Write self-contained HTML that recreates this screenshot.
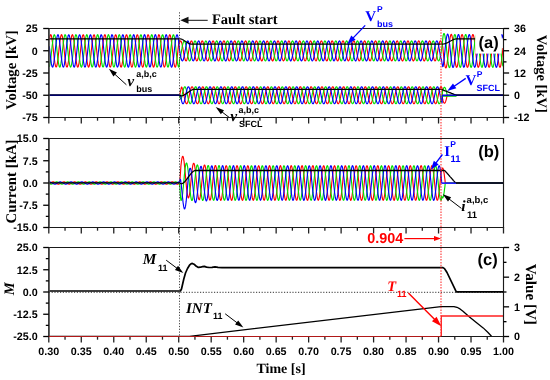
<!DOCTYPE html>
<html><head><meta charset="utf-8"><title>SFCL fault waveforms</title>
<style>html,body{margin:0;padding:0;background:#fff;}svg{display:block;}</style></head>
<body><svg width="550" height="380" viewBox="0 0 550 380" text-rendering="geometricPrecision">
<rect width="550" height="380" fill="#fff"/>
<g id="plot"><polyline points="49.3,39.8 49.7,37.6 50.0,36.0 50.4,35.0 50.7,34.7 51.1,35.0 51.4,36.0 51.8,37.6 52.1,39.8 52.5,42.4 52.8,45.3 53.2,48.5 53.5,51.8 53.9,55.0 54.2,58.1 54.6,60.9 54.9,63.3 55.3,65.1 55.6,66.4 56.0,67.0 56.3,67.0 56.7,66.3 57.0,65.0 57.4,63.1 57.7,60.7 58.1,57.9 58.4,54.8 58.8,51.5 59.1,48.3 59.5,45.1 59.8,42.2 60.2,39.6 60.5,37.5 60.9,35.9 61.2,35.0 61.6,34.7 61.9,35.1 62.3,36.1 62.6,37.8 63.0,39.9 63.3,42.6 63.7,45.6 64.0,48.7 64.4,52.0 64.7,55.3 65.1,58.3 65.4,61.1 65.8,63.4 66.1,65.2 66.5,66.5 66.8,67.0 67.2,67.0 67.5,66.2 67.9,64.9 68.2,62.9 68.6,60.5 68.9,57.7 69.3,54.5 69.6,51.3 70.0,48.0 70.3,44.9 70.7,41.9 71.0,39.4 71.4,37.3 71.7,35.8 72.1,34.9 72.4,34.7 72.8,35.1 73.1,36.2 73.5,37.9 73.8,40.1 74.2,42.8 74.5,45.8 74.9,49.0 75.2,52.3 75.6,55.5 75.9,58.5 76.3,61.3 76.6,63.6 77.0,65.3 77.3,66.5 77.7,67.1 78.0,66.9 78.4,66.2 78.7,64.7 79.1,62.8 79.4,60.3 79.8,57.4 80.1,54.3 80.5,51.0 80.8,47.8 81.2,44.6 81.5,41.7 81.9,39.2 82.2,37.2 82.6,35.7 82.9,34.9 83.3,34.7 83.6,35.2 84.0,36.3 84.3,38.1 84.7,40.3 85.0,43.0 85.4,46.0 85.7,49.2 86.1,52.5 86.4,55.7 86.8,58.8 87.1,61.5 87.5,63.7 87.8,65.5 88.2,66.6 88.5,67.1 88.9,66.9 89.2,66.1 89.6,64.6 89.9,62.6 90.3,60.1 90.6,57.2 91.0,54.1 91.3,50.8 91.7,47.5 92.0,44.4 92.4,41.5 92.7,39.1 93.1,37.1 93.4,35.7 93.8,34.9 94.1,34.7 94.5,35.3 94.8,36.4 95.2,38.2 95.5,40.5 95.9,43.2 96.2,46.3 96.6,49.5 96.9,52.8 97.3,56.0 97.6,59.0 98.0,61.6 98.3,63.9 98.7,65.6 99.0,66.7 99.4,67.1 99.7,66.9 100.1,66.0 100.4,64.5 100.8,62.4 101.1,59.9 101.5,57.0 101.8,53.8 102.2,50.5 102.5,47.3 102.9,44.2 103.2,41.3 103.6,38.9 103.9,36.9 104.3,35.6 104.6,34.8 105.0,34.7 105.3,35.3 105.7,36.5 106.0,38.4 106.4,40.7 106.7,43.4 107.1,46.5 107.4,49.7 107.8,53.0 108.1,56.2 108.5,59.2 108.8,61.8 109.2,64.0 109.5,65.7 109.9,66.7 110.2,67.1 110.6,66.8 110.9,65.9 111.3,64.3 111.6,62.2 112.0,59.7 112.3,56.8 112.7,53.6 113.0,50.3 113.4,47.0 113.7,44.0 114.1,41.1 114.4,38.7 114.8,36.8 115.1,35.5 115.5,34.8 115.8,34.8 116.2,35.4 116.5,36.7 116.9,38.5 117.2,40.9 117.6,43.7 117.9,46.7 118.3,50.0 118.6,53.3 119.0,56.4 119.3,59.4 119.7,62.0 120.0,64.2 120.4,65.8 120.7,66.8 121.1,67.1 121.4,66.8 121.8,65.8 122.1,64.2 122.5,62.1 122.8,59.5 123.2,56.5 123.5,53.3 123.9,50.1 124.2,46.8 124.6,43.7 124.9,40.9 125.3,38.6 125.6,36.7 126.0,35.4 126.3,34.8 126.7,34.8 127.0,35.5 127.4,36.8 127.7,38.7 128.1,41.1 128.4,43.9 128.8,47.0 129.1,50.2 129.5,53.5 129.8,56.7 130.2,59.6 130.5,62.2 130.9,64.3 131.2,65.9 131.6,66.8 131.9,67.1 132.3,66.7 132.6,65.7 133.0,64.1 133.3,61.9 133.7,59.3 134.0,56.3 134.4,53.1 134.7,49.8 135.1,46.6 135.4,43.5 135.8,40.8 136.1,38.4 136.5,36.6 136.8,35.4 137.2,34.8 137.5,34.8 137.9,35.5 138.2,36.9 138.6,38.8 138.9,41.3 139.3,44.1 139.6,47.2 140.0,50.5 140.3,53.7 140.7,56.9 141.0,59.8 141.4,62.4 141.7,64.4 142.1,66.0 142.4,66.9 142.8,67.1 143.1,66.7 143.5,65.6 143.8,63.9 144.2,61.7 144.5,59.0 144.9,56.1 145.2,52.9 145.6,49.6 145.9,46.3 146.3,43.3 146.6,40.6 147.0,38.3 147.3,36.5 147.7,35.3 148.0,34.7 148.4,34.9 148.7,35.6 149.1,37.0 149.4,39.0 149.8,41.5 150.1,44.3 150.5,47.4 150.8,50.7 151.2,54.0 151.5,57.1 151.9,60.0 152.2,62.5 152.6,64.6 152.9,66.0 153.3,66.9 153.6,67.1 154.0,66.6 154.3,65.5 154.7,63.8 155.0,61.5 155.4,58.8 155.7,55.8 156.1,52.6 156.4,49.3 156.8,46.1 157.1,43.1 157.5,40.4 157.8,38.1 158.2,36.4 158.5,35.2 158.9,34.7 159.2,34.9 159.6,35.7 159.9,37.2 160.3,39.2 160.6,41.7 161.0,44.6 161.3,47.7 161.7,51.0 162.0,54.2 162.4,57.4 162.7,60.2 163.1,62.7 163.4,64.7 163.8,66.1 164.1,66.9 164.5,67.1 164.8,66.5 165.2,65.4 165.5,63.6 165.9,61.3 166.2,58.6 166.6,55.6 166.9,52.4 167.3,49.1 167.6,45.9 168.0,42.9 168.3,40.2 168.7,38.0 169.0,36.3 169.4,35.2 169.7,34.7 170.1,34.9 170.4,35.8 170.8,37.3 171.1,39.3 171.5,41.9 171.8,44.8 172.2,47.9 172.5,51.2 172.9,54.5 173.2,57.6 173.6,60.4 173.9,62.9 174.3,64.8 174.6,66.2 175.0,67.0 175.3,67.1 175.7,66.5 176.0,65.3 176.4,63.5 176.7,61.1 177.1,58.4 177.4,55.4 177.8,52.1 178.1,48.8 178.5,45.6 178.8,42.6 179.2,40.0 179.5,42.8 179.9,41.8 180.2,41.1 180.6,40.9 180.9,41.1 181.3,41.6 181.6,42.6 182.0,43.9 182.3,45.5 182.7,47.3 183.0,49.2 183.4,51.2 183.7,53.3 184.1,55.2 184.4,56.9 184.8,58.4 185.1,59.6 185.5,60.4 185.8,60.8 186.2,60.9 186.5,60.5 186.9,59.7 187.2,58.6 187.6,57.1 187.9,55.4 188.3,53.5 188.6,51.5 189.0,49.5 189.3,47.5 189.7,45.7 190.0,44.1 190.4,42.7 190.7,41.7 191.1,41.1 191.4,40.9 191.8,41.1 192.1,41.7 192.5,42.7 192.8,44.0 193.2,45.6 193.5,47.4 193.9,49.4 194.2,51.4 194.6,53.4 194.9,55.3 195.3,57.0 195.6,58.5 196.0,59.6 196.3,60.4 196.7,60.9 197.0,60.8 197.4,60.4 197.7,59.6 198.1,58.5 198.4,57.0 198.8,55.3 199.1,53.4 199.5,51.3 199.8,49.3 200.2,47.4 200.5,45.5 200.9,44.0 201.2,42.6 201.6,41.7 201.9,41.1 202.3,40.9 202.6,41.1 203.0,41.8 203.3,42.8 203.7,44.1 204.0,45.7 204.4,47.5 204.7,49.5 205.1,51.5 205.4,53.5 205.8,55.4 206.1,57.1 206.5,58.6 206.8,59.7 207.2,60.5 207.5,60.9 207.9,60.8 208.2,60.4 208.6,59.6 208.9,58.4 209.3,56.9 209.6,55.1 210.0,53.2 210.3,51.2 210.7,49.2 211.0,47.2 211.4,45.4 211.7,43.8 212.1,42.6 212.4,41.6 212.8,41.1 213.1,40.9 213.5,41.2 213.8,41.8 214.2,42.8 214.5,44.2 214.9,45.8 215.2,47.7 215.6,49.7 215.9,51.7 216.3,53.7 216.6,55.6 217.0,57.3 217.3,58.7 217.7,59.8 218.0,60.5 218.4,60.9 218.7,60.8 219.1,60.3 219.4,59.5 219.8,58.3 220.1,56.7 220.5,55.0 220.8,53.1 221.2,51.0 221.5,49.0 221.9,47.1 222.2,45.3 222.6,43.7 222.9,42.5 223.3,41.6 223.6,41.0 224.0,40.9 224.3,41.2 224.7,41.9 225.0,42.9 225.4,44.3 225.7,46.0 226.1,47.8 226.4,49.8 226.8,51.8 227.1,53.8 227.5,55.7 227.8,57.4 228.2,58.8 228.5,59.9 228.9,60.6 229.2,60.9 229.6,60.8 229.9,60.3 230.3,59.4 230.6,58.2 231.0,56.6 231.3,54.8 231.7,52.9 232.0,50.9 232.4,48.9 232.7,46.9 233.1,45.2 233.4,43.6 233.8,42.4 234.1,41.5 234.5,41.0 234.8,40.9 235.2,41.2 235.5,41.9 235.9,43.0 236.2,44.4 236.6,46.1 236.9,48.0 237.3,50.0 237.6,52.0 238.0,54.0 238.3,55.8 238.7,57.5 239.0,58.9 239.4,59.9 239.7,60.6 240.1,60.9 240.4,60.8 240.8,60.2 241.1,59.3 241.5,58.0 241.8,56.5 242.2,54.7 242.5,52.8 242.9,50.7 243.2,48.7 243.6,46.8 243.9,45.0 244.3,43.5 244.6,42.3 245.0,41.5 245.3,41.0 245.7,40.9 246.0,41.3 246.4,42.0 246.7,43.1 247.1,44.6 247.4,46.2 247.8,48.1 248.1,50.1 248.5,52.1 248.8,54.1 249.2,56.0 249.5,57.6 249.9,59.0 250.2,60.0 250.6,60.6 250.9,60.9 251.3,60.7 251.6,60.2 252.0,59.2 252.3,57.9 252.7,56.4 253.0,54.6 253.4,52.6 253.7,50.6 254.1,48.6 254.4,46.7 254.8,44.9 255.1,43.4 255.5,42.2 255.8,41.4 256.2,41.0 256.5,40.9 256.9,41.3 257.2,42.1 257.6,43.2 257.9,44.7 258.3,46.4 258.6,48.3 259.0,50.3 259.3,52.3 259.7,54.3 260.0,56.1 260.4,57.7 260.7,59.1 261.1,60.1 261.4,60.7 261.8,60.9 262.1,60.7 262.5,60.1 262.8,59.1 263.2,57.8 263.5,56.2 263.9,54.4 264.2,52.5 264.6,50.4 264.9,48.4 265.3,46.5 265.6,44.8 266.0,43.3 266.3,42.2 266.7,41.4 267.0,41.0 267.4,41.0 267.7,41.4 268.1,42.2 268.4,43.3 268.8,44.8 269.1,46.5 269.5,48.4 269.8,50.4 270.2,52.5 270.5,54.4 270.9,56.2 271.2,57.8 271.6,59.1 271.9,60.1 272.3,60.7 272.6,60.9 273.0,60.7 273.3,60.1 273.7,59.1 274.0,57.7 274.4,56.1 274.7,54.3 275.1,52.3 275.4,50.3 275.8,48.3 276.1,46.4 276.5,44.7 276.9,43.2 277.2,42.1 277.6,41.3 277.9,40.9 278.3,41.0 278.6,41.4 279.0,42.2 279.3,43.4 279.7,44.9 280.0,46.7 280.4,48.6 280.7,50.6 281.1,52.6 281.4,54.6 281.8,56.4 282.1,57.9 282.5,59.2 282.8,60.2 283.2,60.7 283.5,60.9 283.9,60.6 284.2,60.0 284.6,59.0 284.9,57.6 285.3,56.0 285.6,54.1 286.0,52.2 286.3,50.1 286.7,48.1 287.0,46.3 287.4,44.6 287.7,43.1 288.1,42.0 288.4,41.3 288.8,40.9 289.1,41.0 289.5,41.5 289.8,42.3 290.2,43.5 290.5,45.0 290.9,46.8 291.2,48.7 291.6,50.7 291.9,52.8 292.3,54.7 292.6,56.5 293.0,58.0 293.3,59.3 293.7,60.2 294.0,60.8 294.4,60.9 294.7,60.6 295.1,59.9 295.4,58.9 295.8,57.5 296.1,55.8 296.5,54.0 296.8,52.0 297.2,50.0 297.5,48.0 297.9,46.1 298.2,44.4 298.6,43.0 298.9,42.0 299.3,41.2 299.6,40.9 300.0,41.0 300.3,41.5 300.7,42.4 301.0,43.6 301.4,45.2 301.7,46.9 302.1,48.9 302.4,50.9 302.8,52.9 303.1,54.8 303.5,56.6 303.8,58.1 304.2,59.4 304.5,60.3 304.9,60.8 305.2,60.9 305.6,60.6 305.9,59.9 306.3,58.8 306.6,57.4 307.0,55.7 307.3,53.8 307.7,51.9 308.0,49.8 308.4,47.8 308.7,46.0 309.1,44.3 309.4,42.9 309.8,41.9 310.1,41.2 310.5,40.9 310.8,41.0 311.2,41.6 311.5,42.5 311.9,43.7 312.2,45.3 312.6,47.1 312.9,49.0 313.3,51.0 313.6,53.0 314.0,55.0 314.3,56.7 314.7,58.3 315.0,59.5 315.4,60.3 315.7,60.8 316.1,60.9 316.4,60.5 316.8,59.8 317.1,58.7 317.5,57.3 317.8,55.6 318.2,53.7 318.5,51.7 318.9,49.7 319.2,47.7 319.6,45.9 319.9,44.2 320.3,42.9 320.6,41.8 321.0,41.2 321.3,40.9 321.7,41.1 322.0,41.6 322.4,42.6 322.7,43.8 323.1,45.4 323.4,47.2 323.8,49.2 324.1,51.2 324.5,53.2 324.8,55.1 325.2,56.9 325.5,58.4 325.9,59.5 326.2,60.4 326.6,60.8 326.9,60.9 327.3,60.5 327.6,59.7 328.0,58.6 328.3,57.1 328.7,55.4 329.0,53.6 329.4,51.6 329.7,49.5 330.1,47.6 330.4,45.7 330.8,44.1 331.1,42.8 331.5,41.8 331.8,41.1 332.2,40.9 332.5,41.1 332.9,41.7 333.2,42.6 333.6,43.9 333.9,45.5 334.3,47.4 334.6,49.3 335.0,51.3 335.3,53.3 335.7,55.3 336.0,57.0 336.4,58.5 336.7,59.6 337.1,60.4 337.4,60.8 337.8,60.9 338.1,60.4 338.5,59.7 338.8,58.5 339.2,57.0 339.5,55.3 339.9,53.4 340.2,51.4 340.6,49.4 340.9,47.4 341.3,45.6 341.6,44.0 342.0,42.7 342.3,41.7 342.7,41.1 343.0,40.9 343.4,41.1 343.7,41.7 344.1,42.7 344.4,44.1 344.8,45.7 345.1,47.5 345.5,49.5 345.8,51.5 346.2,53.5 346.5,55.4 346.9,57.1 347.2,58.6 347.6,59.7 347.9,60.5 348.3,60.9 348.6,60.8 349.0,60.4 349.3,59.6 349.7,58.4 350.0,56.9 350.4,55.2 350.7,53.3 351.1,51.2 351.4,49.2 351.8,47.3 352.1,45.5 352.5,43.9 352.8,42.6 353.2,41.6 353.5,41.1 353.9,40.9 354.2,41.1 354.6,41.8 354.9,42.8 355.3,44.2 355.6,45.8 356.0,47.6 356.3,49.6 356.7,51.6 357.0,53.6 357.4,55.5 357.7,57.2 358.1,58.7 358.4,59.8 358.8,60.5 359.1,60.9 359.5,60.8 359.8,60.4 360.2,59.5 360.5,58.3 360.9,56.8 361.2,55.0 361.6,53.1 361.9,51.1 362.3,49.1 362.6,47.1 363.0,45.3 363.3,43.8 363.7,42.5 364.0,41.6 364.4,41.0 364.7,40.9 365.1,41.2 365.4,41.9 365.8,42.9 366.1,44.3 366.5,45.9 366.8,47.8 367.2,49.8 367.5,51.8 367.9,53.8 368.2,55.7 368.6,57.3 368.9,58.7 369.3,59.8 369.6,60.6 370.0,60.9 370.3,60.8 370.7,60.3 371.0,59.4 371.4,58.2 371.7,56.7 372.1,54.9 372.4,53.0 372.8,50.9 373.1,48.9 373.5,47.0 373.8,45.2 374.2,43.7 374.5,42.4 374.9,41.5 375.2,41.0 375.6,40.9 375.9,41.2 376.3,41.9 376.6,43.0 377.0,44.4 377.3,46.1 377.7,47.9 378.0,49.9 378.4,51.9 378.7,53.9 379.1,55.8 379.4,57.4 379.8,58.8 380.1,59.9 380.5,60.6 380.8,60.9 381.2,60.8 381.5,60.3 381.9,59.3 382.2,58.1 382.6,56.5 382.9,54.8 383.3,52.8 383.6,50.8 384.0,48.8 384.3,46.8 384.7,45.1 385.0,43.6 385.4,42.3 385.7,41.5 386.1,41.0 386.4,40.9 386.8,41.3 387.1,42.0 387.5,43.1 387.8,44.5 388.2,46.2 388.5,48.1 388.9,50.1 389.2,52.1 389.6,54.1 389.9,55.9 390.3,57.6 390.6,58.9 391.0,60.0 391.3,60.6 391.7,60.9 392.0,60.7 392.4,60.2 392.7,59.3 393.1,58.0 393.4,56.4 393.8,54.6 394.1,52.7 394.5,50.6 394.8,48.6 395.2,46.7 395.5,45.0 395.9,43.5 396.2,42.3 396.6,41.4 396.9,41.0 397.3,40.9 397.6,41.3 398.0,42.1 398.3,43.2 398.7,44.6 399.0,46.3 399.4,48.2 399.7,50.2 400.1,52.2 400.4,54.2 400.8,56.1 401.1,57.7 401.5,59.0 401.8,60.0 402.2,60.7 402.5,60.9 402.9,60.7 403.2,60.1 403.6,59.2 403.9,57.9 404.3,56.3 404.6,54.5 405.0,52.5 405.3,50.5 405.7,48.5 406.0,46.6 406.4,44.8 406.7,43.4 407.1,42.2 407.4,41.4 407.8,41.0 408.1,40.9 408.5,41.3 408.8,42.1 409.2,43.3 409.5,44.7 409.9,46.5 410.2,48.4 410.6,50.4 410.9,52.4 411.3,54.4 411.6,56.2 412.0,57.8 412.3,59.1 412.7,60.1 413.0,60.7 413.4,60.9 413.7,60.7 414.1,60.1 414.4,59.1 414.8,57.8 415.1,56.2 415.5,54.3 415.8,52.4 416.2,50.3 416.5,48.3 416.9,46.4 417.2,44.7 417.6,43.3 417.9,42.1 418.3,41.3 418.6,40.9 419.0,41.0 419.3,41.4 419.7,42.2 420.0,43.4 420.4,44.9 420.7,46.6 421.1,48.5 421.4,50.5 421.8,52.5 422.1,54.5 422.5,56.3 422.8,57.9 423.2,59.2 423.5,60.2 423.9,60.7 424.2,60.9 424.6,60.7 424.9,60.0 425.3,59.0 425.6,57.7 426.0,56.0 426.3,54.2 426.7,52.2 427.0,50.2 427.4,48.2 427.7,46.3 428.1,44.6 428.4,43.2 428.8,42.0 429.1,41.3 429.5,40.9 429.8,41.0 430.2,41.4 430.5,42.3 430.9,43.5 431.2,45.0 431.6,46.7 431.9,48.7 432.3,50.7 432.6,52.7 433.0,54.6 433.3,56.4 433.7,58.0 434.0,59.3 434.4,60.2 434.7,60.8 435.1,60.9 435.4,60.6 435.8,60.0 436.1,58.9 436.5,57.5 436.8,55.9 437.2,54.0 437.5,52.1 437.9,50.0 438.2,48.0 438.6,46.2 438.9,44.5 439.3,43.1 439.6,42.0 440.0,41.2 440.3,40.9 440.7,41.0 441.0,41.5 441.4,42.4 441.7,43.0 442.1,43.5 442.4,45.0 442.8,47.4 443.1,50.8 443.5,54.3 443.8,57.7 444.2,60.8 444.5,63.4 444.9,65.5 445.2,67.0 445.6,67.8 445.9,67.9 446.3,67.4 446.6,66.1 447.0,64.3 447.3,61.9 447.7,59.1 448.0,55.9 448.4,52.6 448.7,49.2 449.1,45.9 449.4,42.8 449.8,40.0 450.1,37.7 450.5,36.0 450.8,34.8 451.2,34.3 451.5,34.5 451.9,35.4 452.2,36.9 452.6,39.0 452.9,41.6 453.3,44.5 453.6,47.7 454.0,51.0 454.3,54.4 454.7,57.5 455.0,60.4 455.4,62.9 455.7,65.0 456.1,66.4 456.4,67.2 456.8,67.3 457.1,66.8 457.5,65.6 457.8,63.8 458.2,61.4 458.5,58.7 458.9,55.6 459.2,52.3 459.6,49.0 459.9,45.7 460.3,42.7 460.6,40.0 461.0,37.7 461.3,36.0 461.7,34.9 462.0,34.5 462.4,34.7 462.7,35.6 463.1,37.2 463.4,39.2 463.8,41.8 464.1,44.8 464.5,48.0 464.8,51.3 465.2,54.6 465.5,57.7 465.9,60.6 466.2,63.1 466.6,65.0 466.9,66.4 467.3,67.2 467.6,67.3 468.0,66.7 468.3,65.4 468.7,63.6 469.0,61.2 469.4,58.4 469.7,55.3 470.1,52.1 470.4,48.7 470.8,45.5 471.1,42.5 471.5,39.8 471.8,37.6 472.2,35.9 472.5,34.9 472.9,34.5 473.2,34.8 473.6,35.7 473.9,37.3 474.3,39.4 474.6,42.0 475.0,45.0 475.3,48.2 475.7,51.5 476.0,54.8 476.4,58.0 476.7,60.8 477.1,63.2 477.4,65.2 477.8,66.5 478.1,67.2 478.5,67.2 478.8,66.6 479.2,65.3 479.5,63.4 479.9,61.0 480.2,58.2 480.6,55.1 480.9,51.8 481.3,48.5 481.6,45.3 482.0,42.3 482.3,39.6 482.7,37.5 483.0,35.8 483.4,34.8 483.7,34.5 484.1,34.8 484.4,35.8 484.8,37.4 485.1,39.6 485.5,42.2 485.8,45.2 486.2,48.5 486.5,51.8 486.9,55.1 487.2,58.2 487.6,61.0 487.9,63.4 488.3,65.3 488.6,66.6 489.0,67.2 489.3,67.2 489.7,66.5 490.0,65.2 490.4,63.3 490.7,60.8 491.1,58.0 491.4,54.9 491.8,51.6 492.1,48.2 492.5,45.0 492.8,42.1 493.2,39.5 493.5,37.3 493.9,35.7 494.2,34.8 494.6,34.5 494.9,34.9 495.3,35.9 495.6,37.6 496.0,39.8 496.3,42.5 496.7,45.5 497.0,48.7 497.4,52.0 497.7,55.3 498.1,58.4 498.4,61.2 498.8,63.6 499.1,65.4 499.5,66.6 499.8,67.2 500.2,67.2 500.5,66.4 500.9,65.1 501.2,63.1 501.6,60.6 501.9,57.8 502.3,54.6 502.6,51.3 503.0,48.0" fill="none" stroke="#ff0000" stroke-width="1.15" stroke-linejoin="round" />
<polyline points="49.3,66.7 49.7,65.6 50.0,63.9 50.4,61.7 50.7,59.0 51.1,56.0 51.4,52.8 51.8,49.5 52.1,46.3 52.5,43.2 52.8,40.5 53.2,38.2 53.5,36.4 53.9,35.3 54.2,34.7 54.6,34.9 54.9,35.6 55.3,37.1 55.6,39.0 56.0,41.5 56.3,44.4 56.7,47.5 57.0,50.8 57.4,54.0 57.7,57.2 58.1,60.1 58.4,62.6 58.8,64.6 59.1,66.1 59.5,66.9 59.8,67.1 60.2,66.6 60.5,65.5 60.9,63.7 61.2,61.5 61.6,58.8 61.9,55.8 62.3,52.5 62.6,49.3 63.0,46.0 63.3,43.0 63.7,40.3 64.0,38.1 64.4,36.3 64.7,35.2 65.1,34.7 65.4,34.9 65.8,35.7 66.1,37.2 66.5,39.2 66.8,41.7 67.2,44.6 67.5,47.7 67.9,51.0 68.2,54.3 68.6,57.4 68.9,60.3 69.3,62.7 69.6,64.7 70.0,66.1 70.3,66.9 70.7,67.1 71.0,66.5 71.4,65.4 71.7,63.6 72.1,61.3 72.4,58.6 72.8,55.5 73.1,52.3 73.5,49.0 73.8,45.8 74.2,42.8 74.5,40.1 74.9,37.9 75.2,36.2 75.6,35.1 75.9,34.7 76.3,34.9 76.6,35.8 77.0,37.3 77.3,39.4 77.7,41.9 78.0,44.8 78.4,48.0 78.7,51.3 79.1,54.5 79.4,57.6 79.8,60.5 80.1,62.9 80.5,64.9 80.8,66.2 81.2,67.0 81.5,67.1 81.9,66.5 82.2,65.2 82.6,63.4 82.9,61.1 83.3,58.3 83.6,55.3 84.0,52.1 84.3,48.8 84.7,45.6 85.0,42.6 85.4,40.0 85.7,37.8 86.1,36.1 86.4,35.1 86.8,34.7 87.1,35.0 87.5,35.9 87.8,37.5 88.2,39.6 88.5,42.1 88.9,45.1 89.2,48.2 89.6,51.5 89.9,54.8 90.3,57.9 90.6,60.7 91.0,63.1 91.3,65.0 91.7,66.3 92.0,67.0 92.4,67.0 92.7,66.4 93.1,65.1 93.4,63.3 93.8,60.9 94.1,58.1 94.5,55.1 94.8,51.8 95.2,48.5 95.5,45.3 95.9,42.4 96.2,39.8 96.6,37.6 96.9,36.0 97.3,35.0 97.6,34.7 98.0,35.0 98.3,36.0 98.7,37.6 99.0,39.7 99.4,42.3 99.7,45.3 100.1,48.5 100.4,51.8 100.8,55.0 101.1,58.1 101.5,60.9 101.8,63.2 102.2,65.1 102.5,66.4 102.9,67.0 103.2,67.0 103.6,66.3 103.9,65.0 104.3,63.1 104.6,60.7 105.0,57.9 105.3,54.8 105.7,51.6 106.0,48.3 106.4,45.1 106.7,42.2 107.1,39.6 107.4,37.5 107.8,35.9 108.1,35.0 108.5,34.7 108.8,35.1 109.2,36.1 109.5,37.7 109.9,39.9 110.2,42.6 110.6,45.5 110.9,48.7 111.3,52.0 111.6,55.2 112.0,58.3 112.3,61.1 112.7,63.4 113.0,65.2 113.4,66.5 113.7,67.0 114.1,67.0 114.4,66.2 114.8,64.9 115.1,62.9 115.5,60.5 115.8,57.7 116.2,54.6 116.5,51.3 116.9,48.0 117.2,44.9 117.6,42.0 117.9,39.4 118.3,37.4 118.6,35.8 119.0,34.9 119.3,34.7 119.7,35.1 120.0,36.2 120.4,37.9 120.7,40.1 121.1,42.8 121.4,45.8 121.8,49.0 122.1,52.2 122.5,55.5 122.8,58.5 123.2,61.2 123.5,63.6 123.9,65.3 124.2,66.5 124.6,67.1 124.9,66.9 125.3,66.2 125.6,64.8 126.0,62.8 126.3,60.3 126.7,57.5 127.0,54.3 127.4,51.1 127.7,47.8 128.1,44.7 128.4,41.8 128.8,39.3 129.1,37.2 129.5,35.8 129.8,34.9 130.2,34.7 130.5,35.2 130.9,36.3 131.2,38.0 131.6,40.3 131.9,43.0 132.3,46.0 132.6,49.2 133.0,52.5 133.3,55.7 133.7,58.7 134.0,61.4 134.4,63.7 134.7,65.4 135.1,66.6 135.4,67.1 135.8,66.9 136.1,66.1 136.5,64.6 136.8,62.6 137.2,60.1 137.5,57.2 137.9,54.1 138.2,50.8 138.6,47.6 138.9,44.4 139.3,41.6 139.6,39.1 140.0,37.1 140.3,35.7 140.7,34.9 141.0,34.7 141.4,35.3 141.7,36.4 142.1,38.2 142.4,40.5 142.8,43.2 143.1,46.2 143.5,49.5 143.8,52.7 144.2,55.9 144.5,59.0 144.9,61.6 145.2,63.9 145.6,65.5 145.9,66.6 146.3,67.1 146.6,66.9 147.0,66.0 147.3,64.5 147.7,62.4 148.0,59.9 148.4,57.0 148.7,53.9 149.1,50.6 149.4,47.3 149.8,44.2 150.1,41.4 150.5,38.9 150.8,37.0 151.2,35.6 151.5,34.8 151.9,34.7 152.2,35.3 152.6,36.5 152.9,38.3 153.3,40.7 153.6,43.4 154.0,46.5 154.3,49.7 154.7,53.0 155.0,56.2 155.4,59.2 155.7,61.8 156.1,64.0 156.4,65.7 156.8,66.7 157.1,67.1 157.5,66.8 157.8,65.9 158.2,64.4 158.5,62.3 158.9,59.7 159.2,56.8 159.6,53.6 159.9,50.3 160.3,47.1 160.6,44.0 161.0,41.2 161.3,38.8 161.7,36.8 162.0,35.5 162.4,34.8 162.7,34.8 163.1,35.4 163.4,36.7 163.8,38.5 164.1,40.9 164.5,43.6 164.8,46.7 165.2,49.9 165.5,53.2 165.9,56.4 166.2,59.4 166.6,62.0 166.9,64.1 167.3,65.8 167.6,66.8 168.0,67.1 168.3,66.8 168.7,65.8 169.0,64.2 169.4,62.1 169.7,59.5 170.1,56.5 170.4,53.4 170.8,50.1 171.1,46.8 171.5,43.8 171.8,41.0 172.2,38.6 172.5,36.7 172.9,35.4 173.2,34.8 173.6,34.8 173.9,35.5 174.3,36.8 174.6,38.7 175.0,41.1 175.3,43.9 175.7,46.9 176.0,50.2 176.4,53.5 176.7,56.6 177.1,59.6 177.4,62.2 177.8,64.3 178.1,65.8 178.5,66.8 178.8,67.1 179.2,66.7 179.5,60.0 179.9,59.0 180.2,57.7 180.6,56.1 180.9,54.2 181.3,52.3 181.6,50.2 182.0,48.2 182.3,46.4 182.7,44.7 183.0,43.2 183.4,42.1 183.7,41.3 184.1,40.9 184.4,41.0 184.8,41.4 185.1,42.3 185.5,43.4 185.8,44.9 186.2,46.7 186.5,48.6 186.9,50.6 187.2,52.6 187.6,54.6 187.9,56.4 188.3,58.0 188.6,59.2 189.0,60.2 189.3,60.7 189.7,60.9 190.0,60.6 190.4,60.0 190.7,58.9 191.1,57.6 191.4,55.9 191.8,54.1 192.1,52.1 192.5,50.1 192.8,48.1 193.2,46.2 193.5,44.5 193.9,43.1 194.2,42.0 194.6,41.3 194.9,40.9 195.3,41.0 195.6,41.5 196.0,42.3 196.3,43.5 196.7,45.1 197.0,46.8 197.4,48.8 197.7,50.8 198.1,52.8 198.4,54.7 198.8,56.5 199.1,58.1 199.5,59.3 199.8,60.2 200.2,60.8 200.5,60.9 200.9,60.6 201.2,59.9 201.6,58.9 201.9,57.5 202.3,55.8 202.6,54.0 203.0,52.0 203.3,49.9 203.7,48.0 204.0,46.1 204.4,44.4 204.7,43.0 205.1,41.9 205.4,41.2 205.8,40.9 206.1,41.0 206.5,41.5 206.8,42.4 207.2,43.7 207.5,45.2 207.9,47.0 208.2,48.9 208.6,50.9 208.9,52.9 209.3,54.9 209.6,56.6 210.0,58.2 210.3,59.4 210.7,60.3 211.0,60.8 211.4,60.9 211.7,60.6 212.1,59.8 212.4,58.8 212.8,57.4 213.1,55.7 213.5,53.8 213.8,51.8 214.2,49.8 214.5,47.8 214.9,46.0 215.2,44.3 215.6,42.9 215.9,41.9 216.3,41.2 216.6,40.9 217.0,41.0 217.3,41.6 217.7,42.5 218.0,43.8 218.4,45.3 218.7,47.1 219.1,49.0 219.4,51.1 219.8,53.1 220.1,55.0 220.5,56.8 220.8,58.3 221.2,59.5 221.5,60.3 221.9,60.8 222.2,60.9 222.6,60.5 222.9,59.8 223.3,58.7 223.6,57.2 224.0,55.5 224.3,53.7 224.7,51.7 225.0,49.6 225.4,47.7 225.7,45.8 226.1,44.2 226.4,42.8 226.8,41.8 227.1,41.2 227.5,40.9 227.8,41.1 228.2,41.6 228.5,42.6 228.9,43.9 229.2,45.4 229.6,47.2 229.9,49.2 230.3,51.2 230.6,53.2 231.0,55.1 231.3,56.9 231.7,58.4 232.0,59.6 232.4,60.4 232.7,60.8 233.1,60.9 233.4,60.5 233.8,59.7 234.1,58.6 234.5,57.1 234.8,55.4 235.2,53.5 235.5,51.5 235.9,49.5 236.2,47.5 236.6,45.7 236.9,44.1 237.3,42.7 237.6,41.7 238.0,41.1 238.3,40.9 238.7,41.1 239.0,41.7 239.4,42.7 239.7,44.0 240.1,45.6 240.4,47.4 240.8,49.3 241.1,51.4 241.5,53.4 241.8,55.3 242.2,57.0 242.5,58.5 242.9,59.6 243.2,60.4 243.6,60.8 243.9,60.8 244.3,60.4 244.6,59.6 245.0,58.5 245.3,57.0 245.7,55.3 246.0,53.4 246.4,51.4 246.7,49.3 247.1,47.4 247.4,45.6 247.8,44.0 248.1,42.7 248.5,41.7 248.8,41.1 249.2,40.9 249.5,41.1 249.9,41.7 250.2,42.7 250.6,44.1 250.9,45.7 251.3,47.5 251.6,49.5 252.0,51.5 252.3,53.5 252.7,55.4 253.0,57.1 253.4,58.6 253.7,59.7 254.1,60.5 254.4,60.9 254.8,60.8 255.1,60.4 255.5,59.6 255.8,58.4 256.2,56.9 256.5,55.1 256.9,53.2 257.2,51.2 257.6,49.2 257.9,47.2 258.3,45.4 258.6,43.9 259.0,42.6 259.3,41.6 259.7,41.1 260.0,40.9 260.4,41.2 260.7,41.8 261.1,42.8 261.4,44.2 261.8,45.8 262.1,47.7 262.5,49.7 262.8,51.7 263.2,53.7 263.5,55.6 263.9,57.2 264.2,58.7 264.6,59.8 264.9,60.5 265.3,60.9 265.6,60.8 266.0,60.3 266.3,59.5 266.7,58.3 267.0,56.8 267.4,55.0 267.7,53.1 268.1,51.1 268.4,49.0 268.8,47.1 269.1,45.3 269.5,43.8 269.8,42.5 270.2,41.6 270.5,41.0 270.9,40.9 271.2,41.2 271.6,41.9 271.9,42.9 272.3,44.3 272.6,46.0 273.0,47.8 273.3,49.8 273.7,51.8 274.0,53.8 274.4,55.7 274.7,57.4 275.1,58.8 275.4,59.9 275.8,60.6 276.1,60.9 276.5,60.8 276.9,60.3 277.2,59.4 277.6,58.2 277.9,56.6 278.3,54.9 278.6,52.9 279.0,50.9 279.3,48.9 279.7,47.0 280.0,45.2 280.4,43.6 280.7,42.4 281.1,41.5 281.4,41.0 281.8,40.9 282.1,41.2 282.5,41.9 282.8,43.0 283.2,44.4 283.5,46.1 283.9,48.0 284.2,50.0 284.6,52.0 284.9,54.0 285.3,55.8 285.6,57.5 286.0,58.9 286.3,59.9 286.7,60.6 287.0,60.9 287.4,60.8 287.7,60.2 288.1,59.3 288.4,58.1 288.8,56.5 289.1,54.7 289.5,52.8 289.8,50.8 290.2,48.7 290.5,46.8 290.9,45.1 291.2,43.5 291.6,42.3 291.9,41.5 292.3,41.0 292.6,40.9 293.0,41.3 293.3,42.0 293.7,43.1 294.0,44.5 294.4,46.2 294.7,48.1 295.1,50.1 295.4,52.1 295.8,54.1 296.1,56.0 296.5,57.6 296.8,59.0 297.2,60.0 297.5,60.6 297.9,60.9 298.2,60.7 298.6,60.2 298.9,59.2 299.3,58.0 299.6,56.4 300.0,54.6 300.3,52.6 300.7,50.6 301.0,48.6 301.4,46.7 301.7,44.9 302.1,43.4 302.4,42.2 302.8,41.4 303.1,41.0 303.5,40.9 303.8,41.3 304.2,42.1 304.5,43.2 304.9,44.7 305.2,46.4 305.6,48.3 305.9,50.3 306.3,52.3 306.6,54.3 307.0,56.1 307.3,57.7 307.7,59.0 308.0,60.0 308.4,60.7 308.7,60.9 309.1,60.7 309.4,60.1 309.8,59.2 310.1,57.8 310.5,56.3 310.8,54.4 311.2,52.5 311.5,50.5 311.9,48.4 312.2,46.5 312.6,44.8 312.9,43.3 313.3,42.2 313.6,41.4 314.0,41.0 314.3,40.9 314.7,41.4 315.0,42.2 315.4,43.3 315.7,44.8 316.1,46.5 316.4,48.4 316.8,50.4 317.1,52.4 317.5,54.4 317.8,56.2 318.2,57.8 318.5,59.1 318.9,60.1 319.2,60.7 319.6,60.9 319.9,60.7 320.3,60.1 320.6,59.1 321.0,57.7 321.3,56.1 321.7,54.3 322.0,52.3 322.4,50.3 322.7,48.3 323.1,46.4 323.4,44.7 323.8,43.2 324.1,42.1 324.5,41.3 324.8,40.9 325.2,41.0 325.5,41.4 325.9,42.2 326.2,43.4 326.6,44.9 326.9,46.6 327.3,48.5 327.6,50.6 328.0,52.6 328.3,54.5 328.7,56.3 329.0,57.9 329.4,59.2 329.7,60.2 330.1,60.7 330.4,60.9 330.8,60.7 331.1,60.0 331.5,59.0 331.8,57.6 332.2,56.0 332.5,54.2 332.9,52.2 333.2,50.1 333.6,48.2 333.9,46.3 334.3,44.6 334.6,43.1 335.0,42.0 335.3,41.3 335.7,40.9 336.0,41.0 336.4,41.4 336.7,42.3 337.1,43.5 337.4,45.0 337.8,46.8 338.1,48.7 338.5,50.7 338.8,52.7 339.2,54.7 339.5,56.5 339.9,58.0 340.2,59.3 340.6,60.2 340.9,60.8 341.3,60.9 341.6,60.6 342.0,59.9 342.3,58.9 342.7,57.5 343.0,55.9 343.4,54.0 343.7,52.0 344.1,50.0 344.4,48.0 344.8,46.1 345.1,44.5 345.5,43.0 345.8,42.0 346.2,41.2 346.5,40.9 346.9,41.0 347.2,41.5 347.6,42.4 347.9,43.6 348.3,45.1 348.6,46.9 349.0,48.8 349.3,50.9 349.7,52.9 350.0,54.8 350.4,56.6 350.7,58.1 351.1,59.4 351.4,60.3 351.8,60.8 352.1,60.9 352.5,60.6 352.8,59.9 353.2,58.8 353.5,57.4 353.9,55.7 354.2,53.9 354.6,51.9 354.9,49.8 355.3,47.9 355.6,46.0 356.0,44.3 356.3,43.0 356.7,41.9 357.0,41.2 357.4,40.9 357.7,41.0 358.1,41.6 358.4,42.5 358.8,43.7 359.1,45.3 359.5,47.1 359.8,49.0 360.2,51.0 360.5,53.0 360.9,55.0 361.2,56.7 361.6,58.2 361.9,59.5 362.3,60.3 362.6,60.8 363.0,60.9 363.3,60.5 363.7,59.8 364.0,58.7 364.4,57.3 364.7,55.6 365.1,53.7 365.4,51.7 365.8,49.7 366.1,47.7 366.5,45.9 366.8,44.2 367.2,42.9 367.5,41.8 367.9,41.2 368.2,40.9 368.6,41.1 368.9,41.6 369.3,42.5 369.6,43.8 370.0,45.4 370.3,47.2 370.7,49.1 371.0,51.2 371.4,53.2 371.7,55.1 372.1,56.8 372.4,58.3 372.8,59.5 373.1,60.4 373.5,60.8 373.8,60.9 374.2,60.5 374.5,59.7 374.9,58.6 375.2,57.2 375.6,55.5 375.9,53.6 376.3,51.6 376.6,49.5 377.0,47.6 377.3,45.7 377.7,44.1 378.0,42.8 378.4,41.8 378.7,41.1 379.1,40.9 379.4,41.1 379.8,41.7 380.1,42.6 380.5,43.9 380.8,45.5 381.2,47.3 381.5,49.3 381.9,51.3 382.2,53.3 382.6,55.2 382.9,57.0 383.3,58.4 383.6,59.6 384.0,60.4 384.3,60.8 384.7,60.9 385.0,60.5 385.4,59.7 385.7,58.5 386.1,57.0 386.4,55.3 386.8,53.4 387.1,51.4 387.5,49.4 387.8,47.4 388.2,45.6 388.5,44.0 388.9,42.7 389.2,41.7 389.6,41.1 389.9,40.9 390.3,41.1 390.6,41.7 391.0,42.7 391.3,44.0 391.7,45.7 392.0,47.5 392.4,49.4 392.7,51.5 393.1,53.5 393.4,55.4 393.8,57.1 394.1,58.5 394.5,59.7 394.8,60.5 395.2,60.9 395.5,60.8 395.9,60.4 396.2,59.6 396.6,58.4 396.9,56.9 397.3,55.2 397.6,53.3 398.0,51.3 398.3,49.2 398.7,47.3 399.0,45.5 399.4,43.9 399.7,42.6 400.1,41.6 400.4,41.1 400.8,40.9 401.1,41.1 401.5,41.8 401.8,42.8 402.2,44.2 402.5,45.8 402.9,47.6 403.2,49.6 403.6,51.6 403.9,53.6 404.3,55.5 404.6,57.2 405.0,58.6 405.3,59.8 405.7,60.5 406.0,60.9 406.4,60.8 406.7,60.4 407.1,59.5 407.4,58.3 407.8,56.8 408.1,55.1 408.5,53.1 408.8,51.1 409.2,49.1 409.5,47.1 409.9,45.4 410.2,43.8 410.6,42.5 410.9,41.6 411.3,41.0 411.6,40.9 412.0,41.2 412.3,41.8 412.7,42.9 413.0,44.3 413.4,45.9 413.7,47.8 414.1,49.7 414.4,51.8 414.8,53.8 415.1,55.6 415.5,57.3 415.8,58.7 416.2,59.8 416.5,60.6 416.9,60.9 417.2,60.8 417.6,60.3 417.9,59.4 418.3,58.2 418.6,56.7 419.0,54.9 419.3,53.0 419.7,51.0 420.0,48.9 420.4,47.0 420.7,45.2 421.1,43.7 421.4,42.4 421.8,41.5 422.1,41.0 422.5,40.9 422.8,41.2 423.2,41.9 423.5,43.0 423.9,44.4 424.2,46.0 424.6,47.9 424.9,49.9 425.3,51.9 425.6,53.9 426.0,55.8 426.3,57.4 426.7,58.8 427.0,59.9 427.4,60.6 427.7,60.9 428.1,60.8 428.4,60.3 428.8,59.4 429.1,58.1 429.5,56.6 429.8,54.8 430.2,52.8 430.5,50.8 430.9,48.8 431.2,46.9 431.6,45.1 431.9,43.6 432.3,42.4 432.6,41.5 433.0,41.0 433.3,40.9 433.7,41.3 434.0,42.0 434.4,43.1 434.7,44.5 435.1,46.2 435.4,48.1 435.8,50.0 436.1,52.1 436.5,54.1 436.8,55.9 437.2,57.6 437.5,58.9 437.9,60.0 438.2,60.6 438.6,60.9 438.9,60.8 439.3,60.2 439.6,59.3 440.0,58.0 440.3,56.4 440.7,54.6 441.0,52.7 441.4,50.7 441.7,48.5 442.1,45.6 442.4,42.2 442.8,38.6 443.1,35.6 443.5,34.3 443.8,33.6 444.2,33.6 444.5,34.3 444.9,35.7 445.2,37.6 445.6,40.2 445.9,43.1 446.3,46.3 446.6,49.7 447.0,53.1 447.3,56.5 447.7,59.5 448.0,62.2 448.4,64.5 448.7,66.2 449.1,67.2 449.4,67.6 449.8,67.3 450.1,66.3 450.5,64.7 450.8,62.5 451.2,59.8 451.5,56.8 451.9,53.6 452.2,50.3 452.6,46.9 452.9,43.8 453.3,40.9 453.6,38.5 454.0,36.6 454.3,35.2 454.7,34.5 455.0,34.5 455.4,35.2 455.7,36.5 456.1,38.4 456.4,40.8 456.8,43.6 457.1,46.7 457.5,50.0 457.8,53.3 458.2,56.6 458.5,59.6 458.9,62.2 459.2,64.4 459.6,66.0 459.9,67.0 460.3,67.3 460.6,67.0 461.0,66.0 461.3,64.4 461.7,62.2 462.0,59.5 462.4,56.6 462.7,53.3 463.1,50.0 463.4,46.7 463.8,43.6 464.1,40.8 464.5,38.4 464.8,36.5 465.2,35.2 465.5,34.6 465.9,34.6 466.2,35.3 466.6,36.6 466.9,38.6 467.3,41.0 467.6,43.8 468.0,47.0 468.3,50.3 468.7,53.6 469.0,56.8 469.4,59.8 469.7,62.4 470.1,64.5 470.4,66.1 470.8,67.0 471.1,67.3 471.5,66.9 471.8,65.9 472.2,64.2 472.5,62.0 472.9,59.3 473.2,56.3 473.6,53.1 473.9,49.8 474.3,46.5 474.6,43.4 475.0,40.6 475.3,38.2 475.7,36.4 476.0,35.1 476.4,34.6 476.7,34.6 477.1,35.4 477.4,36.8 477.8,38.7 478.1,41.2 478.5,44.1 478.8,47.2 479.2,50.5 479.5,53.8 479.9,57.0 480.2,60.0 480.6,62.5 480.9,64.6 481.3,66.2 481.6,67.1 482.0,67.3 482.3,66.9 482.7,65.8 483.0,64.1 483.4,61.8 483.7,59.1 484.1,56.1 484.4,52.8 484.8,49.5 485.1,46.2 485.5,43.2 485.8,40.4 486.2,38.1 486.5,36.3 486.9,35.1 487.2,34.5 487.6,34.7 487.9,35.5 488.3,36.9 488.6,38.9 489.0,41.4 489.3,44.3 489.7,47.4 490.0,50.8 490.4,54.1 490.7,57.2 491.1,60.2 491.4,62.7 491.8,64.8 492.1,66.2 492.5,67.1 492.8,67.3 493.2,66.8 493.5,65.7 493.9,63.9 494.2,61.6 494.6,58.9 494.9,55.8 495.3,52.6 495.6,49.3 496.0,46.0 496.3,42.9 496.7,40.2 497.0,37.9 497.4,36.2 497.7,35.0 498.1,34.5 498.4,34.7 498.8,35.5 499.1,37.0 499.5,39.1 499.8,41.6 500.2,44.5 500.5,47.7 500.9,51.0 501.2,54.3 501.6,57.5 501.9,60.4 502.3,62.9 502.6,64.9 503.0,66.3" fill="none" stroke="#00e000" stroke-width="1.15" stroke-linejoin="round" />
<polyline points="49.3,46.3 49.7,49.5 50.0,52.8 50.4,56.0 50.7,59.0 51.1,61.7 51.4,63.9 51.8,65.6 52.1,66.7 52.5,67.1 52.8,66.9 53.2,66.0 53.5,64.5 53.9,62.4 54.2,59.9 54.6,57.0 54.9,53.8 55.3,50.5 55.6,47.3 56.0,44.1 56.3,41.3 56.7,38.9 57.0,36.9 57.4,35.6 57.7,34.8 58.1,34.7 58.4,35.3 58.8,36.6 59.1,38.4 59.5,40.7 59.8,43.5 60.2,46.5 60.5,49.8 60.9,53.0 61.2,56.2 61.6,59.2 61.9,61.8 62.3,64.0 62.6,65.7 63.0,66.7 63.3,67.1 63.7,66.8 64.0,65.9 64.4,64.3 64.7,62.2 65.1,59.7 65.4,56.7 65.8,53.6 66.1,50.3 66.5,47.0 66.8,43.9 67.2,41.1 67.5,38.7 67.9,36.8 68.2,35.5 68.6,34.8 68.9,34.8 69.3,35.4 69.6,36.7 70.0,38.5 70.3,40.9 70.7,43.7 71.0,46.8 71.4,50.0 71.7,53.3 72.1,56.5 72.4,59.4 72.8,62.0 73.1,64.2 73.5,65.8 73.8,66.8 74.2,67.1 74.5,66.8 74.9,65.8 75.2,64.2 75.6,62.0 75.9,59.4 76.3,56.5 76.6,53.3 77.0,50.0 77.3,46.8 77.7,43.7 78.0,40.9 78.4,38.6 78.7,36.7 79.1,35.4 79.4,34.8 79.8,34.8 80.1,35.5 80.5,36.8 80.8,38.7 81.2,41.1 81.5,43.9 81.9,47.0 82.2,50.3 82.6,53.5 82.9,56.7 83.3,59.6 83.6,62.2 84.0,64.3 84.3,65.9 84.7,66.8 85.0,67.1 85.4,66.7 85.7,65.7 86.1,64.0 86.4,61.9 86.8,59.2 87.1,56.3 87.5,53.1 87.8,49.8 88.2,46.5 88.5,43.5 88.9,40.7 89.2,38.4 89.6,36.6 89.9,35.3 90.3,34.8 90.6,34.8 91.0,35.6 91.3,36.9 91.7,38.9 92.0,41.3 92.4,44.1 92.7,47.2 93.1,50.5 93.4,53.8 93.8,56.9 94.1,59.8 94.5,62.4 94.8,64.5 95.2,66.0 95.5,66.9 95.9,67.1 96.2,66.7 96.6,65.6 96.9,63.9 97.3,61.7 97.6,59.0 98.0,56.0 98.3,52.8 98.7,49.5 99.0,46.3 99.4,43.3 99.7,40.5 100.1,38.2 100.4,36.5 100.8,35.3 101.1,34.7 101.5,34.9 101.8,35.6 102.2,37.0 102.5,39.0 102.9,41.5 103.2,44.4 103.6,47.5 103.9,50.7 104.3,54.0 104.6,57.2 105.0,60.0 105.3,62.6 105.7,64.6 106.0,66.1 106.4,66.9 106.7,67.1 107.1,66.6 107.4,65.5 107.8,63.8 108.1,61.5 108.5,58.8 108.8,55.8 109.2,52.6 109.5,49.3 109.9,46.1 110.2,43.1 110.6,40.4 110.9,38.1 111.3,36.4 111.6,35.2 112.0,34.7 112.3,34.9 112.7,35.7 113.0,37.2 113.4,39.2 113.7,41.7 114.1,44.6 114.4,47.7 114.8,51.0 115.1,54.3 115.5,57.4 115.8,60.2 116.2,62.7 116.5,64.7 116.9,66.1 117.2,66.9 117.6,67.1 117.9,66.5 118.3,65.4 118.6,63.6 119.0,61.3 119.3,58.6 119.7,55.6 120.0,52.3 120.4,49.0 120.7,45.8 121.1,42.8 121.4,40.2 121.8,37.9 122.1,36.2 122.5,35.2 122.8,34.7 123.2,34.9 123.5,35.8 123.9,37.3 124.2,39.4 124.6,41.9 124.9,44.8 125.3,48.0 125.6,51.2 126.0,54.5 126.3,57.6 126.7,60.4 127.0,62.9 127.4,64.8 127.7,66.2 128.1,67.0 128.4,67.1 128.8,66.5 129.1,65.3 129.5,63.4 129.8,61.1 130.2,58.4 130.5,55.3 130.9,52.1 131.2,48.8 131.6,45.6 131.9,42.6 132.3,40.0 132.6,37.8 133.0,36.1 133.3,35.1 133.7,34.7 134.0,35.0 134.4,35.9 134.7,37.4 135.1,39.5 135.4,42.1 135.8,45.0 136.1,48.2 136.5,51.5 136.8,54.7 137.2,57.8 137.5,60.6 137.9,63.1 138.2,65.0 138.6,66.3 138.9,67.0 139.3,67.0 139.6,66.4 140.0,65.1 140.3,63.3 140.7,60.9 141.0,58.2 141.4,55.1 141.7,51.8 142.1,48.6 142.4,45.4 142.8,42.4 143.1,39.8 143.5,37.6 143.8,36.0 144.2,35.0 144.5,34.7 144.9,35.0 145.2,36.0 145.6,37.6 145.9,39.7 146.3,42.3 146.6,45.3 147.0,48.4 147.3,51.7 147.7,55.0 148.0,58.1 148.4,60.8 148.7,63.2 149.1,65.1 149.4,66.4 149.8,67.0 150.1,67.0 150.5,66.3 150.8,65.0 151.2,63.1 151.5,60.7 151.9,57.9 152.2,54.8 152.6,51.6 152.9,48.3 153.3,45.1 153.6,42.2 154.0,39.6 154.3,37.5 154.7,35.9 155.0,35.0 155.4,34.7 155.7,35.1 156.1,36.1 156.4,37.7 156.8,39.9 157.1,42.5 157.5,45.5 157.8,48.7 158.2,52.0 158.5,55.2 158.9,58.3 159.2,61.0 159.6,63.4 159.9,65.2 160.3,66.4 160.6,67.0 161.0,67.0 161.3,66.3 161.7,64.9 162.0,63.0 162.4,60.5 162.7,57.7 163.1,54.6 163.4,51.3 163.8,48.1 164.1,44.9 164.5,42.0 164.8,39.4 165.2,37.4 165.5,35.9 165.9,35.0 166.2,34.7 166.6,35.1 166.9,36.2 167.3,37.9 167.6,40.1 168.0,42.7 168.3,45.7 168.7,48.9 169.0,52.2 169.4,55.5 169.7,58.5 170.1,61.2 170.4,63.5 170.8,65.3 171.1,66.5 171.5,67.1 171.8,67.0 172.2,66.2 172.5,64.8 172.9,62.8 173.2,60.3 173.6,57.5 173.9,54.4 174.3,51.1 174.6,47.8 175.0,44.7 175.3,41.8 175.7,39.3 176.0,37.2 176.4,35.8 176.7,34.9 177.1,34.7 177.4,35.2 177.8,36.3 178.1,38.0 178.5,40.3 178.8,43.0 179.2,46.0 179.5,49.8 179.9,51.9 180.2,53.9 180.6,55.7 180.9,57.4 181.3,58.8 181.6,59.9 182.0,60.6 182.3,60.9 182.7,60.8 183.0,60.3 183.4,59.4 183.7,58.1 184.1,56.6 184.4,54.8 184.8,52.9 185.1,50.9 185.5,48.9 185.8,46.9 186.2,45.2 186.5,43.6 186.9,42.4 187.2,41.5 187.6,41.0 187.9,40.9 188.3,41.2 188.6,42.0 189.0,43.0 189.3,44.5 189.7,46.1 190.0,48.0 190.4,50.0 190.7,52.0 191.1,54.0 191.4,55.9 191.8,57.5 192.1,58.9 192.5,59.9 192.8,60.6 193.2,60.9 193.5,60.8 193.9,60.2 194.2,59.3 194.6,58.0 194.9,56.5 195.3,54.7 195.6,52.7 196.0,50.7 196.3,48.7 196.7,46.8 197.0,45.0 197.4,43.5 197.7,42.3 198.1,41.5 198.4,41.0 198.8,40.9 199.1,41.3 199.5,42.0 199.8,43.1 200.2,44.6 200.5,46.3 200.9,48.1 201.2,50.1 201.6,52.2 201.9,54.1 202.3,56.0 202.6,57.6 203.0,59.0 203.3,60.0 203.7,60.6 204.0,60.9 204.4,60.7 204.7,60.2 205.1,59.2 205.4,57.9 205.8,56.3 206.1,54.5 206.5,52.6 206.8,50.6 207.2,48.6 207.5,46.6 207.9,44.9 208.2,43.4 208.6,42.2 208.9,41.4 209.3,41.0 209.6,40.9 210.0,41.3 210.3,42.1 210.7,43.2 211.0,44.7 211.4,46.4 211.7,48.3 212.1,50.3 212.4,52.3 212.8,54.3 213.1,56.1 213.5,57.7 213.8,59.1 214.2,60.1 214.5,60.7 214.9,60.9 215.2,60.7 215.6,60.1 215.9,59.1 216.3,57.8 216.6,56.2 217.0,54.4 217.3,52.4 217.7,50.4 218.0,48.4 218.4,46.5 218.7,44.8 219.1,43.3 219.4,42.2 219.8,41.4 220.1,41.0 220.5,41.0 220.8,41.4 221.2,42.2 221.5,43.3 221.9,44.8 222.2,46.5 222.6,48.4 222.9,50.4 223.3,52.5 223.6,54.4 224.0,56.2 224.3,57.8 224.7,59.2 225.0,60.1 225.4,60.7 225.7,60.9 226.1,60.7 226.4,60.0 226.8,59.0 227.1,57.7 227.5,56.1 227.8,54.3 228.2,52.3 228.5,50.3 228.9,48.3 229.2,46.4 229.6,44.7 229.9,43.2 230.3,42.1 230.6,41.3 231.0,40.9 231.3,41.0 231.7,41.4 232.0,42.2 232.4,43.4 232.7,44.9 233.1,46.7 233.4,48.6 233.8,50.6 234.1,52.6 234.5,54.6 234.8,56.4 235.2,57.9 235.5,59.2 235.9,60.2 236.2,60.7 236.6,60.9 236.9,60.6 237.3,60.0 237.6,59.0 238.0,57.6 238.3,56.0 238.7,54.1 239.0,52.1 239.4,50.1 239.7,48.1 240.1,46.2 240.4,44.5 240.8,43.1 241.1,42.0 241.5,41.3 241.8,40.9 242.2,41.0 242.5,41.5 242.9,42.3 243.2,43.5 243.6,45.1 243.9,46.8 244.3,48.7 244.6,50.7 245.0,52.8 245.3,54.7 245.7,56.5 246.0,58.1 246.4,59.3 246.7,60.2 247.1,60.8 247.4,60.9 247.8,60.6 248.1,59.9 248.5,58.9 248.8,57.5 249.2,55.8 249.5,54.0 249.9,52.0 250.2,50.0 250.6,48.0 250.9,46.1 251.3,44.4 251.6,43.0 252.0,41.9 252.3,41.2 252.7,40.9 253.0,41.0 253.4,41.5 253.7,42.4 254.1,43.6 254.4,45.2 254.8,46.9 255.1,48.9 255.5,50.9 255.8,52.9 256.2,54.9 256.5,56.6 256.9,58.2 257.2,59.4 257.6,60.3 257.9,60.8 258.3,60.9 258.6,60.6 259.0,59.9 259.3,58.8 259.7,57.4 260.0,55.7 260.4,53.8 260.7,51.8 261.1,49.8 261.4,47.8 261.8,46.0 262.1,44.3 262.5,42.9 262.8,41.9 263.2,41.2 263.5,40.9 263.9,41.0 264.2,41.6 264.6,42.5 264.9,43.7 265.3,45.3 265.6,47.1 266.0,49.0 266.3,51.1 266.7,53.1 267.0,55.0 267.4,56.7 267.7,58.3 268.1,59.5 268.4,60.3 268.8,60.8 269.1,60.9 269.5,60.5 269.8,59.8 270.2,58.7 270.5,57.3 270.9,55.6 271.2,53.7 271.6,51.7 271.9,49.7 272.3,47.7 272.6,45.8 273.0,44.2 273.3,42.8 273.7,41.8 274.0,41.2 274.4,40.9 274.7,41.1 275.1,41.6 275.4,42.6 275.8,43.9 276.1,45.4 276.5,47.2 276.9,49.2 277.2,51.2 277.6,53.2 277.9,55.1 278.3,56.9 278.6,58.4 279.0,59.6 279.3,60.4 279.7,60.8 280.0,60.9 280.4,60.5 280.7,59.7 281.1,58.6 281.4,57.1 281.8,55.4 282.1,53.5 282.5,51.5 282.8,49.5 283.2,47.5 283.5,45.7 283.9,44.1 284.2,42.8 284.6,41.8 284.9,41.1 285.3,40.9 285.6,41.1 286.0,41.7 286.3,42.6 286.7,44.0 287.0,45.6 287.4,47.4 287.7,49.3 288.1,51.4 288.4,53.4 288.8,55.3 289.1,57.0 289.5,58.5 289.8,59.6 290.2,60.4 290.5,60.8 290.9,60.8 291.2,60.4 291.6,59.6 291.9,58.5 292.3,57.0 292.6,55.3 293.0,53.4 293.3,51.4 293.7,49.4 294.0,47.4 294.4,45.6 294.7,44.0 295.1,42.7 295.4,41.7 295.8,41.1 296.1,40.9 296.5,41.1 296.8,41.7 297.2,42.7 297.5,44.1 297.9,45.7 298.2,47.5 298.6,49.5 298.9,51.5 299.3,53.5 299.6,55.4 300.0,57.1 300.3,58.6 300.7,59.7 301.0,60.5 301.4,60.9 301.7,60.8 302.1,60.4 302.4,59.6 302.8,58.4 303.1,56.9 303.5,55.2 303.8,53.2 304.2,51.2 304.5,49.2 304.9,47.3 305.2,45.5 305.6,43.9 305.9,42.6 306.3,41.6 306.6,41.1 307.0,40.9 307.3,41.2 307.7,41.8 308.0,42.8 308.4,44.2 308.7,45.8 309.1,47.7 309.4,49.6 309.8,51.7 310.1,53.7 310.5,55.5 310.8,57.2 311.2,58.7 311.5,59.8 311.9,60.5 312.2,60.9 312.6,60.8 312.9,60.3 313.3,59.5 313.6,58.3 314.0,56.8 314.3,55.0 314.7,53.1 315.0,51.1 315.4,49.1 315.7,47.1 316.1,45.3 316.4,43.8 316.8,42.5 317.1,41.6 317.5,41.0 317.8,40.9 318.2,41.2 318.5,41.9 318.9,42.9 319.2,44.3 319.6,45.9 319.9,47.8 320.3,49.8 320.6,51.8 321.0,53.8 321.3,55.7 321.7,57.3 322.0,58.8 322.4,59.8 322.7,60.6 323.1,60.9 323.4,60.8 323.8,60.3 324.1,59.4 324.5,58.2 324.8,56.6 325.2,54.9 325.5,52.9 325.9,50.9 326.2,48.9 326.6,47.0 326.9,45.2 327.3,43.7 327.6,42.4 328.0,41.5 328.3,41.0 328.7,40.9 329.0,41.2 329.4,41.9 329.7,43.0 330.1,44.4 330.4,46.1 330.8,47.9 331.1,49.9 331.5,52.0 331.8,53.9 332.2,55.8 332.5,57.5 332.9,58.9 333.2,59.9 333.6,60.6 333.9,60.9 334.3,60.8 334.6,60.2 335.0,59.3 335.3,58.1 335.7,56.5 336.0,54.7 336.4,52.8 336.7,50.8 337.1,48.8 337.4,46.8 337.8,45.1 338.1,43.6 338.5,42.3 338.8,41.5 339.2,41.0 339.5,40.9 339.9,41.3 340.2,42.0 340.6,43.1 340.9,44.5 341.3,46.2 341.6,48.1 342.0,50.1 342.3,52.1 342.7,54.1 343.0,55.9 343.4,57.6 343.7,58.9 344.1,60.0 344.4,60.6 344.8,60.9 345.1,60.7 345.5,60.2 345.8,59.3 346.2,58.0 346.5,56.4 346.9,54.6 347.2,52.6 347.6,50.6 347.9,48.6 348.3,46.7 348.6,45.0 349.0,43.5 349.3,42.3 349.7,41.4 350.0,41.0 350.4,40.9 350.7,41.3 351.1,42.1 351.4,43.2 351.8,44.6 352.1,46.3 352.5,48.2 352.8,50.2 353.2,52.3 353.5,54.2 353.9,56.1 354.2,57.7 354.6,59.0 354.9,60.0 355.3,60.7 355.6,60.9 356.0,60.7 356.3,60.1 356.7,59.2 357.0,57.9 357.4,56.3 357.7,54.5 358.1,52.5 358.4,50.5 358.8,48.5 359.1,46.6 359.5,44.8 359.8,43.4 360.2,42.2 360.5,41.4 360.9,41.0 361.2,40.9 361.6,41.3 361.9,42.1 362.3,43.3 362.6,44.8 363.0,46.5 363.3,48.4 363.7,50.4 364.0,52.4 364.4,54.4 364.7,56.2 365.1,57.8 365.4,59.1 365.8,60.1 366.1,60.7 366.5,60.9 366.8,60.7 367.2,60.1 367.5,59.1 367.9,57.8 368.2,56.1 368.6,54.3 368.9,52.3 369.3,50.3 369.6,48.3 370.0,46.4 370.3,44.7 370.7,43.3 371.0,42.1 371.4,41.3 371.7,40.9 372.1,41.0 372.4,41.4 372.8,42.2 373.1,43.4 373.5,44.9 373.8,46.6 374.2,48.5 374.5,50.5 374.9,52.6 375.2,54.5 375.6,56.3 375.9,57.9 376.3,59.2 376.6,60.2 377.0,60.7 377.3,60.9 377.7,60.7 378.0,60.0 378.4,59.0 378.7,57.6 379.1,56.0 379.4,54.2 379.8,52.2 380.1,50.2 380.5,48.2 380.8,46.3 381.2,44.6 381.5,43.2 381.9,42.0 382.2,41.3 382.6,40.9 382.9,41.0 383.3,41.4 383.6,42.3 384.0,43.5 384.3,45.0 384.7,46.8 385.0,48.7 385.4,50.7 385.7,52.7 386.1,54.7 386.4,56.5 386.8,58.0 387.1,59.3 387.5,60.2 387.8,60.8 388.2,60.9 388.5,60.6 388.9,59.9 389.2,58.9 389.6,57.5 389.9,55.9 390.3,54.0 390.6,52.0 391.0,50.0 391.3,48.0 391.7,46.2 392.0,44.5 392.4,43.1 392.7,42.0 393.1,41.2 393.4,40.9 393.8,41.0 394.1,41.5 394.5,42.4 394.8,43.6 395.2,45.1 395.5,46.9 395.9,48.8 396.2,50.8 396.6,52.9 396.9,54.8 397.3,56.6 397.6,58.1 398.0,59.4 398.3,60.3 398.7,60.8 399.0,60.9 399.4,60.6 399.7,59.9 400.1,58.8 400.4,57.4 400.8,55.7 401.1,53.9 401.5,51.9 401.8,49.9 402.2,47.9 402.5,46.0 402.9,44.4 403.2,43.0 403.6,41.9 403.9,41.2 404.3,40.9 404.6,41.0 405.0,41.5 405.3,42.5 405.7,43.7 406.0,45.3 406.4,47.0 406.7,49.0 407.1,51.0 407.4,53.0 407.8,54.9 408.1,56.7 408.5,58.2 408.8,59.5 409.2,60.3 409.5,60.8 409.9,60.9 410.2,60.5 410.6,59.8 410.9,58.7 411.3,57.3 411.6,55.6 412.0,53.7 412.3,51.7 412.7,49.7 413.0,47.7 413.4,45.9 413.7,44.2 414.1,42.9 414.4,41.8 414.8,41.2 415.1,40.9 415.5,41.1 415.8,41.6 416.2,42.5 416.5,43.8 416.9,45.4 417.2,47.2 417.6,49.1 417.9,51.1 418.3,53.2 418.6,55.1 419.0,56.8 419.3,58.3 419.7,59.5 420.0,60.4 420.4,60.8 420.7,60.9 421.1,60.5 421.4,59.7 421.8,58.6 422.1,57.2 422.5,55.5 422.8,53.6 423.2,51.6 423.5,49.6 423.9,47.6 424.2,45.8 424.6,44.1 424.9,42.8 425.3,41.8 425.6,41.1 426.0,40.9 426.3,41.1 426.7,41.7 427.0,42.6 427.4,43.9 427.7,45.5 428.1,47.3 428.4,49.3 428.8,51.3 429.1,53.3 429.5,55.2 429.8,56.9 430.2,58.4 430.5,59.6 430.9,60.4 431.2,60.8 431.6,60.9 431.9,60.5 432.3,59.7 432.6,58.5 433.0,57.1 433.3,55.3 433.7,53.4 434.0,51.4 434.4,49.4 434.7,47.4 435.1,45.6 435.4,44.0 435.8,42.7 436.1,41.7 436.5,41.1 436.8,40.9 437.2,41.1 437.5,41.7 437.9,42.7 438.2,44.0 438.6,45.6 438.9,47.5 439.3,49.4 439.6,51.5 440.0,53.5 440.3,55.4 440.7,57.1 441.0,58.5 441.4,59.7 441.7,61.2 442.1,63.7 442.4,65.6 442.8,66.7 443.1,66.3 443.5,64.1 443.8,61.5 444.2,58.4 444.5,55.0 444.9,51.6 445.2,48.1 445.6,44.8 445.9,41.7 446.3,39.0 446.6,36.9 447.0,35.3 447.3,34.3 447.7,34.1 448.0,34.5 448.4,35.6 448.7,37.3 449.1,39.6 449.4,42.3 449.8,45.4 450.1,48.7 450.5,52.1 450.8,55.4 451.2,58.5 451.5,61.3 451.9,63.7 452.2,65.5 452.6,66.8 452.9,67.4 453.3,67.3 453.6,66.5 454.0,65.1 454.3,63.1 454.7,60.6 455.0,57.8 455.4,54.6 455.7,51.3 456.1,48.0 456.4,44.8 456.8,41.8 457.1,39.2 457.5,37.1 457.8,35.6 458.2,34.7 458.5,34.5 458.9,34.9 459.2,36.0 459.6,37.7 459.9,40.0 460.3,42.7 460.6,45.7 461.0,49.0 461.3,52.3 461.7,55.6 462.0,58.7 462.4,61.4 462.7,63.7 463.1,65.5 463.4,66.7 463.8,67.3 464.1,67.1 464.5,66.3 464.8,64.9 465.2,62.9 465.5,60.4 465.9,57.5 466.2,54.3 466.6,51.0 466.9,47.7 467.3,44.5 467.6,41.6 468.0,39.1 468.3,37.0 468.7,35.5 469.0,34.7 469.4,34.5 469.7,35.0 470.1,36.2 470.4,37.9 470.8,40.2 471.1,42.9 471.5,46.0 471.8,49.2 472.2,52.6 472.5,55.8 472.9,58.9 473.2,61.6 473.6,63.9 473.9,65.6 474.3,66.8 474.6,67.3 475.0,67.1 475.3,66.3 475.7,64.8 476.0,62.7 476.4,60.2 476.7,57.3 477.1,54.1 477.4,50.8 477.8,47.5 478.1,44.3 478.5,41.4 478.8,38.9 479.2,36.9 479.5,35.5 479.9,34.7 480.2,34.5 480.6,35.1 480.9,36.3 481.3,38.1 481.6,40.4 482.0,43.1 482.3,46.2 482.7,49.5 483.0,52.8 483.4,56.0 483.7,59.1 484.1,61.8 484.4,64.0 484.8,65.7 485.1,66.8 485.5,67.3 485.8,67.1 486.2,66.2 486.5,64.6 486.9,62.6 487.2,60.0 487.6,57.0 487.9,53.9 488.3,50.5 488.6,47.2 489.0,44.1 489.3,41.2 489.7,38.7 490.0,36.8 490.4,35.4 490.7,34.6 491.1,34.5 491.4,35.1 491.8,36.4 492.1,38.2 492.5,40.6 492.8,43.4 493.2,46.4 493.5,49.7 493.9,53.0 494.2,56.3 494.6,59.3 494.9,62.0 495.3,64.2 495.6,65.9 496.0,66.9 496.3,67.3 496.7,67.0 497.0,66.1 497.4,64.5 497.7,62.4 498.1,59.8 498.4,56.8 498.8,53.6 499.1,50.3 499.5,47.0 499.8,43.9 500.2,41.0 500.5,38.6 500.9,36.6 501.2,35.3 501.6,34.6 501.9,34.6 502.3,35.2 502.6,36.5 503.0,38.4" fill="none" stroke="#0000ff" stroke-width="1.15" stroke-linejoin="round" />
<polyline points="49.3,38.8 49.8,38.8 50.3,38.8 50.8,38.8 51.3,38.8 51.8,38.8 52.3,38.8 52.8,38.8 53.3,38.8 53.8,38.8 54.3,38.8 54.8,38.8 55.3,38.8 55.8,38.8 56.3,38.8 56.8,38.8 57.3,38.8 57.8,38.8 58.3,38.8 58.8,38.8 59.3,38.8 59.8,38.8 60.3,38.8 60.8,38.8 61.3,38.8 61.8,38.8 62.3,38.8 62.8,38.8 63.3,38.8 63.8,38.8 64.3,38.8 64.8,38.8 65.3,38.8 65.8,38.8 66.3,38.8 66.8,38.8 67.3,38.8 67.8,38.8 68.3,38.8 68.8,38.8 69.3,38.8 69.8,38.8 70.3,38.8 70.8,38.8 71.3,38.8 71.8,38.8 72.3,38.8 72.8,38.8 73.3,38.8 73.8,38.8 74.3,38.8 74.8,38.8 75.3,38.8 75.8,38.8 76.3,38.8 76.8,38.8 77.3,38.8 77.8,38.8 78.3,38.8 78.8,38.8 79.3,38.8 79.8,38.8 80.3,38.8 80.8,38.8 81.3,38.8 81.8,38.8 82.3,38.8 82.8,38.8 83.3,38.8 83.8,38.8 84.3,38.8 84.8,38.8 85.3,38.8 85.8,38.8 86.3,38.8 86.8,38.8 87.3,38.8 87.8,38.8 88.3,38.8 88.8,38.8 89.3,38.8 89.8,38.8 90.3,38.8 90.8,38.8 91.3,38.8 91.8,38.8 92.3,38.8 92.8,38.8 93.3,38.8 93.8,38.8 94.3,38.8 94.8,38.8 95.3,38.8 95.8,38.8 96.3,38.8 96.8,38.8 97.3,38.8 97.8,38.8 98.3,38.8 98.8,38.8 99.3,38.8 99.8,38.8 100.3,38.8 100.8,38.8 101.3,38.8 101.8,38.8 102.3,38.8 102.8,38.8 103.3,38.8 103.8,38.8 104.3,38.8 104.8,38.8 105.3,38.8 105.8,38.8 106.3,38.8 106.8,38.8 107.3,38.8 107.8,38.8 108.3,38.8 108.8,38.8 109.3,38.8 109.8,38.8 110.3,38.8 110.8,38.8 111.3,38.8 111.8,38.8 112.3,38.8 112.8,38.8 113.3,38.8 113.8,38.8 114.3,38.8 114.8,38.8 115.3,38.8 115.8,38.8 116.3,38.8 116.8,38.8 117.3,38.8 117.8,38.8 118.3,38.8 118.8,38.8 119.3,38.8 119.8,38.8 120.3,38.8 120.8,38.8 121.3,38.8 121.8,38.8 122.3,38.8 122.8,38.8 123.3,38.8 123.8,38.8 124.3,38.8 124.8,38.8 125.3,38.8 125.8,38.8 126.3,38.8 126.8,38.8 127.3,38.8 127.8,38.8 128.3,38.8 128.8,38.8 129.3,38.8 129.8,38.8 130.3,38.8 130.8,38.8 131.3,38.8 131.8,38.8 132.3,38.8 132.8,38.8 133.3,38.8 133.8,38.8 134.3,38.8 134.8,38.8 135.3,38.8 135.8,38.8 136.3,38.8 136.8,38.8 137.3,38.8 137.8,38.8 138.3,38.8 138.8,38.8 139.3,38.8 139.8,38.8 140.3,38.8 140.8,38.8 141.3,38.8 141.8,38.8 142.3,38.8 142.8,38.8 143.3,38.8 143.8,38.8 144.3,38.8 144.8,38.8 145.3,38.8 145.8,38.8 146.3,38.8 146.8,38.8 147.3,38.8 147.8,38.8 148.3,38.8 148.8,38.8 149.3,38.8 149.8,38.8 150.3,38.8 150.8,38.8 151.3,38.8 151.8,38.8 152.3,38.8 152.8,38.8 153.3,38.8 153.8,38.8 154.3,38.8 154.8,38.8 155.3,38.8 155.8,38.8 156.4,38.8 156.9,38.8 157.4,38.8 157.9,38.8 158.4,38.8 158.9,38.8 159.4,38.8 159.9,38.8 160.4,38.8 160.9,38.8 161.4,38.8 161.9,38.8 162.4,38.8 162.9,38.8 163.4,38.8 163.9,38.8 164.4,38.8 164.9,38.8 165.4,38.8 165.9,38.8 166.4,38.8 166.9,38.8 167.4,38.8 167.9,38.8 168.4,38.8 168.9,38.8 169.4,38.8 169.9,38.8 170.4,38.8 170.9,38.8 171.4,38.8 171.9,38.8 172.4,38.8 172.9,38.8 173.4,38.8 173.9,38.8 174.4,38.8 174.9,38.8 175.4,38.8 175.9,38.8 176.4,38.8 176.9,38.8 177.4,38.8 177.9,38.8 178.4,38.8 178.9,38.8 179.4,38.8 179.9,38.8 180.4,38.9 180.9,39.0 181.4,39.1 181.9,39.3 182.4,39.6 182.9,39.8 183.4,40.1 183.9,40.4 184.4,40.7 184.9,41.0 185.4,41.4 185.9,41.7 186.4,42.0 186.9,42.3 187.4,42.6 187.9,42.9 188.4,43.2 188.9,43.4 189.4,43.7 189.9,43.8 190.4,44.0 190.9,44.1 191.4,44.1 191.9,44.1 192.4,44.1 192.9,44.1 193.4,44.1 193.9,44.1 194.4,44.1 194.9,44.1 195.4,44.1 195.9,44.1 196.4,44.1 196.9,44.1 197.4,44.1 197.9,44.1 198.4,44.1 198.9,44.1 199.4,44.1 199.9,44.1 200.4,44.1 200.9,44.1 201.4,44.1 201.9,44.1 202.4,44.1 202.9,44.1 203.4,44.1 203.9,44.1 204.4,44.1 204.9,44.1 205.4,44.1 205.9,44.1 206.4,44.1 206.9,44.1 207.4,44.1 207.9,44.1 208.4,44.1 208.9,44.1 209.4,44.1 209.9,44.1 210.4,44.1 210.9,44.1 211.4,44.1 211.9,44.1 212.4,44.1 212.9,44.1 213.4,44.1 213.9,44.1 214.4,44.1 214.9,44.1 215.4,44.1 215.9,44.1 216.4,44.1 216.9,44.1 217.4,44.1 217.9,44.1 218.4,44.1 218.9,44.1 219.4,44.1 219.9,44.1 220.4,44.1 220.9,44.1 221.4,44.1 221.9,44.1 222.4,44.1 222.9,44.1 223.4,44.1 223.9,44.1 224.4,44.1 224.9,44.1 225.4,44.1 225.9,44.1 226.4,44.1 226.9,44.1 227.4,44.1 227.9,44.1 228.4,44.1 228.9,44.1 229.4,44.1 229.9,44.1 230.4,44.1 230.9,44.1 231.4,44.1 231.9,44.1 232.4,44.1 232.9,44.1 233.4,44.1 233.9,44.1 234.4,44.1 234.9,44.1 235.4,44.1 235.9,44.1 236.4,44.1 236.9,44.1 237.4,44.1 237.9,44.1 238.4,44.1 238.9,44.1 239.4,44.1 239.9,44.1 240.4,44.1 240.9,44.1 241.4,44.1 241.9,44.1 242.4,44.1 242.9,44.1 243.4,44.1 243.9,44.1 244.4,44.1 244.9,44.1 245.4,44.1 245.9,44.1 246.4,44.1 246.9,44.1 247.4,44.1 247.9,44.1 248.4,44.1 248.9,44.1 249.4,44.1 249.9,44.1 250.4,44.1 250.9,44.1 251.4,44.1 251.9,44.1 252.4,44.1 252.9,44.1 253.4,44.1 253.9,44.1 254.4,44.1 254.9,44.1 255.4,44.1 255.9,44.1 256.4,44.1 256.9,44.1 257.4,44.1 257.9,44.1 258.4,44.1 258.9,44.1 259.4,44.1 259.9,44.1 260.4,44.1 260.9,44.1 261.4,44.1 261.9,44.1 262.4,44.1 262.9,44.1 263.4,44.1 263.9,44.1 264.4,44.1 264.9,44.1 265.4,44.1 265.9,44.1 266.4,44.1 266.9,44.1 267.4,44.1 267.9,44.1 268.4,44.1 268.9,44.1 269.4,44.1 269.9,44.1 270.4,44.1 270.9,44.1 271.4,44.1 271.9,44.1 272.4,44.1 272.9,44.1 273.4,44.1 273.9,44.1 274.4,44.1 274.9,44.1 275.4,44.1 275.9,44.1 276.4,44.1 276.9,44.1 277.4,44.1 277.9,44.1 278.4,44.1 278.9,44.1 279.4,44.1 279.9,44.1 280.4,44.1 280.9,44.1 281.4,44.1 281.9,44.1 282.4,44.1 282.9,44.1 283.4,44.1 283.9,44.1 284.4,44.1 284.9,44.1 285.4,44.1 285.9,44.1 286.4,44.1 286.9,44.1 287.4,44.1 287.9,44.1 288.4,44.1 288.9,44.1 289.4,44.1 289.9,44.1 290.4,44.1 290.9,44.1 291.4,44.1 291.9,44.1 292.4,44.1 292.9,44.1 293.4,44.1 293.9,44.1 294.4,44.1 294.9,44.1 295.4,44.1 295.9,44.1 296.4,44.1 296.9,44.1 297.4,44.1 297.9,44.1 298.4,44.1 298.9,44.1 299.4,44.1 299.9,44.1 300.4,44.1 300.9,44.1 301.4,44.1 301.9,44.1 302.4,44.1 302.9,44.1 303.4,44.1 303.9,44.1 304.4,44.1 304.9,44.1 305.4,44.1 305.9,44.1 306.4,44.1 306.9,44.1 307.4,44.1 307.9,44.1 308.4,44.1 308.9,44.1 309.4,44.1 309.9,44.1 310.4,44.1 310.9,44.1 311.4,44.1 311.9,44.1 312.4,44.1 312.9,44.1 313.4,44.1 313.9,44.1 314.4,44.1 314.9,44.1 315.4,44.1 315.9,44.1 316.4,44.1 316.9,44.1 317.4,44.1 317.9,44.1 318.4,44.1 318.9,44.1 319.4,44.1 319.9,44.1 320.4,44.1 320.9,44.1 321.4,44.1 321.9,44.1 322.4,44.1 322.9,44.1 323.4,44.1 323.9,44.1 324.4,44.1 324.9,44.1 325.4,44.1 325.9,44.1 326.4,44.1 326.9,44.1 327.4,44.1 327.9,44.1 328.4,44.1 328.9,44.1 329.4,44.1 329.9,44.1 330.4,44.1 330.9,44.1 331.4,44.1 331.9,44.1 332.4,44.1 332.9,44.1 333.4,44.1 333.9,44.1 334.4,44.1 334.9,44.1 335.4,44.1 335.9,44.1 336.4,44.1 336.9,44.1 337.4,44.1 337.9,44.1 338.4,44.1 338.9,44.1 339.4,44.1 339.9,44.1 340.4,44.1 340.9,44.1 341.4,44.1 341.9,44.1 342.4,44.1 342.9,44.1 343.4,44.1 343.9,44.1 344.4,44.1 344.9,44.1 345.4,44.1 345.9,44.1 346.4,44.1 346.9,44.1 347.4,44.1 347.9,44.1 348.4,44.1 348.9,44.1 349.4,44.1 349.9,44.1 350.4,44.1 350.9,44.1 351.4,44.1 351.9,44.1 352.4,44.1 352.9,44.1 353.4,44.1 353.9,44.1 354.4,44.1 354.9,44.1 355.4,44.1 355.9,44.1 356.4,44.1 356.9,44.1 357.4,44.1 357.9,44.1 358.4,44.1 358.9,44.1 359.4,44.1 359.9,44.1 360.4,44.1 360.9,44.1 361.4,44.1 361.9,44.1 362.4,44.1 362.9,44.1 363.4,44.1 363.9,44.1 364.4,44.1 364.9,44.1 365.4,44.1 365.9,44.1 366.4,44.1 366.9,44.1 367.4,44.1 367.9,44.1 368.4,44.1 368.9,44.1 369.5,44.1 370.0,44.1 370.5,44.1 371.0,44.1 371.5,44.1 372.0,44.1 372.5,44.1 373.0,44.1 373.5,44.1 374.0,44.1 374.5,44.1 375.0,44.1 375.5,44.1 376.0,44.1 376.5,44.1 377.0,44.1 377.5,44.1 378.0,44.1 378.5,44.1 379.0,44.1 379.5,44.1 380.0,44.1 380.5,44.1 381.0,44.1 381.5,44.1 382.0,44.1 382.5,44.1 383.0,44.1 383.5,44.1 384.0,44.1 384.5,44.1 385.0,44.1 385.5,44.1 386.0,44.1 386.5,44.1 387.0,44.1 387.5,44.1 388.0,44.1 388.5,44.1 389.0,44.1 389.5,44.1 390.0,44.1 390.5,44.1 391.0,44.1 391.5,44.1 392.0,44.1 392.5,44.1 393.0,44.1 393.5,44.1 394.0,44.1 394.5,44.1 395.0,44.1 395.5,44.1 396.0,44.1 396.5,44.1 397.0,44.1 397.5,44.1 398.0,44.1 398.5,44.1 399.0,44.1 399.5,44.1 400.0,44.1 400.5,44.1 401.0,44.1 401.5,44.1 402.0,44.1 402.5,44.1 403.0,44.1 403.5,44.1 404.0,44.1 404.5,44.1 405.0,44.1 405.5,44.1 406.0,44.1 406.5,44.1 407.0,44.1 407.5,44.1 408.0,44.1 408.5,44.1 409.0,44.1 409.5,44.1 410.0,44.1 410.5,44.1 411.0,44.1 411.5,44.1 412.0,44.1 412.5,44.1 413.0,44.1 413.5,44.1 414.0,44.1 414.5,44.1 415.0,44.1 415.5,44.1 416.0,44.1 416.5,44.1 417.0,44.1 417.5,44.1 418.0,44.1 418.5,44.1 419.0,44.1 419.5,44.1 420.0,44.1 420.5,44.1 421.0,44.1 421.5,44.1 422.0,44.1 422.5,44.1 423.0,44.1 423.5,44.1 424.0,44.1 424.5,44.1 425.0,44.1 425.5,44.1 426.0,44.1 426.5,44.1 427.0,44.1 427.5,44.1 428.0,44.1 428.5,44.1 429.0,44.1 429.5,44.1 430.0,44.1 430.5,44.1 431.0,44.1 431.5,44.1 432.0,44.1 432.5,44.1 433.0,44.1 433.5,44.1 434.0,44.1 434.5,44.1 435.0,44.1 435.5,44.1 436.0,44.1 436.5,44.1 437.0,44.1 437.5,44.1 438.0,44.1 438.5,44.1 439.0,44.1 439.5,44.1 440.0,44.1 440.5,44.1 441.0,44.1 441.5,44.1 442.0,44.1 442.5,44.1 443.0,44.1 443.5,44.0 444.0,43.9 444.5,43.8 445.0,43.7 445.5,43.5 446.0,43.3 446.5,43.1 447.0,42.9 447.5,42.7 448.0,42.4 448.5,42.1 449.0,41.9 449.5,41.6 450.0,41.3 450.5,41.0 451.0,40.8 451.5,40.5 452.0,40.3 452.5,40.0 453.0,39.8 453.5,39.6 454.0,39.4 454.5,39.2 455.0,39.1 455.5,39.0 456.0,38.9 456.5,38.8 457.0,38.8 457.5,38.8 458.0,38.8 458.5,38.8 459.0,38.8 459.5,38.8 460.0,38.8 460.5,38.8 461.0,38.8 461.5,38.8 462.0,38.8 462.5,38.8 463.0,38.8 463.5,38.8 464.0,38.8 464.5,38.8 465.0,38.8 465.5,38.8 466.0,38.8 466.5,38.8 467.0,38.8 467.5,38.8 468.0,38.8 468.5,38.8 469.0,38.8 469.5,38.8 470.0,38.8 470.5,38.8 471.0,38.8 471.5,38.8 472.0,38.8 472.5,38.8 473.0,38.8 473.5,38.8 474.0,38.8 474.5,38.8 475.0,38.8 475.5,38.8 476.0,38.8" fill="none" stroke="#000" stroke-width="1.2" stroke-linejoin="round" />
<polyline points="49.3,95.2 49.7,95.2 50.0,95.2 50.4,95.2 50.7,95.2 51.1,95.2 51.4,95.2 51.8,95.2 52.1,95.2 52.5,95.2 52.8,95.2 53.2,95.2 53.5,95.2 53.9,95.2 54.2,95.2 54.6,95.2 54.9,95.2 55.3,95.2 55.6,95.2 56.0,95.2 56.3,95.2 56.7,95.2 57.0,95.2 57.4,95.2 57.7,95.2 58.1,95.2 58.4,95.2 58.8,95.2 59.1,95.2 59.5,95.2 59.8,95.2 60.2,95.2 60.5,95.2 60.9,95.2 61.2,95.2 61.6,95.2 61.9,95.2 62.3,95.2 62.6,95.2 63.0,95.2 63.3,95.2 63.7,95.2 64.0,95.2 64.4,95.2 64.7,95.2 65.1,95.2 65.4,95.2 65.8,95.2 66.1,95.2 66.5,95.2 66.8,95.2 67.2,95.2 67.5,95.2 67.9,95.2 68.2,95.2 68.6,95.2 68.9,95.2 69.3,95.2 69.6,95.2 70.0,95.2 70.3,95.2 70.7,95.2 71.0,95.2 71.4,95.2 71.7,95.2 72.1,95.2 72.4,95.2 72.8,95.2 73.1,95.2 73.5,95.2 73.8,95.2 74.2,95.2 74.5,95.2 74.9,95.2 75.2,95.2 75.6,95.2 75.9,95.2 76.3,95.2 76.6,95.2 77.0,95.2 77.3,95.2 77.7,95.2 78.0,95.2 78.4,95.2 78.7,95.2 79.1,95.2 79.4,95.2 79.8,95.2 80.1,95.2 80.5,95.2 80.8,95.2 81.2,95.2 81.5,95.2 81.9,95.2 82.2,95.2 82.6,95.2 82.9,95.2 83.3,95.2 83.6,95.2 84.0,95.2 84.3,95.2 84.7,95.2 85.0,95.2 85.4,95.2 85.7,95.2 86.1,95.2 86.4,95.2 86.8,95.2 87.1,95.2 87.5,95.2 87.8,95.2 88.2,95.2 88.5,95.2 88.9,95.2 89.2,95.2 89.6,95.2 89.9,95.2 90.3,95.2 90.6,95.2 91.0,95.2 91.3,95.2 91.7,95.2 92.0,95.2 92.4,95.2 92.7,95.2 93.1,95.2 93.4,95.2 93.8,95.2 94.1,95.2 94.5,95.2 94.8,95.2 95.2,95.2 95.5,95.2 95.9,95.2 96.2,95.2 96.6,95.2 96.9,95.2 97.3,95.2 97.6,95.2 98.0,95.2 98.3,95.2 98.7,95.2 99.0,95.2 99.4,95.2 99.7,95.2 100.1,95.2 100.4,95.2 100.8,95.2 101.1,95.2 101.5,95.2 101.8,95.2 102.2,95.2 102.5,95.2 102.9,95.2 103.2,95.2 103.6,95.2 103.9,95.2 104.3,95.2 104.6,95.2 105.0,95.2 105.3,95.2 105.7,95.2 106.0,95.2 106.4,95.2 106.7,95.2 107.1,95.2 107.4,95.2 107.8,95.2 108.1,95.2 108.5,95.2 108.8,95.2 109.2,95.2 109.5,95.2 109.9,95.2 110.2,95.2 110.6,95.2 110.9,95.2 111.3,95.2 111.6,95.2 112.0,95.2 112.3,95.2 112.7,95.2 113.0,95.2 113.4,95.2 113.7,95.2 114.1,95.2 114.4,95.2 114.8,95.2 115.1,95.2 115.5,95.2 115.8,95.2 116.2,95.2 116.5,95.2 116.9,95.2 117.2,95.2 117.6,95.2 117.9,95.2 118.3,95.2 118.6,95.2 119.0,95.2 119.3,95.2 119.7,95.2 120.0,95.2 120.4,95.2 120.7,95.2 121.1,95.2 121.4,95.2 121.8,95.2 122.1,95.2 122.5,95.2 122.8,95.2 123.2,95.2 123.5,95.2 123.9,95.2 124.2,95.2 124.6,95.2 124.9,95.2 125.3,95.2 125.6,95.2 126.0,95.2 126.3,95.2 126.7,95.2 127.0,95.2 127.4,95.2 127.7,95.2 128.1,95.2 128.4,95.2 128.8,95.2 129.1,95.2 129.5,95.2 129.8,95.2 130.2,95.2 130.5,95.2 130.9,95.2 131.2,95.2 131.6,95.2 131.9,95.2 132.3,95.2 132.6,95.2 133.0,95.2 133.3,95.2 133.7,95.2 134.0,95.2 134.4,95.2 134.7,95.2 135.1,95.2 135.4,95.2 135.8,95.2 136.1,95.2 136.5,95.2 136.8,95.2 137.2,95.2 137.5,95.2 137.9,95.2 138.2,95.2 138.6,95.2 138.9,95.2 139.3,95.2 139.6,95.2 140.0,95.2 140.3,95.2 140.7,95.2 141.0,95.2 141.4,95.2 141.7,95.2 142.1,95.2 142.4,95.2 142.8,95.2 143.1,95.2 143.5,95.2 143.8,95.2 144.2,95.2 144.5,95.2 144.9,95.2 145.2,95.2 145.6,95.2 145.9,95.2 146.3,95.2 146.6,95.2 147.0,95.2 147.3,95.2 147.7,95.2 148.0,95.2 148.4,95.2 148.7,95.2 149.1,95.2 149.4,95.2 149.8,95.2 150.1,95.2 150.5,95.2 150.8,95.2 151.2,95.2 151.5,95.2 151.9,95.2 152.2,95.2 152.6,95.2 152.9,95.2 153.3,95.2 153.6,95.2 154.0,95.2 154.3,95.2 154.7,95.2 155.0,95.2 155.4,95.2 155.7,95.2 156.1,95.2 156.4,95.2 156.8,95.2 157.1,95.2 157.5,95.2 157.8,95.2 158.2,95.2 158.5,95.2 158.9,95.2 159.2,95.2 159.6,95.2 159.9,95.2 160.3,95.2 160.6,95.2 161.0,95.2 161.3,95.2 161.7,95.2 162.0,95.2 162.4,95.2 162.7,95.2 163.1,95.2 163.4,95.2 163.8,95.2 164.1,95.2 164.5,95.2 164.8,95.2 165.2,95.2 165.5,95.2 165.9,95.2 166.2,95.2 166.6,95.2 166.9,95.2 167.3,95.2 167.6,95.2 168.0,95.2 168.3,95.2 168.7,95.2 169.0,95.2 169.4,95.2 169.7,95.2 170.1,95.2 170.4,95.2 170.8,95.2 171.1,95.2 171.5,95.2 171.8,95.2 172.2,95.2 172.5,95.2 172.9,95.2 173.2,95.2 173.6,95.2 173.9,95.2 174.3,95.2 174.6,95.2 175.0,95.2 175.3,95.2 175.7,95.2 176.0,95.2 176.4,95.2 176.7,95.2 177.1,95.2 177.4,95.2 177.8,95.2 178.1,95.2 178.5,95.2 178.8,95.2 179.2,95.2 179.5,95.2 179.9,94.1 180.2,92.6 180.6,91.0 180.9,89.3 181.3,87.7 181.6,87.0 182.0,87.6 182.3,88.5 182.7,89.6 183.0,91.0 183.4,92.6 183.7,94.3 184.1,96.0 184.4,97.7 184.8,99.3 185.1,100.7 185.5,101.9 185.8,102.9 186.2,103.5 186.5,103.7 186.9,103.7 187.2,103.2 187.6,102.5 187.9,101.4 188.3,100.1 188.6,98.6 189.0,97.0 189.3,95.3 189.7,93.5 190.0,91.9 190.4,90.4 190.7,89.1 191.1,88.0 191.4,87.3 191.8,86.8 192.1,86.8 192.5,87.0 192.8,87.6 193.2,88.5 193.5,89.7 193.9,91.2 194.2,92.7 194.6,94.4 194.9,96.2 195.3,97.8 195.6,99.4 196.0,100.8 196.3,102.0 196.7,102.9 197.0,103.5 197.4,103.7 197.7,103.6 198.1,103.2 198.4,102.4 198.8,101.3 199.1,100.0 199.5,98.5 199.8,96.9 200.2,95.1 200.5,93.4 200.9,91.8 201.2,90.3 201.6,89.0 201.9,88.0 202.3,87.2 202.6,86.8 203.0,86.8 203.3,87.1 203.7,87.7 204.0,88.6 204.4,89.8 204.7,91.3 205.1,92.9 205.4,94.6 205.8,96.3 206.1,98.0 206.5,99.5 206.8,100.9 207.2,102.1 207.5,103.0 207.9,103.5 208.2,103.7 208.6,103.6 208.9,103.1 209.3,102.3 209.6,101.3 210.0,99.9 210.3,98.4 210.7,96.7 211.0,95.0 211.4,93.3 211.7,91.7 212.1,90.2 212.4,88.9 212.8,87.9 213.1,87.2 213.5,86.8 213.8,86.8 214.2,87.1 214.5,87.7 214.9,88.7 215.2,89.9 215.6,91.4 215.9,93.0 216.3,94.7 216.6,96.4 217.0,98.1 217.3,99.7 217.7,101.0 218.0,102.2 218.4,103.0 218.7,103.6 219.1,103.7 219.4,103.6 219.8,103.1 220.1,102.3 220.5,101.2 220.8,99.8 221.2,98.3 221.5,96.6 221.9,94.9 222.2,93.2 222.6,91.6 222.9,90.1 223.3,88.8 223.6,87.8 224.0,87.1 224.3,86.8 224.7,86.8 225.0,87.1 225.4,87.8 225.7,88.8 226.1,90.0 226.4,91.5 226.8,93.1 227.1,94.8 227.5,96.5 227.8,98.2 228.2,99.8 228.5,101.1 228.9,102.2 229.2,103.1 229.6,103.6 229.9,103.7 230.3,103.6 230.6,103.0 231.0,102.2 231.3,101.1 231.7,99.7 232.0,98.1 232.4,96.5 232.7,94.7 233.1,93.0 233.4,91.4 233.8,90.0 234.1,88.7 234.5,87.8 234.8,87.1 235.2,86.8 235.5,86.8 235.9,87.2 236.2,87.9 236.6,88.9 236.9,90.1 237.3,91.6 237.6,93.2 238.0,95.0 238.3,96.7 238.7,98.3 239.0,99.9 239.4,101.2 239.7,102.3 240.1,103.1 240.4,103.6 240.8,103.7 241.1,103.5 241.5,103.0 241.8,102.1 242.2,101.0 242.5,99.6 242.9,98.0 243.2,96.3 243.6,94.6 243.9,92.9 244.3,91.3 244.6,89.9 245.0,88.7 245.3,87.7 245.7,87.1 246.0,86.8 246.4,86.8 246.7,87.2 247.1,87.9 247.4,89.0 247.8,90.2 248.1,91.7 248.5,93.4 248.8,95.1 249.2,96.8 249.5,98.5 249.9,100.0 250.2,101.3 250.6,102.4 250.9,103.2 251.3,103.6 251.6,103.7 252.0,103.5 252.3,102.9 252.7,102.0 253.0,100.9 253.4,99.5 253.7,97.9 254.1,96.2 254.4,94.5 254.8,92.8 255.1,91.2 255.5,89.8 255.8,88.6 256.2,87.7 256.5,87.0 256.9,86.8 257.2,86.8 257.6,87.3 257.9,88.0 258.3,89.1 258.6,90.4 259.0,91.9 259.3,93.5 259.7,95.2 260.0,96.9 260.4,98.6 260.7,100.1 261.1,101.4 261.4,102.5 261.8,103.2 262.1,103.7 262.5,103.7 262.8,103.5 263.2,102.9 263.5,102.0 263.9,100.8 264.2,99.4 264.6,97.8 264.9,96.1 265.3,94.4 265.6,92.7 266.0,91.1 266.3,89.7 266.7,88.5 267.0,87.6 267.4,87.0 267.7,86.8 268.1,86.9 268.4,87.3 268.8,88.1 269.1,89.1 269.5,90.5 269.8,92.0 270.2,93.6 270.5,95.3 270.9,97.1 271.2,98.7 271.6,100.2 271.9,101.5 272.3,102.5 272.6,103.3 273.0,103.7 273.3,103.7 273.7,103.4 274.0,102.8 274.4,101.9 274.7,100.7 275.1,99.2 275.4,97.7 275.8,96.0 276.1,94.2 276.5,92.6 276.9,91.0 277.2,89.6 277.6,88.4 277.9,87.5 278.3,87.0 278.6,86.8 279.0,86.9 279.3,87.3 279.7,88.1 280.0,89.2 280.4,90.6 280.7,92.1 281.1,93.8 281.4,95.5 281.8,97.2 282.1,98.8 282.5,100.3 282.8,101.6 283.2,102.6 283.5,103.3 283.9,103.7 284.2,103.7 284.6,103.4 284.9,102.8 285.3,101.8 285.6,100.6 286.0,99.1 286.3,97.5 286.7,95.8 287.0,94.1 287.4,92.4 287.7,90.9 288.1,89.5 288.4,88.3 288.8,87.5 289.1,86.9 289.5,86.8 289.8,86.9 290.2,87.4 290.5,88.2 290.9,89.3 291.2,90.7 291.6,92.2 291.9,93.9 292.3,95.6 292.6,97.3 293.0,98.9 293.3,100.4 293.7,101.7 294.0,102.7 294.4,103.3 294.7,103.7 295.1,103.7 295.4,103.4 295.8,102.7 296.1,101.7 296.5,100.5 296.8,99.0 297.2,97.4 297.5,95.7 297.9,94.0 298.2,92.3 298.6,90.8 298.9,89.4 299.3,88.3 299.6,87.4 300.0,86.9 300.3,86.8 300.7,86.9 301.0,87.4 301.4,88.3 301.7,89.4 302.1,90.8 302.4,92.3 302.8,94.0 303.1,95.7 303.5,97.4 303.8,99.0 304.2,100.5 304.5,101.7 304.9,102.7 305.2,103.4 305.6,103.7 305.9,103.7 306.3,103.3 306.6,102.6 307.0,101.6 307.3,100.4 307.7,98.9 308.0,97.3 308.4,95.6 308.7,93.8 309.1,92.2 309.4,90.6 309.8,89.3 310.1,88.2 310.5,87.4 310.8,86.9 311.2,86.8 311.5,87.0 311.9,87.5 312.2,88.4 312.6,89.5 312.9,90.9 313.3,92.5 313.6,94.1 314.0,95.9 314.3,97.6 314.7,99.2 315.0,100.6 315.4,101.8 315.7,102.8 316.1,103.4 316.4,103.7 316.8,103.7 317.1,103.3 317.5,102.6 317.8,101.6 318.2,100.3 318.5,98.8 318.9,97.2 319.2,95.4 319.6,93.7 319.9,92.1 320.3,90.5 320.6,89.2 321.0,88.1 321.3,87.3 321.7,86.9 322.0,86.8 322.4,87.0 322.7,87.6 323.1,88.4 323.4,89.6 323.8,91.0 324.1,92.6 324.5,94.3 324.8,96.0 325.2,97.7 325.5,99.3 325.9,100.7 326.2,101.9 326.6,102.8 326.9,103.5 327.3,103.7 327.6,103.7 328.0,103.3 328.3,102.5 328.7,101.5 329.0,100.2 329.4,98.7 329.7,97.0 330.1,95.3 330.4,93.6 330.8,91.9 331.1,90.4 331.5,89.1 331.8,88.1 332.2,87.3 332.5,86.9 332.9,86.8 333.2,87.0 333.6,87.6 333.9,88.5 334.3,89.7 334.6,91.1 335.0,92.7 335.3,94.4 335.7,96.1 336.0,97.8 336.4,99.4 336.7,100.8 337.1,102.0 337.4,102.9 337.8,103.5 338.1,103.7 338.5,103.6 338.8,103.2 339.2,102.4 339.5,101.4 339.9,100.1 340.2,98.5 340.6,96.9 340.9,95.2 341.3,93.5 341.6,91.8 342.0,90.3 342.3,89.0 342.7,88.0 343.0,87.2 343.4,86.8 343.7,86.8 344.1,87.0 344.4,87.7 344.8,88.6 345.1,89.8 345.5,91.2 345.8,92.8 346.2,94.5 346.5,96.2 346.9,97.9 347.2,99.5 347.6,100.9 347.9,102.1 348.3,102.9 348.6,103.5 349.0,103.7 349.3,103.6 349.7,103.2 350.0,102.4 350.4,101.3 350.7,100.0 351.1,98.4 351.4,96.8 351.8,95.1 352.1,93.3 352.5,91.7 352.8,90.2 353.2,88.9 353.5,87.9 353.9,87.2 354.2,86.8 354.6,86.8 354.9,87.1 355.3,87.7 355.6,88.7 356.0,89.9 356.3,91.3 356.7,92.9 357.0,94.6 357.4,96.4 357.7,98.0 358.1,99.6 358.4,101.0 358.8,102.1 359.1,103.0 359.5,103.5 359.8,103.7 360.2,103.6 360.5,103.1 360.9,102.3 361.2,101.2 361.6,99.8 361.9,98.3 362.3,96.6 362.6,94.9 363.0,93.2 363.3,91.6 363.7,90.1 364.0,88.9 364.4,87.9 364.7,87.2 365.1,86.8 365.4,86.8 365.8,87.1 366.1,87.8 366.5,88.8 366.8,90.0 367.2,91.5 367.5,93.1 367.9,94.8 368.2,96.5 368.6,98.2 368.9,99.7 369.3,101.1 369.6,102.2 370.0,103.1 370.3,103.6 370.7,103.7 371.0,103.6 371.4,103.1 371.7,102.2 372.1,101.1 372.4,99.7 372.8,98.2 373.1,96.5 373.5,94.8 373.8,93.1 374.2,91.5 374.5,90.0 374.9,88.8 375.2,87.8 375.6,87.1 375.9,86.8 376.3,86.8 376.6,87.2 377.0,87.9 377.3,88.8 377.7,90.1 378.0,91.6 378.4,93.2 378.7,94.9 379.1,96.6 379.4,98.3 379.8,99.8 380.1,101.2 380.5,102.3 380.8,103.1 381.2,103.6 381.5,103.7 381.9,103.6 382.2,103.0 382.6,102.1 382.9,101.0 383.3,99.6 383.6,98.1 384.0,96.4 384.3,94.7 384.7,93.0 385.0,91.4 385.4,89.9 385.7,88.7 386.1,87.7 386.4,87.1 386.8,86.8 387.1,86.8 387.5,87.2 387.8,87.9 388.2,88.9 388.5,90.2 388.9,91.7 389.2,93.3 389.6,95.0 389.9,96.8 390.3,98.4 390.6,99.9 391.0,101.3 391.3,102.4 391.7,103.2 392.0,103.6 392.4,103.7 392.7,103.5 393.1,103.0 393.4,102.1 393.8,100.9 394.1,99.5 394.5,97.9 394.8,96.3 395.2,94.5 395.5,92.8 395.9,91.2 396.2,89.8 396.6,88.6 396.9,87.7 397.3,87.1 397.6,86.8 398.0,86.8 398.3,87.2 398.7,88.0 399.0,89.0 399.4,90.3 399.7,91.8 400.1,93.5 400.4,95.2 400.8,96.9 401.1,98.5 401.5,100.0 401.8,101.4 402.2,102.4 402.5,103.2 402.9,103.6 403.2,103.7 403.6,103.5 403.9,102.9 404.3,102.0 404.6,100.8 405.0,99.4 405.3,97.8 405.7,96.1 406.0,94.4 406.4,92.7 406.7,91.1 407.1,89.7 407.4,88.5 407.8,87.6 408.1,87.0 408.5,86.8 408.8,86.9 409.2,87.3 409.5,88.0 409.9,89.1 410.2,90.4 410.6,91.9 410.9,93.6 411.3,95.3 411.6,97.0 412.0,98.7 412.3,100.2 412.7,101.5 413.0,102.5 413.4,103.2 413.7,103.7 414.1,103.7 414.4,103.5 414.8,102.8 415.1,101.9 415.5,100.7 415.8,99.3 416.2,97.7 416.5,96.0 416.9,94.3 417.2,92.6 417.6,91.0 417.9,89.6 418.3,88.5 418.6,87.6 419.0,87.0 419.3,86.8 419.7,86.9 420.0,87.3 420.4,88.1 420.7,89.2 421.1,90.5 421.4,92.1 421.8,93.7 422.1,95.4 422.5,97.1 422.8,98.8 423.2,100.3 423.5,101.5 423.9,102.6 424.2,103.3 424.6,103.7 424.9,103.7 425.3,103.4 425.6,102.8 426.0,101.8 426.3,100.6 426.7,99.2 427.0,97.6 427.4,95.9 427.7,94.2 428.1,92.5 428.4,90.9 428.8,89.5 429.1,88.4 429.5,87.5 429.8,87.0 430.2,86.8 430.5,86.9 430.9,87.4 431.2,88.2 431.6,89.3 431.9,90.6 432.3,92.2 432.6,93.8 433.0,95.6 433.3,97.3 433.7,98.9 434.0,100.4 434.4,101.6 434.7,102.6 435.1,103.3 435.4,103.7 435.8,103.7 436.1,103.4 436.5,102.7 436.8,101.8 437.2,100.5 437.5,99.1 437.9,97.4 438.2,95.7 438.6,94.0 438.9,92.4 439.3,90.8 439.6,89.4 440.0,88.3 440.3,87.5 440.7,86.9 441.0,86.8 441.4,86.9 441.7,87.4 442.1,88.3 442.4,98.1 442.8,99.6 443.1,100.9 443.5,101.9 443.8,102.7 444.2,103.1 444.5,103.2 444.9,103.0 445.2,102.5 445.6,101.7 445.9,100.6 446.3,99.3 446.6,97.8 447.0,96.2 447.3,95.2 447.7,95.2 448.0,95.2 448.4,95.2 448.7,95.2 449.1,95.2 449.4,95.2 449.8,95.2 450.1,95.2 450.5,95.2 450.8,95.2 451.2,95.2 451.5,95.2 451.9,95.2 452.2,95.2 452.6,95.2 452.9,95.2 453.3,95.2 453.6,95.2 454.0,95.2 454.3,95.2 454.7,95.2 455.0,95.2 455.4,95.2 455.7,95.2 456.1,95.2 456.4,95.2 456.8,95.2 457.1,95.2 457.5,95.2 457.8,95.2 458.2,95.2 458.5,95.2 458.9,95.2 459.2,95.2 459.6,95.2 459.9,95.2 460.3,95.2 460.6,95.2 461.0,95.2 461.3,95.2 461.7,95.2 462.0,95.2 462.4,95.2 462.7,95.2 463.1,95.2 463.4,95.2 463.8,95.2 464.1,95.2 464.5,95.2 464.8,95.2 465.2,95.2 465.5,95.2 465.9,95.2 466.2,95.2 466.6,95.2 466.9,95.2 467.3,95.2 467.6,95.2 468.0,95.2 468.3,95.2 468.7,95.2 469.0,95.2 469.4,95.2 469.7,95.2 470.1,95.2 470.4,95.2 470.8,95.2 471.1,95.2 471.5,95.2 471.8,95.2 472.2,95.2 472.5,95.2 472.9,95.2 473.2,95.2 473.6,95.2 473.9,95.2 474.3,95.2 474.6,95.2 475.0,95.2 475.3,95.2 475.7,95.2 476.0,95.2 476.4,95.2 476.7,95.2 477.1,95.2 477.4,95.2 477.8,95.2 478.1,95.2 478.5,95.2 478.8,95.2 479.2,95.2 479.5,95.2 479.9,95.2 480.2,95.2 480.6,95.2 480.9,95.2 481.3,95.2 481.6,95.2 482.0,95.2 482.3,95.2 482.7,95.2 483.0,95.2 483.4,95.2 483.7,95.2 484.1,95.2 484.4,95.2 484.8,95.2 485.1,95.2 485.5,95.2 485.8,95.2 486.2,95.2 486.5,95.2 486.9,95.2 487.2,95.2 487.6,95.2 487.9,95.2 488.3,95.2 488.6,95.2 489.0,95.2 489.3,95.2 489.7,95.2 490.0,95.2 490.4,95.2 490.7,95.2 491.1,95.2 491.4,95.2 491.8,95.2 492.1,95.2 492.5,95.2 492.8,95.2 493.2,95.2 493.5,95.2 493.9,95.2 494.2,95.2 494.6,95.2 494.9,95.2 495.3,95.2 495.6,95.2 496.0,95.2 496.3,95.2 496.7,95.2 497.0,95.2 497.4,95.2 497.7,95.2 498.1,95.2 498.4,95.2 498.8,95.2 499.1,95.2 499.5,95.2 499.8,95.2 500.2,95.2 500.5,95.2 500.9,95.2 501.2,95.2 501.6,95.2 501.9,95.2 502.3,95.2 502.6,95.2 503.0,95.2" fill="none" stroke="#ff0000" stroke-width="1.15" stroke-linejoin="round" />
<polyline points="49.3,95.2 49.7,95.2 50.0,95.2 50.4,95.2 50.7,95.2 51.1,95.2 51.4,95.2 51.8,95.2 52.1,95.2 52.5,95.2 52.8,95.2 53.2,95.2 53.5,95.2 53.9,95.2 54.2,95.2 54.6,95.2 54.9,95.2 55.3,95.2 55.6,95.2 56.0,95.2 56.3,95.2 56.7,95.2 57.0,95.2 57.4,95.2 57.7,95.2 58.1,95.2 58.4,95.2 58.8,95.2 59.1,95.2 59.5,95.2 59.8,95.2 60.2,95.2 60.5,95.2 60.9,95.2 61.2,95.2 61.6,95.2 61.9,95.2 62.3,95.2 62.6,95.2 63.0,95.2 63.3,95.2 63.7,95.2 64.0,95.2 64.4,95.2 64.7,95.2 65.1,95.2 65.4,95.2 65.8,95.2 66.1,95.2 66.5,95.2 66.8,95.2 67.2,95.2 67.5,95.2 67.9,95.2 68.2,95.2 68.6,95.2 68.9,95.2 69.3,95.2 69.6,95.2 70.0,95.2 70.3,95.2 70.7,95.2 71.0,95.2 71.4,95.2 71.7,95.2 72.1,95.2 72.4,95.2 72.8,95.2 73.1,95.2 73.5,95.2 73.8,95.2 74.2,95.2 74.5,95.2 74.9,95.2 75.2,95.2 75.6,95.2 75.9,95.2 76.3,95.2 76.6,95.2 77.0,95.2 77.3,95.2 77.7,95.2 78.0,95.2 78.4,95.2 78.7,95.2 79.1,95.2 79.4,95.2 79.8,95.2 80.1,95.2 80.5,95.2 80.8,95.2 81.2,95.2 81.5,95.2 81.9,95.2 82.2,95.2 82.6,95.2 82.9,95.2 83.3,95.2 83.6,95.2 84.0,95.2 84.3,95.2 84.7,95.2 85.0,95.2 85.4,95.2 85.7,95.2 86.1,95.2 86.4,95.2 86.8,95.2 87.1,95.2 87.5,95.2 87.8,95.2 88.2,95.2 88.5,95.2 88.9,95.2 89.2,95.2 89.6,95.2 89.9,95.2 90.3,95.2 90.6,95.2 91.0,95.2 91.3,95.2 91.7,95.2 92.0,95.2 92.4,95.2 92.7,95.2 93.1,95.2 93.4,95.2 93.8,95.2 94.1,95.2 94.5,95.2 94.8,95.2 95.2,95.2 95.5,95.2 95.9,95.2 96.2,95.2 96.6,95.2 96.9,95.2 97.3,95.2 97.6,95.2 98.0,95.2 98.3,95.2 98.7,95.2 99.0,95.2 99.4,95.2 99.7,95.2 100.1,95.2 100.4,95.2 100.8,95.2 101.1,95.2 101.5,95.2 101.8,95.2 102.2,95.2 102.5,95.2 102.9,95.2 103.2,95.2 103.6,95.2 103.9,95.2 104.3,95.2 104.6,95.2 105.0,95.2 105.3,95.2 105.7,95.2 106.0,95.2 106.4,95.2 106.7,95.2 107.1,95.2 107.4,95.2 107.8,95.2 108.1,95.2 108.5,95.2 108.8,95.2 109.2,95.2 109.5,95.2 109.9,95.2 110.2,95.2 110.6,95.2 110.9,95.2 111.3,95.2 111.6,95.2 112.0,95.2 112.3,95.2 112.7,95.2 113.0,95.2 113.4,95.2 113.7,95.2 114.1,95.2 114.4,95.2 114.8,95.2 115.1,95.2 115.5,95.2 115.8,95.2 116.2,95.2 116.5,95.2 116.9,95.2 117.2,95.2 117.6,95.2 117.9,95.2 118.3,95.2 118.6,95.2 119.0,95.2 119.3,95.2 119.7,95.2 120.0,95.2 120.4,95.2 120.7,95.2 121.1,95.2 121.4,95.2 121.8,95.2 122.1,95.2 122.5,95.2 122.8,95.2 123.2,95.2 123.5,95.2 123.9,95.2 124.2,95.2 124.6,95.2 124.9,95.2 125.3,95.2 125.6,95.2 126.0,95.2 126.3,95.2 126.7,95.2 127.0,95.2 127.4,95.2 127.7,95.2 128.1,95.2 128.4,95.2 128.8,95.2 129.1,95.2 129.5,95.2 129.8,95.2 130.2,95.2 130.5,95.2 130.9,95.2 131.2,95.2 131.6,95.2 131.9,95.2 132.3,95.2 132.6,95.2 133.0,95.2 133.3,95.2 133.7,95.2 134.0,95.2 134.4,95.2 134.7,95.2 135.1,95.2 135.4,95.2 135.8,95.2 136.1,95.2 136.5,95.2 136.8,95.2 137.2,95.2 137.5,95.2 137.9,95.2 138.2,95.2 138.6,95.2 138.9,95.2 139.3,95.2 139.6,95.2 140.0,95.2 140.3,95.2 140.7,95.2 141.0,95.2 141.4,95.2 141.7,95.2 142.1,95.2 142.4,95.2 142.8,95.2 143.1,95.2 143.5,95.2 143.8,95.2 144.2,95.2 144.5,95.2 144.9,95.2 145.2,95.2 145.6,95.2 145.9,95.2 146.3,95.2 146.6,95.2 147.0,95.2 147.3,95.2 147.7,95.2 148.0,95.2 148.4,95.2 148.7,95.2 149.1,95.2 149.4,95.2 149.8,95.2 150.1,95.2 150.5,95.2 150.8,95.2 151.2,95.2 151.5,95.2 151.9,95.2 152.2,95.2 152.6,95.2 152.9,95.2 153.3,95.2 153.6,95.2 154.0,95.2 154.3,95.2 154.7,95.2 155.0,95.2 155.4,95.2 155.7,95.2 156.1,95.2 156.4,95.2 156.8,95.2 157.1,95.2 157.5,95.2 157.8,95.2 158.2,95.2 158.5,95.2 158.9,95.2 159.2,95.2 159.6,95.2 159.9,95.2 160.3,95.2 160.6,95.2 161.0,95.2 161.3,95.2 161.7,95.2 162.0,95.2 162.4,95.2 162.7,95.2 163.1,95.2 163.4,95.2 163.8,95.2 164.1,95.2 164.5,95.2 164.8,95.2 165.2,95.2 165.5,95.2 165.9,95.2 166.2,95.2 166.6,95.2 166.9,95.2 167.3,95.2 167.6,95.2 168.0,95.2 168.3,95.2 168.7,95.2 169.0,95.2 169.4,95.2 169.7,95.2 170.1,95.2 170.4,95.2 170.8,95.2 171.1,95.2 171.5,95.2 171.8,95.2 172.2,95.2 172.5,95.2 172.9,95.2 173.2,95.2 173.6,95.2 173.9,95.2 174.3,95.2 174.6,95.2 175.0,95.2 175.3,95.2 175.7,95.2 176.0,95.2 176.4,95.2 176.7,95.2 177.1,95.2 177.4,95.2 177.8,95.2 178.1,95.2 178.5,95.2 178.8,95.2 179.2,95.2 179.5,95.4 179.9,96.8 180.2,98.0 180.6,98.8 180.9,99.1 181.3,98.8 181.6,97.6 182.0,95.9 182.3,94.2 182.7,92.5 183.0,91.0 183.4,89.6 183.7,88.4 184.1,87.5 184.4,87.0 184.8,86.8 185.1,86.9 185.5,87.4 185.8,88.2 186.2,89.3 186.5,90.6 186.9,92.1 187.2,93.8 187.6,95.5 187.9,97.2 188.3,98.8 188.6,100.3 189.0,101.6 189.3,102.6 189.7,103.3 190.0,103.7 190.4,103.7 190.7,103.4 191.1,102.7 191.4,101.8 191.8,100.6 192.1,99.1 192.5,97.5 192.8,95.8 193.2,94.1 193.5,92.4 193.9,90.8 194.2,89.5 194.6,88.3 194.9,87.5 195.3,86.9 195.6,86.8 196.0,86.9 196.3,87.4 196.7,88.2 197.0,89.3 197.4,90.7 197.7,92.2 198.1,93.9 198.4,95.6 198.8,97.3 199.1,99.0 199.5,100.4 199.8,101.7 200.2,102.7 200.5,103.4 200.9,103.7 201.2,103.7 201.6,103.4 201.9,102.7 202.3,101.7 202.6,100.5 203.0,99.0 203.3,97.4 203.7,95.7 204.0,93.9 204.4,92.3 204.7,90.7 205.1,89.4 205.4,88.3 205.8,87.4 206.1,86.9 206.5,86.8 206.8,86.9 207.2,87.5 207.5,88.3 207.9,89.4 208.2,90.8 208.6,92.4 208.9,94.0 209.3,95.8 209.6,97.5 210.0,99.1 210.3,100.5 210.7,101.8 211.0,102.7 211.4,103.4 211.7,103.7 212.1,103.7 212.4,103.3 212.8,102.6 213.1,101.6 213.5,100.4 213.8,98.9 214.2,97.2 214.5,95.5 214.9,93.8 215.2,92.2 215.6,90.6 215.9,89.3 216.3,88.2 216.6,87.4 217.0,86.9 217.3,86.8 217.7,87.0 218.0,87.5 218.4,88.4 218.7,89.5 219.1,90.9 219.4,92.5 219.8,94.2 220.1,95.9 220.5,97.6 220.8,99.2 221.2,100.6 221.5,101.8 221.9,102.8 222.2,103.4 222.6,103.7 222.9,103.7 223.3,103.3 223.6,102.6 224.0,101.5 224.3,100.2 224.7,98.8 225.0,97.1 225.4,95.4 225.7,93.7 226.1,92.0 226.4,90.5 226.8,89.2 227.1,88.1 227.5,87.3 227.8,86.9 228.2,86.8 228.5,87.0 228.9,87.6 229.2,88.5 229.6,89.6 229.9,91.0 230.3,92.6 230.6,94.3 231.0,96.0 231.3,97.7 231.7,99.3 232.0,100.7 232.4,101.9 232.7,102.8 233.1,103.5 233.4,103.7 233.8,103.7 234.1,103.2 234.5,102.5 234.8,101.4 235.2,100.1 235.5,98.6 235.9,97.0 236.2,95.3 236.6,93.6 236.9,91.9 237.3,90.4 237.6,89.1 238.0,88.0 238.3,87.3 238.7,86.8 239.0,86.8 239.4,87.0 239.7,87.6 240.1,88.5 240.4,89.7 240.8,91.1 241.1,92.7 241.5,94.4 241.8,96.1 242.2,97.8 242.5,99.4 242.9,100.8 243.2,102.0 243.6,102.9 243.9,103.5 244.3,103.7 244.6,103.6 245.0,103.2 245.3,102.4 245.7,101.4 246.0,100.0 246.4,98.5 246.7,96.9 247.1,95.2 247.4,93.4 247.8,91.8 248.1,90.3 248.5,89.0 248.8,88.0 249.2,87.2 249.5,86.8 249.9,86.8 250.2,87.1 250.6,87.7 250.9,88.6 251.3,89.8 251.6,91.3 252.0,92.9 252.3,94.6 252.7,96.3 253.0,98.0 253.4,99.5 253.7,100.9 254.1,102.1 254.4,103.0 254.8,103.5 255.1,103.7 255.5,103.6 255.8,103.1 256.2,102.4 256.5,101.3 256.9,99.9 257.2,98.4 257.6,96.7 257.9,95.0 258.3,93.3 258.6,91.7 259.0,90.2 259.3,88.9 259.7,87.9 260.0,87.2 260.4,86.8 260.7,86.8 261.1,87.1 261.4,87.7 261.8,88.7 262.1,89.9 262.5,91.4 262.8,93.0 263.2,94.7 263.5,96.4 263.9,98.1 264.2,99.6 264.6,101.0 264.9,102.2 265.3,103.0 265.6,103.6 266.0,103.7 266.3,103.6 266.7,103.1 267.0,102.3 267.4,101.2 267.7,99.8 268.1,98.3 268.4,96.6 268.8,94.9 269.1,93.2 269.5,91.6 269.8,90.1 270.2,88.8 270.5,87.8 270.9,87.2 271.2,86.8 271.6,86.8 271.9,87.1 272.3,87.8 272.6,88.8 273.0,90.0 273.3,91.5 273.7,93.1 274.0,94.8 274.4,96.5 274.7,98.2 275.1,99.7 275.4,101.1 275.8,102.2 276.1,103.1 276.5,103.6 276.9,103.7 277.2,103.6 277.6,103.0 277.9,102.2 278.3,101.1 278.6,99.7 279.0,98.2 279.3,96.5 279.7,94.8 280.0,93.1 280.4,91.4 280.7,90.0 281.1,88.8 281.4,87.8 281.8,87.1 282.1,86.8 282.5,86.8 282.8,87.2 283.2,87.9 283.5,88.9 283.9,90.1 284.2,91.6 284.6,93.2 284.9,94.9 285.3,96.7 285.6,98.3 286.0,99.9 286.3,101.2 286.7,102.3 287.0,103.1 287.4,103.6 287.7,103.7 288.1,103.5 288.4,103.0 288.8,102.1 289.1,101.0 289.5,99.6 289.8,98.0 290.2,96.4 290.5,94.6 290.9,92.9 291.2,91.3 291.6,89.9 291.9,88.7 292.3,87.7 292.6,87.1 293.0,86.8 293.3,86.8 293.7,87.2 294.0,87.9 294.4,89.0 294.7,90.2 295.1,91.7 295.4,93.4 295.8,95.1 296.1,96.8 296.5,98.4 296.8,100.0 297.2,101.3 297.5,102.4 297.9,103.2 298.2,103.6 298.6,103.7 298.9,103.5 299.3,102.9 299.6,102.1 300.0,100.9 300.3,99.5 300.7,97.9 301.0,96.2 301.4,94.5 301.7,92.8 302.1,91.2 302.4,89.8 302.8,88.6 303.1,87.7 303.5,87.0 303.8,86.8 304.2,86.8 304.5,87.3 304.9,88.0 305.2,89.0 305.6,90.3 305.9,91.8 306.3,93.5 306.6,95.2 307.0,96.9 307.3,98.6 307.7,100.1 308.0,101.4 308.4,102.4 308.7,103.2 309.1,103.6 309.4,103.7 309.8,103.5 310.1,102.9 310.5,102.0 310.8,100.8 311.2,99.4 311.5,97.8 311.9,96.1 312.2,94.4 312.6,92.7 312.9,91.1 313.3,89.7 313.6,88.5 314.0,87.6 314.3,87.0 314.7,86.8 315.0,86.9 315.4,87.3 315.7,88.1 316.1,89.1 316.4,90.4 316.8,92.0 317.1,93.6 317.5,95.3 317.8,97.0 318.2,98.7 318.5,100.2 318.9,101.5 319.2,102.5 319.6,103.3 319.9,103.7 320.3,103.7 320.6,103.4 321.0,102.8 321.3,101.9 321.7,100.7 322.0,99.3 322.4,97.7 322.7,96.0 323.1,94.2 323.4,92.6 323.8,91.0 324.1,89.6 324.5,88.4 324.8,87.5 325.2,87.0 325.5,86.8 325.9,86.9 326.2,87.3 326.6,88.1 326.9,89.2 327.3,90.6 327.6,92.1 328.0,93.7 328.3,95.5 328.7,97.2 329.0,98.8 329.4,100.3 329.7,101.6 330.1,102.6 330.4,103.3 330.8,103.7 331.1,103.7 331.5,103.4 331.8,102.8 332.2,101.8 332.5,100.6 332.9,99.1 333.2,97.5 333.6,95.8 333.9,94.1 334.3,92.4 334.6,90.9 335.0,89.5 335.3,88.4 335.7,87.5 336.0,87.0 336.4,86.8 336.7,86.9 337.1,87.4 337.4,88.2 337.8,89.3 338.1,90.7 338.5,92.2 338.8,93.9 339.2,95.6 339.5,97.3 339.9,98.9 340.2,100.4 340.6,101.6 340.9,102.6 341.3,103.3 341.6,103.7 342.0,103.7 342.3,103.4 342.7,102.7 343.0,101.7 343.4,100.5 343.7,99.0 344.1,97.4 344.4,95.7 344.8,94.0 345.1,92.3 345.5,90.8 345.8,89.4 346.2,88.3 346.5,87.4 346.9,86.9 347.2,86.8 347.6,86.9 347.9,87.4 348.3,88.3 348.6,89.4 349.0,90.8 349.3,92.3 349.7,94.0 350.0,95.7 350.4,97.4 350.7,99.0 351.1,100.5 351.4,101.7 351.8,102.7 352.1,103.4 352.5,103.7 352.8,103.7 353.2,103.3 353.5,102.6 353.9,101.6 354.2,100.4 354.6,98.9 354.9,97.3 355.3,95.6 355.6,93.9 356.0,92.2 356.3,90.7 356.7,89.3 357.0,88.2 357.4,87.4 357.7,86.9 358.1,86.8 358.4,87.0 358.8,87.5 359.1,88.4 359.5,89.5 359.8,90.9 360.2,92.4 360.5,94.1 360.9,95.8 361.2,97.5 361.6,99.1 361.9,100.6 362.3,101.8 362.6,102.8 363.0,103.4 363.3,103.7 363.7,103.7 364.0,103.3 364.4,102.6 364.7,101.6 365.1,100.3 365.4,98.8 365.8,97.2 366.1,95.5 366.5,93.7 366.8,92.1 367.2,90.6 367.5,89.2 367.9,88.1 368.2,87.3 368.6,86.9 368.9,86.8 369.3,87.0 369.6,87.5 370.0,88.4 370.3,89.6 370.7,91.0 371.0,92.6 371.4,94.2 371.7,96.0 372.1,97.7 372.4,99.3 372.8,100.7 373.1,101.9 373.5,102.8 373.8,103.4 374.2,103.7 374.5,103.7 374.9,103.3 375.2,102.5 375.6,101.5 375.9,100.2 376.3,98.7 376.6,97.0 377.0,95.3 377.3,93.6 377.7,92.0 378.0,90.4 378.4,89.1 378.7,88.1 379.1,87.3 379.4,86.9 379.8,86.8 380.1,87.0 380.5,87.6 380.8,88.5 381.2,89.7 381.5,91.1 381.9,92.7 382.2,94.4 382.6,96.1 382.9,97.8 383.3,99.4 383.6,100.8 384.0,102.0 384.3,102.9 384.7,103.5 385.0,103.7 385.4,103.6 385.7,103.2 386.1,102.4 386.4,101.4 386.8,100.1 387.1,98.6 387.5,96.9 387.8,95.2 388.2,93.5 388.5,91.8 388.9,90.3 389.2,89.0 389.6,88.0 389.9,87.3 390.3,86.8 390.6,86.8 391.0,87.0 391.3,87.7 391.7,88.6 392.0,89.8 392.4,91.2 392.7,92.8 393.1,94.5 393.4,96.2 393.8,97.9 394.1,99.5 394.5,100.9 394.8,102.1 395.2,102.9 395.5,103.5 395.9,103.7 396.2,103.6 396.6,103.2 396.9,102.4 397.3,101.3 397.6,100.0 398.0,98.4 398.3,96.8 398.7,95.1 399.0,93.4 399.4,91.7 399.7,90.2 400.1,89.0 400.4,87.9 400.8,87.2 401.1,86.8 401.5,86.8 401.8,87.1 402.2,87.7 402.5,88.7 402.9,89.9 403.2,91.3 403.6,92.9 403.9,94.6 404.3,96.4 404.6,98.0 405.0,99.6 405.3,101.0 405.7,102.1 406.0,103.0 406.4,103.5 406.7,103.7 407.1,103.6 407.4,103.1 407.8,102.3 408.1,101.2 408.5,99.9 408.8,98.3 409.2,96.7 409.5,94.9 409.9,93.2 410.2,91.6 410.6,90.1 410.9,88.9 411.3,87.9 411.6,87.2 412.0,86.8 412.3,86.8 412.7,87.1 413.0,87.8 413.4,88.8 413.7,90.0 414.1,91.4 414.4,93.1 414.8,94.8 415.1,96.5 415.5,98.2 415.8,99.7 416.2,101.1 416.5,102.2 416.9,103.0 417.2,103.6 417.6,103.7 417.9,103.6 418.3,103.1 418.6,102.2 419.0,101.1 419.3,99.7 419.7,98.2 420.0,96.5 420.4,94.8 420.7,93.1 421.1,91.5 421.4,90.0 421.8,88.8 422.1,87.8 422.5,87.1 422.8,86.8 423.2,86.8 423.5,87.2 423.9,87.8 424.2,88.8 424.6,90.1 424.9,91.6 425.3,93.2 425.6,94.9 426.0,96.6 426.3,98.3 426.7,99.8 427.0,101.2 427.4,102.3 427.7,103.1 428.1,103.6 428.4,103.7 428.8,103.6 429.1,103.0 429.5,102.2 429.8,101.0 430.2,99.6 430.5,98.1 430.9,96.4 431.2,94.7 431.6,93.0 431.9,91.4 432.3,89.9 432.6,88.7 433.0,87.7 433.3,87.1 433.7,86.8 434.0,86.8 434.4,87.2 434.7,87.9 435.1,88.9 435.4,90.2 435.8,91.7 436.1,93.3 436.5,95.0 436.8,96.7 437.2,98.4 437.5,99.9 437.9,101.3 438.2,102.4 438.6,103.1 438.9,103.6 439.3,103.7 439.6,103.5 440.0,103.0 440.3,102.1 440.7,100.9 441.0,99.5 441.4,98.0 441.7,96.3 442.1,94.6 442.4,92.4 442.8,90.9 443.1,89.6 443.5,88.6 443.8,87.8 444.2,87.4 444.5,87.3 444.9,87.5 445.2,88.0 445.6,88.8 445.9,89.9 446.3,91.2 446.6,92.7 447.0,94.3 447.3,95.2 447.7,95.2 448.0,95.2 448.4,95.2 448.7,95.2 449.1,95.2 449.4,95.2 449.8,95.2 450.1,95.2 450.5,95.2 450.8,95.2 451.2,95.2 451.5,95.2 451.9,95.2 452.2,95.2 452.6,95.2 452.9,95.2 453.3,95.2 453.6,95.2 454.0,95.2 454.3,95.2 454.7,95.2 455.0,95.2 455.4,95.2 455.7,95.2 456.1,95.2 456.4,95.2 456.8,95.2 457.1,95.2 457.5,95.2 457.8,95.2 458.2,95.2 458.5,95.2 458.9,95.2 459.2,95.2 459.6,95.2 459.9,95.2 460.3,95.2 460.6,95.2 461.0,95.2 461.3,95.2 461.7,95.2 462.0,95.2 462.4,95.2 462.7,95.2 463.1,95.2 463.4,95.2 463.8,95.2 464.1,95.2 464.5,95.2 464.8,95.2 465.2,95.2 465.5,95.2 465.9,95.2 466.2,95.2 466.6,95.2 466.9,95.2 467.3,95.2 467.6,95.2 468.0,95.2 468.3,95.2 468.7,95.2 469.0,95.2 469.4,95.2 469.7,95.2 470.1,95.2 470.4,95.2 470.8,95.2 471.1,95.2 471.5,95.2 471.8,95.2 472.2,95.2 472.5,95.2 472.9,95.2 473.2,95.2 473.6,95.2 473.9,95.2 474.3,95.2 474.6,95.2 475.0,95.2 475.3,95.2 475.7,95.2 476.0,95.2 476.4,95.2 476.7,95.2 477.1,95.2 477.4,95.2 477.8,95.2 478.1,95.2 478.5,95.2 478.8,95.2 479.2,95.2 479.5,95.2 479.9,95.2 480.2,95.2 480.6,95.2 480.9,95.2 481.3,95.2 481.6,95.2 482.0,95.2 482.3,95.2 482.7,95.2 483.0,95.2 483.4,95.2 483.7,95.2 484.1,95.2 484.4,95.2 484.8,95.2 485.1,95.2 485.5,95.2 485.8,95.2 486.2,95.2 486.5,95.2 486.9,95.2 487.2,95.2 487.6,95.2 487.9,95.2 488.3,95.2 488.6,95.2 489.0,95.2 489.3,95.2 489.7,95.2 490.0,95.2 490.4,95.2 490.7,95.2 491.1,95.2 491.4,95.2 491.8,95.2 492.1,95.2 492.5,95.2 492.8,95.2 493.2,95.2 493.5,95.2 493.9,95.2 494.2,95.2 494.6,95.2 494.9,95.2 495.3,95.2 495.6,95.2 496.0,95.2 496.3,95.2 496.7,95.2 497.0,95.2 497.4,95.2 497.7,95.2 498.1,95.2 498.4,95.2 498.8,95.2 499.1,95.2 499.5,95.2 499.8,95.2 500.2,95.2 500.5,95.2 500.9,95.2 501.2,95.2 501.6,95.2 501.9,95.2 502.3,95.2 502.6,95.2 503.0,95.2" fill="none" stroke="#00e000" stroke-width="1.15" stroke-linejoin="round" />
<polyline points="49.3,95.2 49.7,95.2 50.0,95.2 50.4,95.2 50.7,95.2 51.1,95.2 51.4,95.2 51.8,95.2 52.1,95.2 52.5,95.2 52.8,95.2 53.2,95.2 53.5,95.2 53.9,95.2 54.2,95.2 54.6,95.2 54.9,95.2 55.3,95.2 55.6,95.2 56.0,95.2 56.3,95.2 56.7,95.2 57.0,95.2 57.4,95.2 57.7,95.2 58.1,95.2 58.4,95.2 58.8,95.2 59.1,95.2 59.5,95.2 59.8,95.2 60.2,95.2 60.5,95.2 60.9,95.2 61.2,95.2 61.6,95.2 61.9,95.2 62.3,95.2 62.6,95.2 63.0,95.2 63.3,95.2 63.7,95.2 64.0,95.2 64.4,95.2 64.7,95.2 65.1,95.2 65.4,95.2 65.8,95.2 66.1,95.2 66.5,95.2 66.8,95.2 67.2,95.2 67.5,95.2 67.9,95.2 68.2,95.2 68.6,95.2 68.9,95.2 69.3,95.2 69.6,95.2 70.0,95.2 70.3,95.2 70.7,95.2 71.0,95.2 71.4,95.2 71.7,95.2 72.1,95.2 72.4,95.2 72.8,95.2 73.1,95.2 73.5,95.2 73.8,95.2 74.2,95.2 74.5,95.2 74.9,95.2 75.2,95.2 75.6,95.2 75.9,95.2 76.3,95.2 76.6,95.2 77.0,95.2 77.3,95.2 77.7,95.2 78.0,95.2 78.4,95.2 78.7,95.2 79.1,95.2 79.4,95.2 79.8,95.2 80.1,95.2 80.5,95.2 80.8,95.2 81.2,95.2 81.5,95.2 81.9,95.2 82.2,95.2 82.6,95.2 82.9,95.2 83.3,95.2 83.6,95.2 84.0,95.2 84.3,95.2 84.7,95.2 85.0,95.2 85.4,95.2 85.7,95.2 86.1,95.2 86.4,95.2 86.8,95.2 87.1,95.2 87.5,95.2 87.8,95.2 88.2,95.2 88.5,95.2 88.9,95.2 89.2,95.2 89.6,95.2 89.9,95.2 90.3,95.2 90.6,95.2 91.0,95.2 91.3,95.2 91.7,95.2 92.0,95.2 92.4,95.2 92.7,95.2 93.1,95.2 93.4,95.2 93.8,95.2 94.1,95.2 94.5,95.2 94.8,95.2 95.2,95.2 95.5,95.2 95.9,95.2 96.2,95.2 96.6,95.2 96.9,95.2 97.3,95.2 97.6,95.2 98.0,95.2 98.3,95.2 98.7,95.2 99.0,95.2 99.4,95.2 99.7,95.2 100.1,95.2 100.4,95.2 100.8,95.2 101.1,95.2 101.5,95.2 101.8,95.2 102.2,95.2 102.5,95.2 102.9,95.2 103.2,95.2 103.6,95.2 103.9,95.2 104.3,95.2 104.6,95.2 105.0,95.2 105.3,95.2 105.7,95.2 106.0,95.2 106.4,95.2 106.7,95.2 107.1,95.2 107.4,95.2 107.8,95.2 108.1,95.2 108.5,95.2 108.8,95.2 109.2,95.2 109.5,95.2 109.9,95.2 110.2,95.2 110.6,95.2 110.9,95.2 111.3,95.2 111.6,95.2 112.0,95.2 112.3,95.2 112.7,95.2 113.0,95.2 113.4,95.2 113.7,95.2 114.1,95.2 114.4,95.2 114.8,95.2 115.1,95.2 115.5,95.2 115.8,95.2 116.2,95.2 116.5,95.2 116.9,95.2 117.2,95.2 117.6,95.2 117.9,95.2 118.3,95.2 118.6,95.2 119.0,95.2 119.3,95.2 119.7,95.2 120.0,95.2 120.4,95.2 120.7,95.2 121.1,95.2 121.4,95.2 121.8,95.2 122.1,95.2 122.5,95.2 122.8,95.2 123.2,95.2 123.5,95.2 123.9,95.2 124.2,95.2 124.6,95.2 124.9,95.2 125.3,95.2 125.6,95.2 126.0,95.2 126.3,95.2 126.7,95.2 127.0,95.2 127.4,95.2 127.7,95.2 128.1,95.2 128.4,95.2 128.8,95.2 129.1,95.2 129.5,95.2 129.8,95.2 130.2,95.2 130.5,95.2 130.9,95.2 131.2,95.2 131.6,95.2 131.9,95.2 132.3,95.2 132.6,95.2 133.0,95.2 133.3,95.2 133.7,95.2 134.0,95.2 134.4,95.2 134.7,95.2 135.1,95.2 135.4,95.2 135.8,95.2 136.1,95.2 136.5,95.2 136.8,95.2 137.2,95.2 137.5,95.2 137.9,95.2 138.2,95.2 138.6,95.2 138.9,95.2 139.3,95.2 139.6,95.2 140.0,95.2 140.3,95.2 140.7,95.2 141.0,95.2 141.4,95.2 141.7,95.2 142.1,95.2 142.4,95.2 142.8,95.2 143.1,95.2 143.5,95.2 143.8,95.2 144.2,95.2 144.5,95.2 144.9,95.2 145.2,95.2 145.6,95.2 145.9,95.2 146.3,95.2 146.6,95.2 147.0,95.2 147.3,95.2 147.7,95.2 148.0,95.2 148.4,95.2 148.7,95.2 149.1,95.2 149.4,95.2 149.8,95.2 150.1,95.2 150.5,95.2 150.8,95.2 151.2,95.2 151.5,95.2 151.9,95.2 152.2,95.2 152.6,95.2 152.9,95.2 153.3,95.2 153.6,95.2 154.0,95.2 154.3,95.2 154.7,95.2 155.0,95.2 155.4,95.2 155.7,95.2 156.1,95.2 156.4,95.2 156.8,95.2 157.1,95.2 157.5,95.2 157.8,95.2 158.2,95.2 158.5,95.2 158.9,95.2 159.2,95.2 159.6,95.2 159.9,95.2 160.3,95.2 160.6,95.2 161.0,95.2 161.3,95.2 161.7,95.2 162.0,95.2 162.4,95.2 162.7,95.2 163.1,95.2 163.4,95.2 163.8,95.2 164.1,95.2 164.5,95.2 164.8,95.2 165.2,95.2 165.5,95.2 165.9,95.2 166.2,95.2 166.6,95.2 166.9,95.2 167.3,95.2 167.6,95.2 168.0,95.2 168.3,95.2 168.7,95.2 169.0,95.2 169.4,95.2 169.7,95.2 170.1,95.2 170.4,95.2 170.8,95.2 171.1,95.2 171.5,95.2 171.8,95.2 172.2,95.2 172.5,95.2 172.9,95.2 173.2,95.2 173.6,95.2 173.9,95.2 174.3,95.2 174.6,95.2 175.0,95.2 175.3,95.2 175.7,95.2 176.0,95.2 176.4,95.2 176.7,95.2 177.1,95.2 177.4,95.2 177.8,95.2 178.1,95.2 178.5,95.2 178.8,95.2 179.2,95.2 179.5,95.2 179.9,94.8 180.2,95.1 180.6,96.0 180.9,97.4 181.3,99.3 181.6,101.1 182.0,102.2 182.3,103.1 182.7,103.6 183.0,103.7 183.4,103.6 183.7,103.0 184.1,102.2 184.4,101.1 184.8,99.7 185.1,98.1 185.5,96.5 185.8,94.7 186.2,93.0 186.5,91.4 186.9,90.0 187.2,88.7 187.6,87.8 187.9,87.1 188.3,86.8 188.6,86.8 189.0,87.2 189.3,87.9 189.7,88.9 190.0,90.2 190.4,91.6 190.7,93.3 191.1,95.0 191.4,96.7 191.8,98.3 192.1,99.9 192.5,101.2 192.8,102.3 193.2,103.1 193.5,103.6 193.9,103.7 194.2,103.5 194.6,103.0 194.9,102.1 195.3,101.0 195.6,99.6 196.0,98.0 196.3,96.3 196.7,94.6 197.0,92.9 197.4,91.3 197.7,89.9 198.1,88.7 198.4,87.7 198.8,87.1 199.1,86.8 199.5,86.8 199.8,87.2 200.2,87.9 200.5,89.0 200.9,90.3 201.2,91.8 201.6,93.4 201.9,95.1 202.3,96.8 202.6,98.5 203.0,100.0 203.3,101.3 203.7,102.4 204.0,103.2 204.4,103.6 204.7,103.7 205.1,103.5 205.4,102.9 205.8,102.0 206.1,100.9 206.5,99.5 206.8,97.9 207.2,96.2 207.5,94.5 207.9,92.8 208.2,91.2 208.6,89.8 208.9,88.6 209.3,87.6 209.6,87.0 210.0,86.8 210.3,86.8 210.7,87.3 211.0,88.0 211.4,89.1 211.7,90.4 212.1,91.9 212.4,93.5 212.8,95.2 213.1,96.9 213.5,98.6 213.8,100.1 214.2,101.4 214.5,102.5 214.9,103.2 215.2,103.7 215.6,103.7 215.9,103.5 216.3,102.9 216.6,102.0 217.0,100.8 217.3,99.3 217.7,97.8 218.0,96.1 218.4,94.3 218.7,92.7 219.1,91.1 219.4,89.7 219.8,88.5 220.1,87.6 220.5,87.0 220.8,86.8 221.2,86.9 221.5,87.3 221.9,88.1 222.2,89.2 222.6,90.5 222.9,92.0 223.3,93.6 223.6,95.4 224.0,97.1 224.3,98.7 224.7,100.2 225.0,101.5 225.4,102.5 225.7,103.3 226.1,103.7 226.4,103.7 226.8,103.4 227.1,102.8 227.5,101.9 227.8,100.7 228.2,99.2 228.5,97.6 228.9,95.9 229.2,94.2 229.6,92.5 229.9,91.0 230.3,89.6 230.6,88.4 231.0,87.5 231.3,87.0 231.7,86.8 232.0,86.9 232.4,87.4 232.7,88.2 233.1,89.2 233.4,90.6 233.8,92.1 234.1,93.8 234.5,95.5 234.8,97.2 235.2,98.8 235.5,100.3 235.9,101.6 236.2,102.6 236.6,103.3 236.9,103.7 237.3,103.7 237.6,103.4 238.0,102.8 238.3,101.8 238.7,100.6 239.0,99.1 239.4,97.5 239.7,95.8 240.1,94.1 240.4,92.4 240.8,90.9 241.1,89.5 241.5,88.3 241.8,87.5 242.2,86.9 242.5,86.8 242.9,86.9 243.2,87.4 243.6,88.2 243.9,89.3 244.3,90.7 244.6,92.2 245.0,93.9 245.3,95.6 245.7,97.3 246.0,98.9 246.4,100.4 246.7,101.7 247.1,102.7 247.4,103.3 247.8,103.7 248.1,103.7 248.5,103.4 248.8,102.7 249.2,101.7 249.5,100.5 249.9,99.0 250.2,97.4 250.6,95.7 250.9,94.0 251.3,92.3 251.6,90.7 252.0,89.4 252.3,88.3 252.7,87.4 253.0,86.9 253.4,86.8 253.7,86.9 254.1,87.5 254.4,88.3 254.8,89.4 255.1,90.8 255.5,92.3 255.8,94.0 256.2,95.7 256.5,97.4 256.9,99.1 257.2,100.5 257.6,101.8 257.9,102.7 258.3,103.4 258.6,103.7 259.0,103.7 259.3,103.3 259.7,102.6 260.0,101.6 260.4,100.4 260.7,98.9 261.1,97.3 261.4,95.6 261.8,93.8 262.1,92.2 262.5,90.6 262.8,89.3 263.2,88.2 263.5,87.4 263.9,86.9 264.2,86.8 264.6,87.0 264.9,87.5 265.3,88.4 265.6,89.5 266.0,90.9 266.3,92.5 266.7,94.1 267.0,95.9 267.4,97.6 267.7,99.2 268.1,100.6 268.4,101.8 268.8,102.8 269.1,103.4 269.5,103.7 269.8,103.7 270.2,103.3 270.5,102.6 270.9,101.5 271.2,100.3 271.6,98.8 271.9,97.1 272.3,95.4 272.6,93.7 273.0,92.1 273.3,90.5 273.7,89.2 274.0,88.1 274.4,87.3 274.7,86.9 275.1,86.8 275.4,87.0 275.8,87.6 276.1,88.4 276.5,89.6 276.9,91.0 277.2,92.6 277.6,94.3 277.9,96.0 278.3,97.7 278.6,99.3 279.0,100.7 279.3,101.9 279.7,102.8 280.0,103.5 280.4,103.7 280.7,103.7 281.1,103.2 281.4,102.5 281.8,101.5 282.1,100.2 282.5,98.7 282.8,97.0 283.2,95.3 283.5,93.6 283.9,91.9 284.2,90.4 284.6,89.1 284.9,88.0 285.3,87.3 285.6,86.9 286.0,86.8 286.3,87.0 286.7,87.6 287.0,88.5 287.4,89.7 287.7,91.1 288.1,92.7 288.4,94.4 288.8,96.1 289.1,97.8 289.5,99.4 289.8,100.8 290.2,102.0 290.5,102.9 290.9,103.5 291.2,103.7 291.6,103.6 291.9,103.2 292.3,102.4 292.6,101.4 293.0,100.0 293.3,98.5 293.7,96.9 294.0,95.2 294.4,93.5 294.7,91.8 295.1,90.3 295.4,89.0 295.8,88.0 296.1,87.2 296.5,86.8 296.8,86.8 297.2,87.1 297.5,87.7 297.9,88.6 298.2,89.8 298.6,91.2 298.9,92.8 299.3,94.5 299.6,96.3 300.0,97.9 300.3,99.5 300.7,100.9 301.0,102.1 301.4,103.0 301.7,103.5 302.1,103.7 302.4,103.6 302.8,103.2 303.1,102.4 303.5,101.3 303.8,99.9 304.2,98.4 304.5,96.8 304.9,95.0 305.2,93.3 305.6,91.7 305.9,90.2 306.3,88.9 306.6,87.9 307.0,87.2 307.3,86.8 307.7,86.8 308.0,87.1 308.4,87.7 308.7,88.7 309.1,89.9 309.4,91.4 309.8,93.0 310.1,94.7 310.5,96.4 310.8,98.1 311.2,99.6 311.5,101.0 311.9,102.1 312.2,103.0 312.6,103.5 312.9,103.7 313.3,103.6 313.6,103.1 314.0,102.3 314.3,101.2 314.7,99.8 315.0,98.3 315.4,96.6 315.7,94.9 316.1,93.2 316.4,91.6 316.8,90.1 317.1,88.8 317.5,87.9 317.8,87.2 318.2,86.8 318.5,86.8 318.9,87.1 319.2,87.8 319.6,88.8 319.9,90.0 320.3,91.5 320.6,93.1 321.0,94.8 321.3,96.5 321.7,98.2 322.0,99.7 322.4,101.1 322.7,102.2 323.1,103.1 323.4,103.6 323.8,103.7 324.1,103.6 324.5,103.1 324.8,102.2 325.2,101.1 325.5,99.7 325.9,98.2 326.2,96.5 326.6,94.8 326.9,93.1 327.3,91.5 327.6,90.0 328.0,88.8 328.3,87.8 328.7,87.1 329.0,86.8 329.4,86.8 329.7,87.2 330.1,87.9 330.4,88.9 330.8,90.1 331.1,91.6 331.5,93.2 331.8,94.9 332.2,96.6 332.5,98.3 332.9,99.8 333.2,101.2 333.6,102.3 333.9,103.1 334.3,103.6 334.6,103.7 335.0,103.5 335.3,103.0 335.7,102.1 336.0,101.0 336.4,99.6 336.7,98.1 337.1,96.4 337.4,94.7 337.8,93.0 338.1,91.3 338.5,89.9 338.8,88.7 339.2,87.7 339.5,87.1 339.9,86.8 340.2,86.8 340.6,87.2 340.9,87.9 341.3,88.9 341.6,90.2 342.0,91.7 342.3,93.3 342.7,95.1 343.0,96.8 343.4,98.4 343.7,100.0 344.1,101.3 344.4,102.4 344.8,103.2 345.1,103.6 345.5,103.7 345.8,103.5 346.2,102.9 346.5,102.1 346.9,100.9 347.2,99.5 347.6,97.9 347.9,96.2 348.3,94.5 348.6,92.8 349.0,91.2 349.3,89.8 349.7,88.6 350.0,87.7 350.4,87.0 350.7,86.8 351.1,86.8 351.4,87.2 351.8,88.0 352.1,89.0 352.5,90.3 352.8,91.8 353.2,93.5 353.5,95.2 353.9,96.9 354.2,98.5 354.6,100.1 354.9,101.4 355.3,102.4 355.6,103.2 356.0,103.6 356.3,103.7 356.7,103.5 357.0,102.9 357.4,102.0 357.7,100.8 358.1,99.4 358.4,97.8 358.8,96.1 359.1,94.4 359.5,92.7 359.8,91.1 360.2,89.7 360.5,88.5 360.9,87.6 361.2,87.0 361.6,86.8 361.9,86.9 362.3,87.3 362.6,88.1 363.0,89.1 363.3,90.4 363.7,91.9 364.0,93.6 364.4,95.3 364.7,97.0 365.1,98.7 365.4,100.2 365.8,101.5 366.1,102.5 366.5,103.2 366.8,103.7 367.2,103.7 367.5,103.5 367.9,102.8 368.2,101.9 368.6,100.7 368.9,99.3 369.3,97.7 369.6,96.0 370.0,94.3 370.3,92.6 370.7,91.0 371.0,89.6 371.4,88.4 371.7,87.6 372.1,87.0 372.4,86.8 372.8,86.9 373.1,87.3 373.5,88.1 373.8,89.2 374.2,90.5 374.5,92.1 374.9,93.7 375.2,95.4 375.6,97.1 375.9,98.8 376.3,100.3 376.6,101.6 377.0,102.6 377.3,103.3 377.7,103.7 378.0,103.7 378.4,103.4 378.7,102.8 379.1,101.8 379.4,100.6 379.8,99.2 380.1,97.6 380.5,95.9 380.8,94.1 381.2,92.5 381.5,90.9 381.9,89.5 382.2,88.4 382.6,87.5 382.9,87.0 383.3,86.8 383.6,86.9 384.0,87.4 384.3,88.2 384.7,89.3 385.0,90.6 385.4,92.2 385.7,93.8 386.1,95.6 386.4,97.3 386.8,98.9 387.1,100.4 387.5,101.6 387.8,102.6 388.2,103.3 388.5,103.7 388.9,103.7 389.2,103.4 389.6,102.7 389.9,101.7 390.3,100.5 390.6,99.0 391.0,97.4 391.3,95.7 391.7,94.0 392.0,92.3 392.4,90.8 392.7,89.4 393.1,88.3 393.4,87.4 393.8,86.9 394.1,86.8 394.5,86.9 394.8,87.4 395.2,88.3 395.5,89.4 395.9,90.8 396.2,92.3 396.6,94.0 396.9,95.7 397.3,97.4 397.6,99.0 398.0,100.5 398.3,101.7 398.7,102.7 399.0,103.4 399.4,103.7 399.7,103.7 400.1,103.3 400.4,102.7 400.8,101.7 401.1,100.4 401.5,98.9 401.8,97.3 402.2,95.6 402.5,93.9 402.9,92.2 403.2,90.7 403.6,89.3 403.9,88.2 404.3,87.4 404.6,86.9 405.0,86.8 405.3,86.9 405.7,87.5 406.0,88.3 406.4,89.5 406.7,90.9 407.1,92.4 407.4,94.1 407.8,95.8 408.1,97.5 408.5,99.1 408.8,100.6 409.2,101.8 409.5,102.8 409.9,103.4 410.2,103.7 410.6,103.7 410.9,103.3 411.3,102.6 411.6,101.6 412.0,100.3 412.3,98.8 412.7,97.2 413.0,95.5 413.4,93.8 413.7,92.1 414.1,90.6 414.4,89.2 414.8,88.1 415.1,87.3 415.5,86.9 415.8,86.8 416.2,87.0 416.5,87.5 416.9,88.4 417.2,89.6 417.6,91.0 417.9,92.5 418.3,94.2 418.6,96.0 419.0,97.6 419.3,99.2 419.7,100.7 420.0,101.9 420.4,102.8 420.7,103.4 421.1,103.7 421.4,103.7 421.8,103.3 422.1,102.5 422.5,101.5 422.8,100.2 423.2,98.7 423.5,97.1 423.9,95.3 424.2,93.6 424.6,92.0 424.9,90.5 425.3,89.1 425.6,88.1 426.0,87.3 426.3,86.9 426.7,86.8 427.0,87.0 427.4,87.6 427.7,88.5 428.1,89.7 428.4,91.1 428.8,92.7 429.1,94.4 429.5,96.1 429.8,97.8 430.2,99.4 430.5,100.8 430.9,102.0 431.2,102.9 431.6,103.5 431.9,103.7 432.3,103.7 432.6,103.2 433.0,102.5 433.3,101.4 433.7,100.1 434.0,98.6 434.4,96.9 434.7,95.2 435.1,93.5 435.4,91.9 435.8,90.4 436.1,89.1 436.5,88.0 436.8,87.3 437.2,86.8 437.5,86.8 437.9,87.0 438.2,87.7 438.6,88.6 438.9,89.8 439.3,91.2 439.6,92.8 440.0,94.5 440.3,96.2 440.7,97.9 441.0,99.5 441.4,100.9 441.7,102.0 442.1,102.9 442.4,95.2 442.8,95.2 443.1,95.2 443.5,95.2 443.8,95.2 444.2,95.2 444.5,95.2 444.9,95.2 445.2,95.2 445.6,95.2 445.9,95.2 446.3,95.2 446.6,95.2 447.0,95.2 447.3,95.2 447.7,95.2 448.0,95.2 448.4,95.2 448.7,95.2 449.1,95.2 449.4,95.2 449.8,95.2 450.1,95.2 450.5,95.2 450.8,95.2 451.2,95.2 451.5,95.2 451.9,95.2 452.2,95.2 452.6,95.2 452.9,95.2 453.3,95.2 453.6,95.2 454.0,95.2 454.3,95.2 454.7,95.2 455.0,95.2 455.4,95.2 455.7,95.2 456.1,95.2 456.4,95.2 456.8,95.2 457.1,95.2 457.5,95.2 457.8,95.2 458.2,95.2 458.5,95.2 458.9,95.2 459.2,95.2 459.6,95.2 459.9,95.2 460.3,95.2 460.6,95.2 461.0,95.2 461.3,95.2 461.7,95.2 462.0,95.2 462.4,95.2 462.7,95.2 463.1,95.2 463.4,95.2 463.8,95.2 464.1,95.2 464.5,95.2 464.8,95.2 465.2,95.2 465.5,95.2 465.9,95.2 466.2,95.2 466.6,95.2 466.9,95.2 467.3,95.2 467.6,95.2 468.0,95.2 468.3,95.2 468.7,95.2 469.0,95.2 469.4,95.2 469.7,95.2 470.1,95.2 470.4,95.2 470.8,95.2 471.1,95.2 471.5,95.2 471.8,95.2 472.2,95.2 472.5,95.2 472.9,95.2 473.2,95.2 473.6,95.2 473.9,95.2 474.3,95.2 474.6,95.2 475.0,95.2 475.3,95.2 475.7,95.2 476.0,95.2 476.4,95.2 476.7,95.2 477.1,95.2 477.4,95.2 477.8,95.2 478.1,95.2 478.5,95.2 478.8,95.2 479.2,95.2 479.5,95.2 479.9,95.2 480.2,95.2 480.6,95.2 480.9,95.2 481.3,95.2 481.6,95.2 482.0,95.2 482.3,95.2 482.7,95.2 483.0,95.2 483.4,95.2 483.7,95.2 484.1,95.2 484.4,95.2 484.8,95.2 485.1,95.2 485.5,95.2 485.8,95.2 486.2,95.2 486.5,95.2 486.9,95.2 487.2,95.2 487.6,95.2 487.9,95.2 488.3,95.2 488.6,95.2 489.0,95.2 489.3,95.2 489.7,95.2 490.0,95.2 490.4,95.2 490.7,95.2 491.1,95.2 491.4,95.2 491.8,95.2 492.1,95.2 492.5,95.2 492.8,95.2 493.2,95.2 493.5,95.2 493.9,95.2 494.2,95.2 494.6,95.2 494.9,95.2 495.3,95.2 495.6,95.2 496.0,95.2 496.3,95.2 496.7,95.2 497.0,95.2 497.4,95.2 497.7,95.2 498.1,95.2 498.4,95.2 498.8,95.2 499.1,95.2 499.5,95.2 499.8,95.2 500.2,95.2 500.5,95.2 500.9,95.2 501.2,95.2 501.6,95.2 501.9,95.2 502.3,95.2 502.6,95.2 503.0,95.2" fill="none" stroke="#0000ff" stroke-width="1.15" stroke-linejoin="round" />
<polyline points="49.3,95.2 49.8,95.2 50.3,95.2 50.8,95.2 51.3,95.2 51.8,95.2 52.3,95.2 52.8,95.2 53.3,95.2 53.8,95.2 54.3,95.2 54.8,95.2 55.3,95.2 55.8,95.2 56.3,95.2 56.8,95.2 57.3,95.2 57.8,95.2 58.3,95.2 58.8,95.2 59.3,95.2 59.8,95.2 60.3,95.2 60.8,95.2 61.3,95.2 61.8,95.2 62.3,95.2 62.8,95.2 63.3,95.2 63.8,95.2 64.3,95.2 64.8,95.2 65.3,95.2 65.8,95.2 66.3,95.2 66.8,95.2 67.3,95.2 67.8,95.2 68.3,95.2 68.8,95.2 69.3,95.2 69.8,95.2 70.3,95.2 70.8,95.2 71.3,95.2 71.8,95.2 72.3,95.2 72.8,95.2 73.3,95.2 73.8,95.2 74.3,95.2 74.8,95.2 75.3,95.2 75.8,95.2 76.3,95.2 76.8,95.2 77.3,95.2 77.8,95.2 78.3,95.2 78.8,95.2 79.3,95.2 79.8,95.2 80.3,95.2 80.8,95.2 81.3,95.2 81.8,95.2 82.3,95.2 82.8,95.2 83.3,95.2 83.8,95.2 84.3,95.2 84.8,95.2 85.3,95.2 85.8,95.2 86.3,95.2 86.8,95.2 87.3,95.2 87.8,95.2 88.3,95.2 88.8,95.2 89.3,95.2 89.8,95.2 90.3,95.2 90.8,95.2 91.3,95.2 91.8,95.2 92.3,95.2 92.8,95.2 93.3,95.2 93.8,95.2 94.3,95.2 94.8,95.2 95.3,95.2 95.8,95.2 96.3,95.2 96.8,95.2 97.3,95.2 97.8,95.2 98.3,95.2 98.8,95.2 99.3,95.2 99.8,95.2 100.3,95.2 100.8,95.2 101.3,95.2 101.8,95.2 102.3,95.2 102.8,95.2 103.3,95.2 103.8,95.2 104.3,95.2 104.8,95.2 105.3,95.2 105.8,95.2 106.3,95.2 106.8,95.2 107.3,95.2 107.8,95.2 108.3,95.2 108.8,95.2 109.3,95.2 109.8,95.2 110.3,95.2 110.8,95.2 111.3,95.2 111.8,95.2 112.3,95.2 112.8,95.2 113.3,95.2 113.8,95.2 114.3,95.2 114.8,95.2 115.3,95.2 115.8,95.2 116.3,95.2 116.8,95.2 117.3,95.2 117.8,95.2 118.3,95.2 118.8,95.2 119.3,95.2 119.8,95.2 120.3,95.2 120.8,95.2 121.3,95.2 121.8,95.2 122.3,95.2 122.8,95.2 123.3,95.2 123.8,95.2 124.3,95.2 124.8,95.2 125.3,95.2 125.8,95.2 126.3,95.2 126.8,95.2 127.3,95.2 127.8,95.2 128.3,95.2 128.8,95.2 129.3,95.2 129.8,95.2 130.3,95.2 130.8,95.2 131.3,95.2 131.8,95.2 132.3,95.2 132.8,95.2 133.3,95.2 133.8,95.2 134.3,95.2 134.8,95.2 135.3,95.2 135.8,95.2 136.3,95.2 136.8,95.2 137.3,95.2 137.8,95.2 138.3,95.2 138.8,95.2 139.3,95.2 139.8,95.2 140.3,95.2 140.8,95.2 141.3,95.2 141.8,95.2 142.3,95.2 142.8,95.2 143.3,95.2 143.8,95.2 144.3,95.2 144.8,95.2 145.3,95.2 145.8,95.2 146.3,95.2 146.8,95.2 147.3,95.2 147.8,95.2 148.3,95.2 148.8,95.2 149.3,95.2 149.8,95.2 150.3,95.2 150.8,95.2 151.3,95.2 151.8,95.2 152.3,95.2 152.8,95.2 153.3,95.2 153.8,95.2 154.3,95.2 154.8,95.2 155.3,95.2 155.8,95.2 156.3,95.2 156.8,95.2 157.3,95.2 157.8,95.2 158.3,95.2 158.8,95.2 159.3,95.2 159.8,95.2 160.3,95.2 160.8,95.2 161.3,95.2 161.8,95.2 162.3,95.2 162.9,95.2 163.4,95.2 163.9,95.2 164.4,95.2 164.9,95.2 165.4,95.2 165.9,95.2 166.4,95.2 166.9,95.2 167.4,95.2 167.9,95.2 168.4,95.2 168.9,95.2 169.4,95.2 169.9,95.2 170.4,95.2 170.9,95.2 171.4,95.2 171.9,95.2 172.4,95.2 172.9,95.2 173.4,95.2 173.9,95.2 174.4,95.2 174.9,95.2 175.4,95.2 175.9,95.2 176.4,95.2 176.9,95.2 177.4,95.2 177.9,95.2 178.4,95.2 178.9,95.2 179.4,95.2 179.9,95.4 180.4,95.6 180.9,95.8 181.4,95.8 181.9,95.8 182.4,95.7 182.9,95.5 183.4,95.3 183.9,95.1 184.4,94.8 184.9,94.5 185.4,94.2 185.9,93.9 186.4,93.6 186.9,93.2 187.4,92.9 187.9,92.5 188.4,92.1 188.9,91.8 189.4,91.4 189.9,91.1 190.4,90.8 190.9,90.5 191.4,90.2 191.9,90.0 192.4,89.7 192.9,89.6 193.4,89.4 193.9,89.3 194.4,89.3 194.9,89.3 195.4,89.3 195.9,89.3 196.4,89.3 196.9,89.3 197.4,89.3 197.9,89.3 198.4,89.3 198.9,89.3 199.4,89.3 199.9,89.3 200.4,89.3 200.9,89.3 201.4,89.3 201.9,89.3 202.4,89.3 202.9,89.3 203.4,89.3 203.9,89.3 204.4,89.3 204.9,89.3 205.4,89.3 205.9,89.3 206.4,89.3 206.9,89.3 207.4,89.3 207.9,89.3 208.4,89.3 208.9,89.3 209.4,89.3 209.9,89.3 210.4,89.3 210.9,89.3 211.4,89.3 211.9,89.3 212.4,89.3 212.9,89.3 213.4,89.3 213.9,89.3 214.4,89.3 214.9,89.3 215.4,89.3 215.9,89.3 216.4,89.3 216.9,89.3 217.4,89.3 217.9,89.3 218.4,89.3 218.9,89.3 219.4,89.3 219.9,89.3 220.4,89.3 220.9,89.3 221.4,89.3 221.9,89.3 222.4,89.3 222.9,89.3 223.4,89.3 223.9,89.3 224.4,89.3 224.9,89.3 225.4,89.3 225.9,89.3 226.4,89.3 226.9,89.3 227.4,89.3 227.9,89.3 228.4,89.3 228.9,89.3 229.4,89.3 229.9,89.3 230.4,89.3 230.9,89.3 231.4,89.3 231.9,89.3 232.4,89.3 232.9,89.3 233.4,89.3 233.9,89.3 234.4,89.3 234.9,89.3 235.4,89.3 235.9,89.3 236.4,89.3 236.9,89.3 237.4,89.3 237.9,89.3 238.4,89.3 238.9,89.3 239.4,89.3 239.9,89.3 240.4,89.3 240.9,89.3 241.4,89.3 241.9,89.3 242.4,89.3 242.9,89.3 243.4,89.3 243.9,89.3 244.4,89.3 244.9,89.3 245.4,89.3 245.9,89.3 246.4,89.3 246.9,89.3 247.4,89.3 247.9,89.3 248.4,89.3 248.9,89.3 249.4,89.3 249.9,89.3 250.4,89.3 250.9,89.3 251.4,89.3 251.9,89.3 252.4,89.3 252.9,89.3 253.4,89.3 253.9,89.3 254.4,89.3 254.9,89.3 255.4,89.3 255.9,89.3 256.4,89.3 256.9,89.3 257.4,89.3 257.9,89.3 258.4,89.3 258.9,89.3 259.4,89.3 259.9,89.3 260.4,89.3 260.9,89.3 261.4,89.3 261.9,89.3 262.4,89.3 262.9,89.3 263.4,89.3 263.9,89.3 264.4,89.3 264.9,89.3 265.4,89.3 265.9,89.3 266.4,89.3 266.9,89.3 267.4,89.3 267.9,89.3 268.4,89.3 268.9,89.3 269.4,89.3 269.9,89.3 270.4,89.3 270.9,89.3 271.4,89.3 271.9,89.3 272.4,89.3 272.9,89.3 273.4,89.3 273.9,89.3 274.4,89.3 274.9,89.3 275.4,89.3 275.9,89.3 276.4,89.3 276.9,89.3 277.4,89.3 277.9,89.3 278.4,89.3 278.9,89.3 279.4,89.3 279.9,89.3 280.4,89.3 280.9,89.3 281.4,89.3 281.9,89.3 282.4,89.3 282.9,89.3 283.4,89.3 283.9,89.3 284.4,89.3 284.9,89.3 285.4,89.3 285.9,89.3 286.4,89.3 286.9,89.3 287.4,89.3 287.9,89.3 288.4,89.3 288.9,89.3 289.4,89.3 289.9,89.3 290.4,89.3 290.9,89.3 291.4,89.3 291.9,89.3 292.4,89.3 292.9,89.3 293.4,89.3 293.9,89.3 294.4,89.3 294.9,89.3 295.4,89.3 295.9,89.3 296.4,89.3 296.9,89.3 297.4,89.3 297.9,89.3 298.4,89.3 298.9,89.3 299.4,89.3 299.9,89.3 300.4,89.3 300.9,89.3 301.4,89.3 301.9,89.3 302.4,89.3 302.9,89.3 303.4,89.3 303.9,89.3 304.4,89.3 304.9,89.3 305.4,89.3 305.9,89.3 306.4,89.3 306.9,89.3 307.4,89.3 307.9,89.3 308.4,89.3 308.9,89.3 309.4,89.3 309.9,89.3 310.4,89.3 310.9,89.3 311.4,89.3 311.9,89.3 312.4,89.3 312.9,89.3 313.4,89.3 313.9,89.3 314.4,89.3 314.9,89.3 315.4,89.3 315.9,89.3 316.4,89.3 316.9,89.3 317.4,89.3 317.9,89.3 318.4,89.3 318.9,89.3 319.4,89.3 319.9,89.3 320.4,89.3 320.9,89.3 321.4,89.3 321.9,89.3 322.4,89.3 322.9,89.3 323.4,89.3 323.9,89.3 324.4,89.3 324.9,89.3 325.4,89.3 325.9,89.3 326.4,89.3 326.9,89.3 327.4,89.3 327.9,89.3 328.4,89.3 328.9,89.3 329.4,89.3 329.9,89.3 330.4,89.3 330.9,89.3 331.4,89.3 331.9,89.3 332.4,89.3 332.9,89.3 333.4,89.3 333.9,89.3 334.4,89.3 334.9,89.3 335.4,89.3 335.9,89.3 336.4,89.3 336.9,89.3 337.4,89.3 337.9,89.3 338.4,89.3 338.9,89.3 339.4,89.3 339.9,89.3 340.4,89.3 340.9,89.3 341.4,89.3 341.9,89.3 342.4,89.3 342.9,89.3 343.4,89.3 343.9,89.3 344.4,89.3 344.9,89.3 345.4,89.3 345.9,89.3 346.4,89.3 346.9,89.3 347.4,89.3 347.9,89.3 348.4,89.3 348.9,89.3 349.4,89.3 349.9,89.3 350.4,89.3 350.9,89.3 351.4,89.3 351.9,89.3 352.4,89.3 352.9,89.3 353.4,89.3 353.9,89.3 354.4,89.3 354.9,89.3 355.4,89.3 355.9,89.3 356.4,89.3 356.9,89.3 357.4,89.3 357.9,89.3 358.4,89.3 358.9,89.3 359.4,89.3 359.9,89.3 360.4,89.3 360.9,89.3 361.4,89.3 361.9,89.3 362.4,89.3 362.9,89.3 363.4,89.3 363.9,89.3 364.4,89.3 364.9,89.3 365.4,89.3 365.9,89.3 366.4,89.3 366.9,89.3 367.4,89.3 367.9,89.3 368.4,89.3 368.9,89.3 369.4,89.3 369.9,89.3 370.4,89.3 370.9,89.3 371.4,89.3 371.9,89.3 372.4,89.3 372.9,89.3 373.4,89.3 373.9,89.3 374.4,89.3 374.9,89.3 375.4,89.3 375.9,89.3 376.4,89.3 376.9,89.3 377.4,89.3 377.9,89.3 378.4,89.3 378.9,89.3 379.4,89.3 379.9,89.3 380.4,89.3 380.9,89.3 381.4,89.3 381.9,89.3 382.4,89.3 382.9,89.3 383.4,89.3 383.9,89.3 384.4,89.3 384.9,89.3 385.4,89.3 385.9,89.3 386.4,89.3 386.9,89.3 387.4,89.3 387.9,89.3 388.4,89.3 388.9,89.3 389.4,89.3 390.0,89.3 390.5,89.3 391.0,89.3 391.5,89.3 392.0,89.3 392.5,89.3 393.0,89.3 393.5,89.3 394.0,89.3 394.5,89.3 395.0,89.3 395.5,89.3 396.0,89.3 396.5,89.3 397.0,89.3 397.5,89.3 398.0,89.3 398.5,89.3 399.0,89.3 399.5,89.3 400.0,89.3 400.5,89.3 401.0,89.3 401.5,89.3 402.0,89.3 402.5,89.3 403.0,89.3 403.5,89.3 404.0,89.3 404.5,89.3 405.0,89.3 405.5,89.3 406.0,89.3 406.5,89.3 407.0,89.3 407.5,89.3 408.0,89.3 408.5,89.3 409.0,89.3 409.5,89.3 410.0,89.3 410.5,89.3 411.0,89.3 411.5,89.3 412.0,89.3 412.5,89.3 413.0,89.3 413.5,89.3 414.0,89.3 414.5,89.3 415.0,89.3 415.5,89.3 416.0,89.3 416.5,89.3 417.0,89.3 417.5,89.3 418.0,89.3 418.5,89.3 419.0,89.3 419.5,89.3 420.0,89.3 420.5,89.3 421.0,89.3 421.5,89.3 422.0,89.3 422.5,89.3 423.0,89.3 423.5,89.3 424.0,89.3 424.5,89.3 425.0,89.3 425.5,89.3 426.0,89.3 426.5,89.3 427.0,89.3 427.5,89.3 428.0,89.3 428.5,89.3 429.0,89.3 429.5,89.3 430.0,89.3 430.5,89.3 431.0,89.3 431.5,89.3 432.0,89.3 432.5,89.3 433.0,89.3 433.5,89.3 434.0,89.3 434.5,89.3 435.0,89.3 435.5,89.3 436.0,89.3 436.5,89.3 437.0,89.3 437.5,89.3 438.0,89.3 438.5,89.3 439.0,89.3 439.5,89.3 440.0,89.3 440.5,89.3 441.0,89.3 441.5,89.5 442.0,89.7 442.5,89.9 443.0,90.1 443.5,90.2 444.0,90.4 444.5,90.6 445.0,90.8 445.5,91.0 446.0,91.2 446.5,91.4 447.0,91.6 447.5,91.8 448.0,92.0 448.5,92.2 449.0,92.4 449.5,92.6 450.0,92.7 450.5,92.9 451.0,93.1 451.5,93.3 452.0,93.5 452.5,93.7 453.0,93.9 453.5,94.1 454.0,94.3 454.5,94.5 455.0,94.7 455.5,94.9 456.0,95.1 456.5,95.2 457.0,95.2 457.5,95.2 458.0,95.2 458.5,95.2 459.0,95.2 459.5,95.2 460.0,95.2 460.5,95.2 461.0,95.2 461.5,95.2 462.0,95.2 462.5,95.2 463.0,95.2 463.5,95.2 464.0,95.2 464.5,95.2 465.0,95.2 465.5,95.2 466.0,95.2 466.5,95.2 467.0,95.2 467.5,95.2 468.0,95.2 468.5,95.2 469.0,95.2 469.5,95.2 470.0,95.2 470.5,95.2 471.0,95.2 471.5,95.2 472.0,95.2 472.5,95.2 473.0,95.2 473.5,95.2 474.0,95.2 474.5,95.2 475.0,95.2 475.5,95.2 476.0,95.2 476.5,95.2 477.0,95.2 477.5,95.2 478.0,95.2 478.5,95.2 479.0,95.2 479.5,95.2 480.0,95.2 480.5,95.2 481.0,95.2 481.5,95.2 482.0,95.2 482.5,95.2 483.0,95.2 483.5,95.2 484.0,95.2 484.5,95.2 485.0,95.2 485.5,95.2 486.0,95.2 486.5,95.2 487.0,95.2 487.5,95.2 488.0,95.2 488.5,95.2 489.0,95.2 489.5,95.2 490.0,95.2 490.5,95.2 491.0,95.2 491.5,95.2 492.0,95.2 492.5,95.2 493.0,95.2 493.5,95.2 494.0,95.2 494.5,95.2 495.0,95.2 495.5,95.2 496.0,95.2 496.5,95.2 497.0,95.2 497.5,95.2 498.0,95.2 498.5,95.2 499.0,95.2 499.5,95.2 500.0,95.2 500.5,95.2 501.0,95.2 501.5,95.2 502.0,95.2 502.5,95.2 503.0,95.2" fill="none" stroke="#000" stroke-width="1.3" stroke-linejoin="round" />
<line x1="49.3" y1="95.25" x2="179.5" y2="95.25" stroke="#000068" stroke-width="1.5"/>
<line x1="443.0" y1="96.25" x2="456.5" y2="96.25" stroke="#00c000" stroke-width="1"/>
<line x1="443.0" y1="95.25" x2="456.5" y2="95.25" stroke="#0000e0" stroke-width="1.2"/>
<line x1="456.0" y1="95.25" x2="503.0" y2="95.25" stroke="#000060" stroke-width="1.5"/>
<polyline points="49.3,183.6 49.7,183.4 50.0,183.2 50.4,183.0 50.7,182.8 51.1,182.5 51.4,182.3 51.8,182.2 52.1,182.1 52.5,182.0 52.8,181.9 53.2,181.9 53.5,181.9 53.9,182.0 54.2,182.2 54.6,182.3 54.9,182.5 55.3,182.7 55.6,182.9 56.0,183.1 56.3,183.4 56.7,183.6 57.0,183.7 57.4,183.9 57.7,184.0 58.1,184.1 58.4,184.1 58.8,184.1 59.1,184.0 59.5,183.9 59.8,183.8 60.2,183.6 60.5,183.4 60.9,183.2 61.2,183.0 61.6,182.7 61.9,182.5 62.3,182.3 62.6,182.2 63.0,182.0 63.3,182.0 63.7,181.9 64.0,181.9 64.4,181.9 64.7,182.0 65.1,182.2 65.4,182.3 65.8,182.5 66.1,182.7 66.5,182.9 66.8,183.2 67.2,183.4 67.5,183.6 67.9,183.8 68.2,183.9 68.6,184.0 68.9,184.1 69.3,184.1 69.6,184.1 70.0,184.0 70.3,183.9 70.7,183.8 71.0,183.6 71.4,183.4 71.7,183.2 72.1,182.9 72.4,182.7 72.8,182.5 73.1,182.3 73.5,182.2 73.8,182.0 74.2,181.9 74.5,181.9 74.9,181.9 75.2,182.0 75.6,182.0 75.9,182.2 76.3,182.3 76.6,182.5 77.0,182.7 77.3,183.0 77.7,183.2 78.0,183.4 78.4,183.6 78.7,183.8 79.1,183.9 79.4,184.0 79.8,184.1 80.1,184.1 80.5,184.1 80.8,184.0 81.2,183.9 81.5,183.7 81.9,183.6 82.2,183.4 82.6,183.1 82.9,182.9 83.3,182.7 83.6,182.5 84.0,182.3 84.3,182.2 84.7,182.0 85.0,181.9 85.4,181.9 85.7,181.9 86.1,182.0 86.4,182.1 86.8,182.2 87.1,182.3 87.5,182.5 87.8,182.8 88.2,183.0 88.5,183.2 88.9,183.4 89.2,183.6 89.6,183.8 89.9,183.9 90.3,184.0 90.6,184.1 91.0,184.1 91.3,184.1 91.7,184.0 92.0,183.9 92.4,183.7 92.7,183.6 93.1,183.3 93.4,183.1 93.8,182.9 94.1,182.7 94.5,182.5 94.8,182.3 95.2,182.1 95.5,182.0 95.9,181.9 96.2,181.9 96.6,181.9 96.9,182.0 97.3,182.1 97.6,182.2 98.0,182.4 98.3,182.6 98.7,182.8 99.0,183.0 99.4,183.2 99.7,183.4 100.1,183.6 100.4,183.8 100.8,183.9 101.1,184.0 101.5,184.1 101.8,184.1 102.2,184.1 102.5,184.0 102.9,183.9 103.2,183.7 103.6,183.5 103.9,183.3 104.3,183.1 104.6,182.9 105.0,182.7 105.3,182.5 105.7,182.3 106.0,182.1 106.4,182.0 106.7,181.9 107.1,181.9 107.4,181.9 107.8,182.0 108.1,182.1 108.5,182.2 108.8,182.4 109.2,182.6 109.5,182.8 109.9,183.0 110.2,183.2 110.6,183.4 110.9,183.6 111.3,183.8 111.6,183.9 112.0,184.0 112.3,184.1 112.7,184.1 113.0,184.1 113.4,184.0 113.7,183.9 114.1,183.7 114.4,183.5 114.8,183.3 115.1,183.1 115.5,182.9 115.8,182.7 116.2,182.5 116.5,182.3 116.9,182.1 117.2,182.0 117.6,181.9 117.9,181.9 118.3,181.9 118.6,182.0 119.0,182.1 119.3,182.2 119.7,182.4 120.0,182.6 120.4,182.8 120.7,183.0 121.1,183.2 121.4,183.5 121.8,183.6 122.1,183.8 122.5,183.9 122.8,184.0 123.2,184.1 123.5,184.1 123.9,184.1 124.2,184.0 124.6,183.9 124.9,183.7 125.3,183.5 125.6,183.3 126.0,183.1 126.3,182.9 126.7,182.6 127.0,182.4 127.4,182.3 127.7,182.1 128.1,182.0 128.4,181.9 128.8,181.9 129.1,181.9 129.5,182.0 129.8,182.1 130.2,182.2 130.5,182.4 130.9,182.6 131.2,182.8 131.6,183.0 131.9,183.3 132.3,183.5 132.6,183.7 133.0,183.8 133.3,184.0 133.7,184.0 134.0,184.1 134.4,184.1 134.7,184.1 135.1,184.0 135.4,183.8 135.8,183.7 136.1,183.5 136.5,183.3 136.8,183.1 137.2,182.8 137.5,182.6 137.9,182.4 138.2,182.2 138.6,182.1 138.9,182.0 139.3,181.9 139.6,181.9 140.0,181.9 140.3,182.0 140.7,182.1 141.0,182.2 141.4,182.4 141.7,182.6 142.1,182.8 142.4,183.1 142.8,183.3 143.1,183.5 143.5,183.7 143.8,183.8 144.2,184.0 144.5,184.1 144.9,184.1 145.2,184.1 145.6,184.0 145.9,184.0 146.3,183.8 146.6,183.7 147.0,183.5 147.3,183.3 147.7,183.0 148.0,182.8 148.4,182.6 148.7,182.4 149.1,182.2 149.4,182.1 149.8,182.0 150.1,181.9 150.5,181.9 150.8,181.9 151.2,182.0 151.5,182.1 151.9,182.3 152.2,182.4 152.6,182.6 152.9,182.9 153.3,183.1 153.6,183.3 154.0,183.5 154.3,183.7 154.7,183.8 155.0,184.0 155.4,184.1 155.7,184.1 156.1,184.1 156.4,184.0 156.8,184.0 157.1,183.8 157.5,183.7 157.8,183.5 158.2,183.3 158.5,183.0 158.9,182.8 159.2,182.6 159.6,182.4 159.9,182.2 160.3,182.1 160.6,182.0 161.0,181.9 161.3,181.9 161.7,181.9 162.0,182.0 162.4,182.1 162.7,182.3 163.1,182.4 163.4,182.6 163.8,182.9 164.1,183.1 164.5,183.3 164.8,183.5 165.2,183.7 165.5,183.9 165.9,184.0 166.2,184.1 166.6,184.1 166.9,184.1 167.3,184.0 167.6,183.9 168.0,183.8 168.3,183.6 168.7,183.4 169.0,183.2 169.4,183.0 169.7,182.8 170.1,182.6 170.4,182.4 170.8,182.2 171.1,182.1 171.5,182.0 171.8,181.9 172.2,181.9 172.5,181.9 172.9,182.0 173.2,182.1 173.6,182.3 173.9,182.5 174.3,182.7 174.6,182.9 175.0,183.1 175.3,183.3 175.7,183.5 176.0,183.7 176.4,183.9 176.7,184.0 177.1,184.1 177.4,184.1 177.8,184.1 178.1,184.0 178.5,183.9 178.8,183.8 179.2,183.6 179.5,183.3 179.9,181.1 180.2,176.9 180.6,170.7 180.9,165.9 181.3,162.8 181.6,160.2 182.0,158.2 182.3,156.9 182.7,156.3 183.0,156.5 183.4,157.5 183.7,159.3 184.1,161.7 184.4,164.7 184.8,168.2 185.1,172.0 185.5,176.1 185.8,180.1 186.2,184.1 186.5,187.7 186.9,191.0 187.2,193.7 187.6,195.8 187.9,197.2 188.3,197.9 188.6,197.7 189.0,196.8 189.3,195.3 189.7,193.0 190.0,190.3 190.4,187.1 190.7,183.7 191.1,180.1 191.4,176.5 191.8,173.1 192.1,170.1 192.5,167.4 192.8,165.4 193.2,163.9 193.5,163.2 193.9,163.2 194.2,163.9 194.6,165.4 194.9,167.5 195.3,170.1 195.6,173.2 196.0,176.7 196.3,180.3 196.7,184.0 197.0,187.6 197.4,190.9 197.7,193.8 198.1,196.3 198.4,198.1 198.8,199.3 199.1,199.8 199.5,199.5 199.8,198.5 200.2,196.9 200.5,194.6 200.9,191.9 201.2,188.7 201.6,185.3 201.9,181.7 202.3,178.2 202.6,174.9 203.0,171.9 203.3,169.3 203.7,167.2 204.0,165.8 204.4,165.1 204.7,165.1 205.1,165.8 205.4,167.1 205.8,169.2 206.1,171.7 206.5,174.7 206.8,178.1 207.2,181.6 207.5,185.2 207.9,188.6 208.2,191.8 208.6,194.6 208.9,197.0 209.3,198.7 209.6,199.8 210.0,200.2 210.3,199.9 210.7,198.8 211.0,197.1 211.4,194.8 211.7,192.1 212.1,188.9 212.4,185.5 212.8,182.0 213.1,178.5 213.5,175.2 213.8,172.2 214.2,169.7 214.5,167.7 214.9,166.3 215.2,165.6 215.6,165.6 215.9,166.3 216.3,167.7 216.6,169.8 217.0,172.3 217.3,175.3 217.7,178.6 218.0,182.1 218.4,185.6 218.7,189.1 219.1,192.2 219.4,195.0 219.8,197.2 220.1,198.9 220.5,200.0 220.8,200.3 221.2,199.9 221.5,198.8 221.9,197.1 222.2,194.8 222.6,191.9 222.9,188.8 223.3,185.4 223.6,181.8 224.0,178.4 224.3,175.1 224.7,172.2 225.0,169.6 225.4,167.7 225.7,166.3 226.1,165.7 226.4,165.8 226.8,166.5 227.1,168.0 227.5,170.0 227.8,172.6 228.2,175.7 228.5,179.0 228.9,182.5 229.2,186.0 229.6,189.3 229.9,192.5 230.3,195.2 230.6,197.4 231.0,199.1 231.3,200.0 231.7,200.3 232.0,199.9 232.4,198.7 232.7,196.9 233.1,194.6 233.4,191.7 233.8,188.6 234.1,185.1 234.5,181.6 234.8,178.2 235.2,174.9 235.5,172.0 235.9,169.5 236.2,167.6 236.6,166.3 236.9,165.7 237.3,165.8 237.6,166.7 238.0,168.1 238.3,170.2 238.7,172.9 239.0,175.9 239.4,179.3 239.7,182.7 240.1,186.2 240.4,189.6 240.8,192.7 241.1,195.4 241.5,197.6 241.8,199.2 242.2,200.1 242.5,200.3 242.9,199.8 243.2,198.6 243.6,196.8 243.9,194.4 244.3,191.5 244.6,188.3 245.0,184.9 245.3,181.4 245.7,177.9 246.0,174.7 246.4,171.8 246.7,169.4 247.1,167.5 247.4,166.3 247.8,165.7 248.1,165.9 248.5,166.8 248.8,168.3 249.2,170.4 249.5,173.1 249.9,176.2 250.2,179.5 250.6,183.0 250.9,186.5 251.3,189.8 251.6,192.9 252.0,195.6 252.3,197.7 252.7,199.2 253.0,200.1 253.4,200.3 253.7,199.7 254.1,198.5 254.4,196.6 254.8,194.2 255.1,191.3 255.5,188.1 255.8,184.6 256.2,181.1 256.5,177.7 256.9,174.5 257.2,171.6 257.6,169.2 257.9,167.4 258.3,166.2 258.6,165.7 259.0,165.9 259.3,166.9 259.7,168.4 260.0,170.6 260.4,173.3 260.7,176.4 261.1,179.8 261.4,183.3 261.8,186.8 262.1,190.1 262.5,193.1 262.8,195.7 263.2,197.8 263.5,199.3 263.9,200.1 264.2,200.3 264.6,199.7 264.9,198.4 265.3,196.5 265.6,194.0 266.0,191.1 266.3,187.8 266.7,184.4 267.0,180.8 267.4,177.4 267.7,174.2 268.1,171.4 268.4,169.1 268.8,167.3 269.1,166.1 269.5,165.7 269.8,166.0 270.2,167.0 270.5,168.6 270.9,170.8 271.2,173.5 271.6,176.7 271.9,180.0 272.3,183.5 272.6,187.0 273.0,190.3 273.3,193.3 273.7,195.9 274.0,198.0 274.4,199.4 274.7,200.2 275.1,200.2 275.4,199.6 275.8,198.3 276.1,196.3 276.5,193.8 276.9,190.8 277.2,187.6 277.6,184.1 277.9,180.6 278.3,177.2 278.6,174.0 279.0,171.2 279.3,168.9 279.7,167.2 280.0,166.1 280.4,165.7 280.7,166.0 281.1,167.1 281.4,168.7 281.8,171.0 282.1,173.8 282.5,176.9 282.8,180.3 283.2,183.8 283.5,187.3 283.9,190.6 284.2,193.5 284.6,196.1 284.9,198.1 285.3,199.5 285.6,200.2 286.0,200.2 286.3,199.5 286.7,198.1 287.0,196.1 287.4,193.6 287.7,190.6 288.1,187.3 288.4,183.8 288.8,180.3 289.1,176.9 289.5,173.8 289.8,171.0 290.2,168.8 290.5,167.1 290.9,166.0 291.2,165.7 291.6,166.1 291.9,167.2 292.3,168.9 292.6,171.2 293.0,174.0 293.3,177.1 293.7,180.6 294.0,184.1 294.4,187.5 294.7,190.8 295.1,193.8 295.4,196.3 295.8,198.2 296.1,199.6 296.5,200.2 296.8,200.2 297.2,199.4 297.5,198.0 297.9,195.9 298.2,193.4 298.6,190.4 298.9,187.0 299.3,183.6 299.6,180.1 300.0,176.7 300.3,173.6 300.7,170.8 301.0,168.6 301.4,167.0 301.7,166.0 302.1,165.7 302.4,166.1 302.8,167.3 303.1,169.0 303.5,171.4 303.8,174.2 304.2,177.4 304.5,180.8 304.9,184.3 305.2,187.8 305.6,191.0 305.9,194.0 306.3,196.4 306.6,198.4 307.0,199.6 307.3,200.3 307.7,200.2 308.0,199.3 308.4,197.9 308.7,195.8 309.1,193.2 309.4,190.1 309.8,186.8 310.1,183.3 310.5,179.8 310.8,176.4 311.2,173.3 311.5,170.6 311.9,168.5 312.2,166.9 312.6,165.9 312.9,165.7 313.3,166.2 313.6,167.4 314.0,169.2 314.3,171.6 314.7,174.4 315.0,177.6 315.4,181.1 315.7,184.6 316.1,188.0 316.4,191.3 316.8,194.2 317.1,196.6 317.5,198.5 317.8,199.7 318.2,200.3 318.5,200.1 318.9,199.3 319.2,197.7 319.6,195.6 319.9,192.9 320.3,189.9 320.6,186.5 321.0,183.0 321.3,179.5 321.7,176.2 322.0,173.1 322.4,170.5 322.7,168.3 323.1,166.8 323.4,165.9 323.8,165.7 324.1,166.3 324.5,167.5 324.8,169.4 325.2,171.8 325.5,174.7 325.9,177.9 326.2,181.3 326.6,184.8 326.9,188.3 327.3,191.5 327.6,194.4 328.0,196.8 328.3,198.6 328.7,199.8 329.0,200.3 329.4,200.1 329.7,199.2 330.1,197.6 330.4,195.4 330.8,192.7 331.1,189.6 331.5,186.3 331.8,182.8 332.2,179.3 332.5,176.0 332.9,172.9 333.2,170.3 333.6,168.2 333.9,166.7 334.3,165.9 334.6,165.7 335.0,166.3 335.3,167.6 335.7,169.5 336.0,172.0 336.4,174.9 336.7,178.1 337.1,181.6 337.4,185.1 337.8,188.5 338.1,191.7 338.5,194.6 338.8,196.9 339.2,198.7 339.5,199.8 339.9,200.3 340.2,200.0 340.6,199.1 340.9,197.4 341.3,195.2 341.6,192.5 342.0,189.4 342.3,186.0 342.7,182.5 343.0,179.0 343.4,175.7 343.7,172.7 344.1,170.1 344.4,168.0 344.8,166.6 345.1,165.8 345.5,165.8 345.8,166.4 346.2,167.7 346.5,169.7 346.9,172.2 347.2,175.1 347.6,178.4 347.9,181.9 348.3,185.4 348.6,188.8 349.0,191.9 349.3,194.8 349.7,197.1 350.0,198.8 350.4,199.9 350.7,200.3 351.1,200.0 351.4,199.0 351.8,197.3 352.1,195.0 352.5,192.3 352.8,189.1 353.2,185.8 353.5,182.3 353.9,178.8 354.2,175.5 354.6,172.5 354.9,169.9 355.3,167.9 355.6,166.5 356.0,165.8 356.3,165.8 356.7,166.5 357.0,167.9 357.4,169.9 357.7,172.4 358.1,175.4 358.4,178.7 358.8,182.1 359.1,185.6 359.5,189.0 359.8,192.2 360.2,194.9 360.5,197.2 360.9,198.9 361.2,200.0 361.6,200.3 361.9,199.9 362.3,198.9 362.6,197.1 363.0,194.8 363.3,192.1 363.7,188.9 364.0,185.5 364.4,182.0 364.7,178.5 365.1,175.2 365.4,172.3 365.8,169.8 366.1,167.8 366.5,166.4 366.8,165.8 367.2,165.8 367.5,166.6 367.9,168.0 368.2,170.0 368.6,172.6 368.9,175.6 369.3,178.9 369.6,182.4 370.0,185.9 370.3,189.3 370.7,192.4 371.0,195.1 371.4,197.4 371.7,199.0 372.1,200.0 372.4,200.3 372.8,199.9 373.1,198.8 373.5,197.0 373.8,194.7 374.2,191.8 374.5,188.6 374.9,185.2 375.2,181.7 375.6,178.3 375.9,175.0 376.3,172.1 376.6,169.6 377.0,167.7 377.3,166.4 377.7,165.7 378.0,165.8 378.4,166.6 378.7,168.1 379.1,170.2 379.4,172.8 379.8,175.8 380.1,179.2 380.5,182.6 380.8,186.1 381.2,189.5 381.5,192.6 381.9,195.3 382.2,197.5 382.6,199.1 382.9,200.1 383.3,200.3 383.6,199.8 384.0,198.6 384.3,196.8 384.7,194.5 385.0,191.6 385.4,188.4 385.7,185.0 386.1,181.5 386.4,178.0 386.8,174.8 387.1,171.9 387.5,169.4 387.8,167.5 388.2,166.3 388.5,165.7 388.9,165.9 389.2,166.7 389.6,168.2 389.9,170.4 390.3,173.0 390.6,176.1 391.0,179.4 391.3,182.9 391.7,186.4 392.0,189.8 392.4,192.8 392.7,195.5 393.1,197.7 393.4,199.2 393.8,200.1 394.1,200.3 394.5,199.8 394.8,198.5 395.2,196.7 395.5,194.3 395.9,191.4 396.2,188.1 396.6,184.7 396.9,181.2 397.3,177.8 397.6,174.5 398.0,171.7 398.3,169.3 398.7,167.4 399.0,166.2 399.4,165.7 399.7,165.9 400.1,166.8 400.4,168.4 400.8,170.6 401.1,173.2 401.5,176.3 401.8,179.7 402.2,183.2 402.5,186.7 402.9,190.0 403.2,193.0 403.6,195.7 403.9,197.8 404.3,199.3 404.6,200.1 405.0,200.3 405.3,199.7 405.7,198.4 406.0,196.5 406.4,194.1 406.7,191.1 407.1,187.9 407.4,184.4 407.8,180.9 408.1,177.5 408.5,174.3 408.8,171.5 409.2,169.1 409.5,167.3 409.9,166.2 410.2,165.7 410.6,166.0 410.9,166.9 411.3,168.5 411.6,170.7 412.0,173.5 412.3,176.6 412.7,179.9 413.0,183.4 413.4,186.9 413.7,190.2 414.1,193.3 414.4,195.9 414.8,197.9 415.1,199.4 415.5,200.2 415.8,200.2 416.2,199.6 416.5,198.3 416.9,196.3 417.2,193.9 417.6,190.9 417.9,187.6 418.3,184.2 418.6,180.7 419.0,177.3 419.3,174.1 419.7,171.3 420.0,169.0 420.4,167.2 420.7,166.1 421.1,165.7 421.4,166.0 421.8,167.0 422.1,168.7 422.5,170.9 422.8,173.7 423.2,176.8 423.5,180.2 423.9,183.7 424.2,187.2 424.6,190.5 424.9,193.5 425.3,196.0 425.6,198.1 426.0,199.5 426.3,200.2 426.7,200.2 427.0,199.5 427.4,198.2 427.7,196.2 428.1,193.6 428.4,190.7 428.8,187.4 429.1,183.9 429.5,180.4 429.8,177.0 430.2,173.9 430.5,171.1 430.9,168.8 431.2,167.1 431.6,166.1 431.9,165.7 432.3,166.1 432.6,167.1 433.0,168.8 433.3,171.1 433.7,173.9 434.0,177.1 434.4,180.5 434.7,184.0 435.1,187.4 435.4,190.7 435.8,193.7 436.1,196.2 436.5,198.2 436.8,199.5 437.2,200.2 437.5,200.2 437.9,199.5 438.2,198.0 438.6,196.0 438.9,193.4 439.3,190.4 439.6,187.1 440.0,183.7 440.3,180.2 440.7,176.8 441.0,173.6 441.4,170.9 441.7,169.9 442.1,168.7 442.4,168.1 442.8,168.1 443.1,168.7 443.5,170.0 443.8,171.7 444.2,174.0 444.5,176.6 444.9,179.4 445.2,182.5 445.6,183.0 445.9,183.0 446.3,183.0 446.6,183.0 447.0,183.0 447.3,183.0 447.7,183.0 448.0,183.0 448.4,183.0 448.7,183.0 449.1,183.0 449.4,183.0 449.8,183.0 450.1,183.0 450.5,183.0 450.8,183.0 451.2,183.0 451.5,183.0 451.9,183.0 452.2,183.0 452.6,183.0 452.9,183.0 453.3,183.0 453.6,183.0 454.0,183.0 454.3,183.0 454.7,183.0 455.0,183.0 455.4,183.0 455.7,183.0 456.1,183.0 456.4,183.0 456.8,183.0 457.1,183.0 457.5,183.0 457.8,183.0 458.2,183.0 458.5,183.0 458.9,183.0 459.2,183.0 459.6,183.0 459.9,183.0 460.3,183.0 460.6,183.0 461.0,183.0 461.3,183.0 461.7,183.0 462.0,183.0 462.4,183.0 462.7,183.0 463.1,183.0 463.4,183.0 463.8,183.0 464.1,183.0 464.5,183.0 464.8,183.0 465.2,183.0 465.5,183.0 465.9,183.0 466.2,183.0 466.6,183.0 466.9,183.0 467.3,183.0 467.6,183.0 468.0,183.0 468.3,183.0 468.7,183.0 469.0,183.0 469.4,183.0 469.7,183.0 470.1,183.0 470.4,183.0 470.8,183.0 471.1,183.0 471.5,183.0 471.8,183.0 472.2,183.0 472.5,183.0 472.9,183.0 473.2,183.0 473.6,183.0 473.9,183.0 474.3,183.0 474.6,183.0 475.0,183.0 475.3,183.0 475.7,183.0 476.0,183.0 476.4,183.0 476.7,183.0 477.1,183.0 477.4,183.0 477.8,183.0 478.1,183.0 478.5,183.0 478.8,183.0 479.2,183.0 479.5,183.0 479.9,183.0 480.2,183.0 480.6,183.0 480.9,183.0 481.3,183.0 481.6,183.0 482.0,183.0 482.3,183.0 482.7,183.0 483.0,183.0 483.4,183.0 483.7,183.0 484.1,183.0 484.4,183.0 484.8,183.0 485.1,183.0 485.5,183.0 485.8,183.0 486.2,183.0 486.5,183.0 486.9,183.0 487.2,183.0 487.6,183.0 487.9,183.0 488.3,183.0 488.6,183.0 489.0,183.0 489.3,183.0 489.7,183.0 490.0,183.0 490.4,183.0 490.7,183.0 491.1,183.0 491.4,183.0 491.8,183.0 492.1,183.0 492.5,183.0 492.8,183.0 493.2,183.0 493.5,183.0 493.9,183.0 494.2,183.0 494.6,183.0 494.9,183.0 495.3,183.0 495.6,183.0 496.0,183.0 496.3,183.0 496.7,183.0 497.0,183.0 497.4,183.0 497.7,183.0 498.1,183.0 498.4,183.0 498.8,183.0 499.1,183.0 499.5,183.0 499.8,183.0 500.2,183.0 500.5,183.0 500.9,183.0 501.2,183.0 501.6,183.0 501.9,183.0 502.3,183.0 502.6,183.0 503.0,183.0" fill="none" stroke="#ff0000" stroke-width="1.15" stroke-linejoin="round" />
<polyline points="49.3,183.5 49.7,183.7 50.0,183.8 50.4,184.0 50.7,184.1 51.1,184.1 51.4,184.1 51.8,184.0 52.1,184.0 52.5,183.8 52.8,183.7 53.2,183.5 53.5,183.3 53.9,183.0 54.2,182.8 54.6,182.6 54.9,182.4 55.3,182.2 55.6,182.1 56.0,182.0 56.3,181.9 56.7,181.9 57.0,181.9 57.4,182.0 57.7,182.1 58.1,182.3 58.4,182.4 58.8,182.6 59.1,182.9 59.5,183.1 59.8,183.3 60.2,183.5 60.5,183.7 60.9,183.8 61.2,184.0 61.6,184.1 61.9,184.1 62.3,184.1 62.6,184.0 63.0,183.9 63.3,183.8 63.7,183.7 64.0,183.5 64.4,183.2 64.7,183.0 65.1,182.8 65.4,182.6 65.8,182.4 66.1,182.2 66.5,182.1 66.8,182.0 67.2,181.9 67.5,181.9 67.9,181.9 68.2,182.0 68.6,182.1 68.9,182.3 69.3,182.4 69.6,182.7 70.0,182.9 70.3,183.1 70.7,183.3 71.0,183.5 71.4,183.7 71.7,183.9 72.1,184.0 72.4,184.1 72.8,184.1 73.1,184.1 73.5,184.0 73.8,183.9 74.2,183.8 74.5,183.6 74.9,183.4 75.2,183.2 75.6,183.0 75.9,182.8 76.3,182.6 76.6,182.4 77.0,182.2 77.3,182.1 77.7,182.0 78.0,181.9 78.4,181.9 78.7,181.9 79.1,182.0 79.4,182.1 79.8,182.3 80.1,182.5 80.5,182.7 80.8,182.9 81.2,183.1 81.5,183.3 81.9,183.5 82.2,183.7 82.6,183.9 82.9,184.0 83.3,184.1 83.6,184.1 84.0,184.1 84.3,184.0 84.7,183.9 85.0,183.8 85.4,183.6 85.7,183.4 86.1,183.2 86.4,183.0 86.8,182.8 87.1,182.6 87.5,182.4 87.8,182.2 88.2,182.1 88.5,182.0 88.9,181.9 89.2,181.9 89.6,181.9 89.9,182.0 90.3,182.1 90.6,182.3 91.0,182.5 91.3,182.7 91.7,182.9 92.0,183.1 92.4,183.3 92.7,183.5 93.1,183.7 93.4,183.9 93.8,184.0 94.1,184.1 94.5,184.1 94.8,184.1 95.2,184.0 95.5,183.9 95.9,183.8 96.2,183.6 96.6,183.4 96.9,183.2 97.3,183.0 97.6,182.8 98.0,182.5 98.3,182.4 98.7,182.2 99.0,182.1 99.4,182.0 99.7,181.9 100.1,181.9 100.4,181.9 100.8,182.0 101.1,182.1 101.5,182.3 101.8,182.5 102.2,182.7 102.5,182.9 102.9,183.1 103.2,183.4 103.6,183.6 103.9,183.7 104.3,183.9 104.6,184.0 105.0,184.1 105.3,184.1 105.7,184.1 106.0,184.0 106.4,183.9 106.7,183.8 107.1,183.6 107.4,183.4 107.8,183.2 108.1,183.0 108.5,182.7 108.8,182.5 109.2,182.3 109.5,182.2 109.9,182.0 110.2,182.0 110.6,181.9 110.9,181.9 111.3,181.9 111.6,182.0 112.0,182.2 112.3,182.3 112.7,182.5 113.0,182.7 113.4,182.9 113.7,183.2 114.1,183.4 114.4,183.6 114.8,183.8 115.1,183.9 115.5,184.0 115.8,184.1 116.2,184.1 116.5,184.1 116.9,184.0 117.2,183.9 117.6,183.8 117.9,183.6 118.3,183.4 118.6,183.2 119.0,182.9 119.3,182.7 119.7,182.5 120.0,182.3 120.4,182.2 120.7,182.0 121.1,181.9 121.4,181.9 121.8,181.9 122.1,182.0 122.5,182.0 122.8,182.2 123.2,182.3 123.5,182.5 123.9,182.7 124.2,183.0 124.6,183.2 124.9,183.4 125.3,183.6 125.6,183.8 126.0,183.9 126.3,184.0 126.7,184.1 127.0,184.1 127.4,184.1 127.7,184.0 128.1,183.9 128.4,183.7 128.8,183.6 129.1,183.4 129.5,183.1 129.8,182.9 130.2,182.7 130.5,182.5 130.9,182.3 131.2,182.2 131.6,182.0 131.9,181.9 132.3,181.9 132.6,181.9 133.0,182.0 133.3,182.1 133.7,182.2 134.0,182.3 134.4,182.5 134.7,182.7 135.1,183.0 135.4,183.2 135.8,183.4 136.1,183.6 136.5,183.8 136.8,183.9 137.2,184.0 137.5,184.1 137.9,184.1 138.2,184.1 138.6,184.0 138.9,183.9 139.3,183.7 139.6,183.6 140.0,183.3 140.3,183.1 140.7,182.9 141.0,182.7 141.4,182.5 141.7,182.3 142.1,182.1 142.4,182.0 142.8,181.9 143.1,181.9 143.5,181.9 143.8,182.0 144.2,182.1 144.5,182.2 144.9,182.4 145.2,182.6 145.6,182.8 145.9,183.0 146.3,183.2 146.6,183.4 147.0,183.6 147.3,183.8 147.7,183.9 148.0,184.0 148.4,184.1 148.7,184.1 149.1,184.1 149.4,184.0 149.8,183.9 150.1,183.7 150.5,183.5 150.8,183.3 151.2,183.1 151.5,182.9 151.9,182.7 152.2,182.5 152.6,182.3 152.9,182.1 153.3,182.0 153.6,181.9 154.0,181.9 154.3,181.9 154.7,182.0 155.0,182.1 155.4,182.2 155.7,182.4 156.1,182.6 156.4,182.8 156.8,183.0 157.1,183.2 157.5,183.4 157.8,183.6 158.2,183.8 158.5,183.9 158.9,184.0 159.2,184.1 159.6,184.1 159.9,184.1 160.3,184.0 160.6,183.9 161.0,183.7 161.3,183.5 161.7,183.3 162.0,183.1 162.4,182.9 162.7,182.7 163.1,182.5 163.4,182.3 163.8,182.1 164.1,182.0 164.5,181.9 164.8,181.9 165.2,181.9 165.5,182.0 165.9,182.1 166.2,182.2 166.6,182.4 166.9,182.6 167.3,182.8 167.6,183.0 168.0,183.2 168.3,183.5 168.7,183.6 169.0,183.8 169.4,183.9 169.7,184.0 170.1,184.1 170.4,184.1 170.8,184.1 171.1,184.0 171.5,183.9 171.8,183.7 172.2,183.5 172.5,183.3 172.9,183.1 173.2,182.9 173.6,182.6 173.9,182.4 174.3,182.3 174.6,182.1 175.0,182.0 175.3,181.9 175.7,181.9 176.0,181.9 176.4,182.0 176.7,182.1 177.1,182.2 177.4,182.4 177.8,182.6 178.1,182.8 178.5,183.0 178.8,183.3 179.2,183.5 179.5,183.9 179.9,187.4 180.2,192.3 180.6,197.8 180.9,200.3 181.3,200.3 181.6,199.6 182.0,198.1 182.3,195.9 182.7,193.1 183.0,189.8 183.4,186.2 183.7,182.4 184.1,178.6 184.4,174.9 184.8,171.5 185.1,168.5 185.5,166.1 185.8,164.3 186.2,163.3 186.5,163.0 186.9,163.4 187.2,164.7 187.6,166.6 187.9,169.1 188.3,172.1 188.6,175.6 189.0,179.3 189.3,183.0 189.7,186.8 190.0,190.3 190.4,193.4 190.7,196.1 191.1,198.3 191.4,199.7 191.8,200.4 192.1,200.4 192.5,199.7 192.8,198.2 193.2,196.1 193.5,193.5 193.9,190.3 194.2,186.9 194.6,183.3 194.9,179.7 195.3,176.2 195.6,173.0 196.0,170.2 196.3,167.9 196.7,166.2 197.0,165.2 197.4,164.9 197.7,165.3 198.1,166.5 198.4,168.3 198.8,170.7 199.1,173.6 199.5,176.8 199.8,180.3 200.2,183.9 200.5,187.5 200.9,190.8 201.2,193.8 201.6,196.4 201.9,198.4 202.3,199.7 202.6,200.4 203.0,200.3 203.3,199.5 203.7,198.0 204.0,196.0 204.4,193.3 204.7,190.3 205.1,186.9 205.4,183.4 205.8,179.9 206.1,176.4 206.5,173.3 206.8,170.6 207.2,168.3 207.5,166.7 207.9,165.7 208.2,165.5 208.6,165.9 208.9,167.1 209.3,168.9 209.6,171.3 210.0,174.1 210.3,177.3 210.7,180.8 211.0,184.3 211.4,187.8 211.7,191.1 212.1,194.0 212.4,196.5 212.8,198.4 213.1,199.7 213.5,200.3 213.8,200.2 214.2,199.4 214.5,197.9 214.9,195.8 215.2,193.1 215.6,190.1 215.9,186.7 216.3,183.2 216.6,179.7 217.0,176.3 217.3,173.2 217.7,170.5 218.0,168.3 218.4,166.8 218.7,165.8 219.1,165.6 219.4,166.1 219.8,167.3 220.1,169.2 220.5,171.6 220.8,174.4 221.2,177.7 221.5,181.1 221.9,184.6 222.2,188.1 222.6,191.3 222.9,194.2 223.3,196.7 223.6,198.5 224.0,199.8 224.3,200.3 224.7,200.1 225.0,199.3 225.4,197.7 225.7,195.6 226.1,192.9 226.4,189.8 226.8,186.5 227.1,183.0 227.5,179.5 227.8,176.1 228.2,173.1 228.5,170.4 228.9,168.3 229.2,166.7 229.6,165.9 229.9,165.7 230.3,166.3 230.6,167.5 231.0,169.4 231.3,171.8 231.7,174.7 232.0,177.9 232.4,181.4 232.7,184.9 233.1,188.3 233.4,191.6 233.8,194.4 234.1,196.8 234.5,198.6 234.8,199.8 235.2,200.3 235.5,200.1 235.9,199.1 236.2,197.6 236.6,195.4 236.9,192.7 237.3,189.6 237.6,186.2 238.0,182.7 238.3,179.2 238.7,175.9 239.0,172.9 239.4,170.2 239.7,168.1 240.1,166.7 240.4,165.8 240.8,165.7 241.1,166.3 241.5,167.6 241.8,169.5 242.2,172.0 242.5,174.9 242.9,178.2 243.2,181.7 243.6,185.2 243.9,188.6 244.3,191.8 244.6,194.6 245.0,197.0 245.3,198.7 245.7,199.9 246.0,200.3 246.4,200.0 246.7,199.0 247.1,197.4 247.4,195.2 247.8,192.5 248.1,189.3 248.5,186.0 248.8,182.5 249.2,179.0 249.5,175.7 249.9,172.6 250.2,170.1 250.6,168.0 250.9,166.6 251.3,165.8 251.6,165.8 252.0,166.4 252.3,167.8 252.7,169.7 253.0,172.2 253.4,175.2 253.7,178.5 254.1,181.9 254.4,185.4 254.8,188.8 255.1,192.0 255.5,194.8 255.8,197.1 256.2,198.8 256.5,199.9 256.9,200.3 257.2,200.0 257.6,198.9 257.9,197.3 258.3,195.0 258.6,192.2 259.0,189.1 259.3,185.7 259.7,182.2 260.0,178.7 260.4,175.4 260.7,172.4 261.1,169.9 261.4,167.9 261.8,166.5 262.1,165.8 262.5,165.8 262.8,166.5 263.2,167.9 263.5,169.9 263.9,172.4 264.2,175.4 264.6,178.7 264.9,182.2 265.3,185.7 265.6,189.1 266.0,192.2 266.3,195.0 266.7,197.3 267.0,198.9 267.4,200.0 267.7,200.3 268.1,199.9 268.4,198.8 268.8,197.1 269.1,194.8 269.5,192.0 269.8,188.8 270.2,185.4 270.5,181.9 270.9,178.5 271.2,175.2 271.6,172.2 271.9,169.7 272.3,167.8 272.6,166.4 273.0,165.8 273.3,165.8 273.7,166.6 274.0,168.0 274.4,170.1 274.7,172.6 275.1,175.7 275.4,179.0 275.8,182.4 276.1,185.9 276.5,189.3 276.9,192.4 277.2,195.2 277.6,197.4 277.9,199.0 278.3,200.0 278.6,200.3 279.0,199.9 279.3,198.7 279.7,197.0 280.0,194.6 280.4,191.8 280.7,188.6 281.1,185.2 281.4,181.7 281.8,178.2 282.1,175.0 282.5,172.0 282.8,169.6 283.2,167.6 283.5,166.3 283.9,165.7 284.2,165.9 284.6,166.7 284.9,168.1 285.3,170.2 285.6,172.9 286.0,175.9 286.3,179.2 286.7,182.7 287.0,186.2 287.4,189.6 287.7,192.7 288.1,195.4 288.4,197.6 288.8,199.1 289.1,200.1 289.5,200.3 289.8,199.8 290.2,198.6 290.5,196.8 290.9,194.4 291.2,191.6 291.6,188.3 291.9,184.9 292.3,181.4 292.6,178.0 293.0,174.7 293.3,171.8 293.7,169.4 294.0,167.5 294.4,166.3 294.7,165.7 295.1,165.9 295.4,166.8 295.8,168.3 296.1,170.4 296.5,173.1 296.8,176.1 297.2,179.5 297.5,183.0 297.9,186.5 298.2,189.8 298.6,192.9 298.9,195.5 299.3,197.7 299.6,199.2 300.0,200.1 300.3,200.3 300.7,199.7 301.0,198.5 301.4,196.6 301.7,194.2 302.1,191.3 302.4,188.1 302.8,184.6 303.1,181.1 303.5,177.7 303.8,174.5 304.2,171.6 304.5,169.2 304.9,167.4 305.2,166.2 305.6,165.7 305.9,165.9 306.3,166.8 306.6,168.4 307.0,170.6 307.3,173.3 307.7,176.4 308.0,179.7 308.4,183.2 308.7,186.7 309.1,190.1 309.4,193.1 309.8,195.7 310.1,197.8 310.5,199.3 310.8,200.1 311.2,200.3 311.5,199.7 311.9,198.4 312.2,196.5 312.6,194.0 312.9,191.1 313.3,187.8 313.6,184.4 314.0,180.9 314.3,177.5 314.7,174.3 315.0,171.4 315.4,169.1 315.7,167.3 316.1,166.2 316.4,165.7 316.8,166.0 317.1,166.9 317.5,168.6 317.8,170.8 318.2,173.5 318.5,176.6 318.9,180.0 319.2,183.5 319.6,187.0 319.9,190.3 320.3,193.3 320.6,195.9 321.0,198.0 321.3,199.4 321.7,200.2 322.0,200.2 322.4,199.6 322.7,198.3 323.1,196.3 323.4,193.8 323.8,190.9 324.1,187.6 324.5,184.1 324.8,180.6 325.2,177.2 325.5,174.0 325.9,171.2 326.2,168.9 326.6,167.2 326.9,166.1 327.3,165.7 327.6,166.0 328.0,167.0 328.3,168.7 328.7,171.0 329.0,173.7 329.4,176.9 329.7,180.3 330.1,183.8 330.4,187.2 330.8,190.5 331.1,193.5 331.5,196.1 331.8,198.1 332.2,199.5 332.5,200.2 332.9,200.2 333.2,199.5 333.6,198.1 333.9,196.1 334.3,193.6 334.6,190.6 335.0,187.3 335.3,183.9 335.7,180.4 336.0,177.0 336.4,173.8 336.7,171.0 337.1,168.8 337.4,167.1 337.8,166.0 338.1,165.7 338.5,166.1 338.8,167.1 339.2,168.9 339.5,171.2 339.9,174.0 340.2,177.1 340.6,180.5 340.9,184.0 341.3,187.5 341.6,190.8 342.0,193.7 342.3,196.2 342.7,198.2 343.0,199.6 343.4,200.2 343.7,200.2 344.1,199.4 344.4,198.0 344.8,196.0 345.1,193.4 345.5,190.4 345.8,187.1 346.2,183.6 346.5,180.1 346.9,176.7 347.2,173.6 347.6,170.9 347.9,168.6 348.3,167.0 348.6,166.0 349.0,165.7 349.3,166.1 349.7,167.2 350.0,169.0 350.4,171.4 350.7,174.2 351.1,177.4 351.4,180.8 351.8,184.3 352.1,187.7 352.5,191.0 352.8,193.9 353.2,196.4 353.5,198.3 353.9,199.6 354.2,200.3 354.6,200.2 354.9,199.4 355.3,197.9 355.6,195.8 356.0,193.2 356.3,190.1 356.7,186.8 357.0,183.3 357.4,179.8 357.7,176.5 358.1,173.4 358.4,170.7 358.8,168.5 359.1,166.9 359.5,165.9 359.8,165.7 360.2,166.2 360.5,167.4 360.9,169.2 361.2,171.6 361.6,174.4 361.9,177.6 362.3,181.0 362.6,184.6 363.0,188.0 363.3,191.2 363.7,194.1 364.0,196.6 364.4,198.5 364.7,199.7 365.1,200.3 365.4,200.1 365.8,199.3 366.1,197.7 366.5,195.6 366.8,193.0 367.2,189.9 367.5,186.6 367.9,183.1 368.2,179.6 368.6,176.2 368.9,173.2 369.3,170.5 369.6,168.3 370.0,166.8 370.3,165.9 370.7,165.7 371.0,166.3 371.4,167.5 371.7,169.3 372.1,171.8 372.4,174.6 372.8,177.9 373.1,181.3 373.5,184.8 373.8,188.2 374.2,191.5 374.5,194.3 374.9,196.7 375.2,198.6 375.6,199.8 375.9,200.3 376.3,200.1 376.6,199.2 377.0,197.6 377.3,195.4 377.7,192.7 378.0,189.7 378.4,186.3 378.7,182.8 379.1,179.3 379.4,176.0 379.8,172.9 380.1,170.3 380.5,168.2 380.8,166.7 381.2,165.9 381.5,165.7 381.9,166.3 382.2,167.6 382.6,169.5 382.9,172.0 383.3,174.9 383.6,178.1 384.0,181.6 384.3,185.1 384.7,188.5 385.0,191.7 385.4,194.5 385.7,196.9 386.1,198.7 386.4,199.8 386.8,200.3 387.1,200.0 387.5,199.1 387.8,197.5 388.2,195.2 388.5,192.5 388.9,189.4 389.2,186.0 389.6,182.5 389.9,179.1 390.3,175.7 390.6,172.7 391.0,170.1 391.3,168.1 391.7,166.6 392.0,165.8 392.4,165.8 392.7,166.4 393.1,167.7 393.4,169.7 393.8,172.2 394.1,175.1 394.5,178.4 394.8,181.8 395.2,185.3 395.5,188.7 395.9,191.9 396.2,194.7 396.6,197.1 396.9,198.8 397.3,199.9 397.6,200.3 398.0,200.0 398.3,199.0 398.7,197.3 399.0,195.1 399.4,192.3 399.7,189.2 400.1,185.8 400.4,182.3 400.8,178.8 401.1,175.5 401.5,172.5 401.8,170.0 402.2,167.9 402.5,166.5 402.9,165.8 403.2,165.8 403.6,166.5 403.9,167.8 404.3,169.8 404.6,172.4 405.0,175.3 405.3,178.6 405.7,182.1 406.0,185.6 406.4,189.0 406.7,192.1 407.1,194.9 407.4,197.2 407.8,198.9 408.1,200.0 408.5,200.3 408.8,199.9 409.2,198.9 409.5,197.2 409.9,194.9 410.2,192.1 410.6,188.9 410.9,185.5 411.3,182.0 411.6,178.6 412.0,175.3 412.3,172.3 412.7,169.8 413.0,167.8 413.4,166.4 413.7,165.8 414.1,165.8 414.4,166.5 414.8,168.0 415.1,170.0 415.5,172.6 415.8,175.6 416.2,178.9 416.5,182.4 416.9,185.9 417.2,189.2 417.6,192.4 417.9,195.1 418.3,197.4 418.6,199.0 419.0,200.0 419.3,200.3 419.7,199.9 420.0,198.8 420.4,197.0 420.7,194.7 421.1,191.9 421.4,188.7 421.8,185.3 422.1,181.8 422.5,178.3 422.8,175.0 423.2,172.1 423.5,169.6 423.9,167.7 424.2,166.4 424.6,165.8 424.9,165.8 425.3,166.6 425.6,168.1 426.0,170.2 426.3,172.8 426.7,175.8 427.0,179.1 427.4,182.6 427.7,186.1 428.1,189.5 428.4,192.6 428.8,195.3 429.1,197.5 429.5,199.1 429.8,200.0 430.2,200.3 430.5,199.8 430.9,198.7 431.2,196.9 431.6,194.5 431.9,191.6 432.3,188.4 432.6,185.0 433.0,181.5 433.3,178.0 433.7,174.8 434.0,171.9 434.4,169.5 434.7,167.6 435.1,166.3 435.4,165.7 435.8,165.9 436.1,166.7 436.5,168.2 436.8,170.4 437.2,173.0 437.5,176.1 437.9,179.4 438.2,182.9 438.6,186.4 438.9,189.7 439.3,192.8 439.6,195.5 440.0,197.6 440.3,199.2 440.7,200.1 441.0,200.3 441.4,199.8 441.7,196.1 442.1,197.3 442.4,197.9 442.8,197.9 443.1,197.3 443.5,196.0 443.8,194.3 444.2,192.0 444.5,189.4 444.9,186.6 445.2,183.5 445.6,183.0 445.9,183.0 446.3,183.0 446.6,183.0 447.0,183.0 447.3,183.0 447.7,183.0 448.0,183.0 448.4,183.0 448.7,183.0 449.1,183.0 449.4,183.0 449.8,183.0 450.1,183.0 450.5,183.0 450.8,183.0 451.2,183.0 451.5,183.0 451.9,183.0 452.2,183.0 452.6,183.0 452.9,183.0 453.3,183.0 453.6,183.0 454.0,183.0 454.3,183.0 454.7,183.0 455.0,183.0 455.4,183.0 455.7,183.0 456.1,183.0 456.4,183.0 456.8,183.0 457.1,183.0 457.5,183.0 457.8,183.0 458.2,183.0 458.5,183.0 458.9,183.0 459.2,183.0 459.6,183.0 459.9,183.0 460.3,183.0 460.6,183.0 461.0,183.0 461.3,183.0 461.7,183.0 462.0,183.0 462.4,183.0 462.7,183.0 463.1,183.0 463.4,183.0 463.8,183.0 464.1,183.0 464.5,183.0 464.8,183.0 465.2,183.0 465.5,183.0 465.9,183.0 466.2,183.0 466.6,183.0 466.9,183.0 467.3,183.0 467.6,183.0 468.0,183.0 468.3,183.0 468.7,183.0 469.0,183.0 469.4,183.0 469.7,183.0 470.1,183.0 470.4,183.0 470.8,183.0 471.1,183.0 471.5,183.0 471.8,183.0 472.2,183.0 472.5,183.0 472.9,183.0 473.2,183.0 473.6,183.0 473.9,183.0 474.3,183.0 474.6,183.0 475.0,183.0 475.3,183.0 475.7,183.0 476.0,183.0 476.4,183.0 476.7,183.0 477.1,183.0 477.4,183.0 477.8,183.0 478.1,183.0 478.5,183.0 478.8,183.0 479.2,183.0 479.5,183.0 479.9,183.0 480.2,183.0 480.6,183.0 480.9,183.0 481.3,183.0 481.6,183.0 482.0,183.0 482.3,183.0 482.7,183.0 483.0,183.0 483.4,183.0 483.7,183.0 484.1,183.0 484.4,183.0 484.8,183.0 485.1,183.0 485.5,183.0 485.8,183.0 486.2,183.0 486.5,183.0 486.9,183.0 487.2,183.0 487.6,183.0 487.9,183.0 488.3,183.0 488.6,183.0 489.0,183.0 489.3,183.0 489.7,183.0 490.0,183.0 490.4,183.0 490.7,183.0 491.1,183.0 491.4,183.0 491.8,183.0 492.1,183.0 492.5,183.0 492.8,183.0 493.2,183.0 493.5,183.0 493.9,183.0 494.2,183.0 494.6,183.0 494.9,183.0 495.3,183.0 495.6,183.0 496.0,183.0 496.3,183.0 496.7,183.0 497.0,183.0 497.4,183.0 497.7,183.0 498.1,183.0 498.4,183.0 498.8,183.0 499.1,183.0 499.5,183.0 499.8,183.0 500.2,183.0 500.5,183.0 500.9,183.0 501.2,183.0 501.6,183.0 501.9,183.0 502.3,183.0 502.6,183.0 503.0,183.0" fill="none" stroke="#00e000" stroke-width="1.15" stroke-linejoin="round" />
<polyline points="49.3,181.9 49.7,181.9 50.0,182.0 50.4,182.1 50.7,182.2 51.1,182.4 51.4,182.6 51.8,182.8 52.1,183.0 52.5,183.2 52.8,183.4 53.2,183.6 53.5,183.8 53.9,183.9 54.2,184.0 54.6,184.1 54.9,184.1 55.3,184.1 55.6,184.0 56.0,183.9 56.3,183.7 56.7,183.5 57.0,183.3 57.4,183.1 57.7,182.9 58.1,182.7 58.4,182.5 58.8,182.3 59.1,182.1 59.5,182.0 59.8,181.9 60.2,181.9 60.5,181.9 60.9,182.0 61.2,182.1 61.6,182.2 61.9,182.4 62.3,182.6 62.6,182.8 63.0,183.0 63.3,183.2 63.7,183.4 64.0,183.6 64.4,183.8 64.7,183.9 65.1,184.0 65.4,184.1 65.8,184.1 66.1,184.1 66.5,184.0 66.8,183.9 67.2,183.7 67.5,183.5 67.9,183.3 68.2,183.1 68.6,182.9 68.9,182.7 69.3,182.5 69.6,182.3 70.0,182.1 70.3,182.0 70.7,181.9 71.0,181.9 71.4,181.9 71.7,182.0 72.1,182.1 72.4,182.2 72.8,182.4 73.1,182.6 73.5,182.8 73.8,183.0 74.2,183.2 74.5,183.5 74.9,183.7 75.2,183.8 75.6,183.9 75.9,184.0 76.3,184.1 76.6,184.1 77.0,184.1 77.3,184.0 77.7,183.9 78.0,183.7 78.4,183.5 78.7,183.3 79.1,183.1 79.4,182.9 79.8,182.6 80.1,182.4 80.5,182.3 80.8,182.1 81.2,182.0 81.5,181.9 81.9,181.9 82.2,181.9 82.6,182.0 82.9,182.1 83.3,182.2 83.6,182.4 84.0,182.6 84.3,182.8 84.7,183.0 85.0,183.3 85.4,183.5 85.7,183.7 86.1,183.8 86.4,184.0 86.8,184.0 87.1,184.1 87.5,184.1 87.8,184.1 88.2,184.0 88.5,183.8 88.9,183.7 89.2,183.5 89.6,183.3 89.9,183.1 90.3,182.8 90.6,182.6 91.0,182.4 91.3,182.2 91.7,182.1 92.0,182.0 92.4,181.9 92.7,181.9 93.1,181.9 93.4,182.0 93.8,182.1 94.1,182.2 94.5,182.4 94.8,182.6 95.2,182.8 95.5,183.1 95.9,183.3 96.2,183.5 96.6,183.7 96.9,183.8 97.3,184.0 97.6,184.1 98.0,184.1 98.3,184.1 98.7,184.0 99.0,184.0 99.4,183.8 99.7,183.7 100.1,183.5 100.4,183.3 100.8,183.0 101.1,182.8 101.5,182.6 101.8,182.4 102.2,182.2 102.5,182.1 102.9,182.0 103.2,181.9 103.6,181.9 103.9,181.9 104.3,182.0 104.6,182.1 105.0,182.3 105.3,182.4 105.7,182.6 106.0,182.9 106.4,183.1 106.7,183.3 107.1,183.5 107.4,183.7 107.8,183.8 108.1,184.0 108.5,184.1 108.8,184.1 109.2,184.1 109.5,184.0 109.9,183.9 110.2,183.8 110.6,183.7 110.9,183.5 111.3,183.2 111.6,183.0 112.0,182.8 112.3,182.6 112.7,182.4 113.0,182.2 113.4,182.1 113.7,182.0 114.1,181.9 114.4,181.9 114.8,181.9 115.1,182.0 115.5,182.1 115.8,182.3 116.2,182.4 116.5,182.7 116.9,182.9 117.2,183.1 117.6,183.3 117.9,183.5 118.3,183.7 118.6,183.9 119.0,184.0 119.3,184.1 119.7,184.1 120.0,184.1 120.4,184.0 120.7,183.9 121.1,183.8 121.4,183.6 121.8,183.4 122.1,183.2 122.5,183.0 122.8,182.8 123.2,182.6 123.5,182.4 123.9,182.2 124.2,182.1 124.6,182.0 124.9,181.9 125.3,181.9 125.6,181.9 126.0,182.0 126.3,182.1 126.7,182.3 127.0,182.5 127.4,182.7 127.7,182.9 128.1,183.1 128.4,183.3 128.8,183.5 129.1,183.7 129.5,183.9 129.8,184.0 130.2,184.1 130.5,184.1 130.9,184.1 131.2,184.0 131.6,183.9 131.9,183.8 132.3,183.6 132.6,183.4 133.0,183.2 133.3,183.0 133.7,182.8 134.0,182.6 134.4,182.4 134.7,182.2 135.1,182.1 135.4,182.0 135.8,181.9 136.1,181.9 136.5,181.9 136.8,182.0 137.2,182.1 137.5,182.3 137.9,182.5 138.2,182.7 138.6,182.9 138.9,183.1 139.3,183.3 139.6,183.5 140.0,183.7 140.3,183.9 140.7,184.0 141.0,184.1 141.4,184.1 141.7,184.1 142.1,184.0 142.4,183.9 142.8,183.8 143.1,183.6 143.5,183.4 143.8,183.2 144.2,183.0 144.5,182.8 144.9,182.5 145.2,182.4 145.6,182.2 145.9,182.1 146.3,182.0 146.6,181.9 147.0,181.9 147.3,181.9 147.7,182.0 148.0,182.1 148.4,182.3 148.7,182.5 149.1,182.7 149.4,182.9 149.8,183.1 150.1,183.4 150.5,183.6 150.8,183.7 151.2,183.9 151.5,184.0 151.9,184.1 152.2,184.1 152.6,184.1 152.9,184.0 153.3,183.9 153.6,183.8 154.0,183.6 154.3,183.4 154.7,183.2 155.0,183.0 155.4,182.7 155.7,182.5 156.1,182.3 156.4,182.2 156.8,182.0 157.1,182.0 157.5,181.9 157.8,181.9 158.2,181.9 158.5,182.0 158.9,182.2 159.2,182.3 159.6,182.5 159.9,182.7 160.3,182.9 160.6,183.2 161.0,183.4 161.3,183.6 161.7,183.8 162.0,183.9 162.4,184.0 162.7,184.1 163.1,184.1 163.4,184.1 163.8,184.0 164.1,183.9 164.5,183.8 164.8,183.6 165.2,183.4 165.5,183.2 165.9,182.9 166.2,182.7 166.6,182.5 166.9,182.3 167.3,182.2 167.6,182.0 168.0,181.9 168.3,181.9 168.7,181.9 169.0,182.0 169.4,182.0 169.7,182.2 170.1,182.3 170.4,182.5 170.8,182.7 171.1,183.0 171.5,183.2 171.8,183.4 172.2,183.6 172.5,183.8 172.9,183.9 173.2,184.0 173.6,184.1 173.9,184.1 174.3,184.1 174.6,184.0 175.0,183.9 175.3,183.7 175.7,183.6 176.0,183.4 176.4,183.2 176.7,182.9 177.1,182.7 177.4,182.5 177.8,182.3 178.1,182.2 178.5,182.0 178.8,181.9 179.2,181.9 179.5,181.8 179.9,180.2 180.2,179.3 180.6,179.7 180.9,182.0 181.3,185.1 181.6,188.4 182.0,192.0 182.3,195.5 182.7,198.9 183.0,202.0 183.4,204.7 183.7,206.7 184.1,208.2 184.4,208.9 184.8,208.8 185.1,207.9 185.5,206.4 185.8,204.1 186.2,201.2 186.5,197.9 186.9,194.2 187.2,190.2 187.6,186.2 187.9,182.3 188.3,178.7 188.6,175.4 189.0,172.6 189.3,170.4 189.7,168.9 190.0,168.2 190.4,168.2 190.7,169.0 191.1,170.4 191.4,172.5 191.8,175.2 192.1,178.3 192.5,181.7 192.8,185.2 193.2,188.8 193.5,192.2 193.9,195.3 194.2,198.0 194.6,200.1 194.9,201.6 195.3,202.5 195.6,202.6 196.0,202.0 196.3,200.7 196.7,198.7 197.0,196.2 197.4,193.1 197.7,189.8 198.1,186.2 198.4,182.5 198.8,178.9 199.1,175.6 199.5,172.6 199.8,170.1 200.2,168.1 200.5,166.8 200.9,166.3 201.2,166.4 201.6,167.3 201.9,168.8 202.3,171.0 202.6,173.7 203.0,176.8 203.3,180.2 203.7,183.7 204.0,187.2 204.4,190.6 204.7,193.6 205.1,196.3 205.4,198.4 205.8,199.9 206.1,200.8 206.5,200.9 206.8,200.3 207.2,199.1 207.5,197.1 207.9,194.6 208.2,191.7 208.6,188.4 208.9,184.9 209.3,181.4 209.6,177.9 210.0,174.7 210.3,171.8 210.7,169.4 211.0,167.5 211.4,166.3 211.7,165.8 212.1,166.0 212.4,167.0 212.8,168.6 213.1,170.8 213.5,173.5 213.8,176.6 214.2,180.0 214.5,183.5 214.9,187.0 215.2,190.3 215.6,193.3 215.9,196.0 216.3,198.1 216.6,199.5 217.0,200.3 217.3,200.4 217.7,199.8 218.0,198.5 218.4,196.6 218.7,194.1 219.1,191.2 219.4,187.9 219.8,184.4 220.1,180.9 220.5,177.5 220.8,174.3 221.2,171.4 221.5,169.1 221.9,167.3 222.2,166.2 222.6,165.7 222.9,166.0 223.3,167.0 223.6,168.6 224.0,170.9 224.3,173.6 224.7,176.7 225.0,180.1 225.4,183.6 225.7,187.1 226.1,190.4 226.4,193.4 226.8,196.0 227.1,198.0 227.5,199.5 227.8,200.2 228.2,200.3 228.5,199.6 228.9,198.3 229.2,196.3 229.6,193.8 229.9,190.8 230.3,187.6 230.6,184.1 231.0,180.6 231.3,177.2 231.7,174.0 232.0,171.2 232.4,168.9 232.7,167.2 233.1,166.1 233.4,165.7 233.8,166.0 234.1,167.1 234.5,168.8 234.8,171.0 235.2,173.8 235.5,176.9 235.9,180.3 236.2,183.8 236.6,187.3 236.9,190.6 237.3,193.6 237.6,196.1 238.0,198.1 238.3,199.5 238.7,200.2 239.0,200.2 239.4,199.5 239.7,198.1 240.1,196.1 240.4,193.6 240.8,190.6 241.1,187.3 241.5,183.8 241.8,180.3 242.2,176.9 242.5,173.8 242.9,171.0 243.2,168.7 243.6,167.1 243.9,166.0 244.3,165.7 244.6,166.1 245.0,167.2 245.3,168.9 245.7,171.2 246.0,174.0 246.4,177.2 246.7,180.6 247.1,184.1 247.4,187.6 247.8,190.8 248.1,193.8 248.5,196.3 248.8,198.3 249.2,199.6 249.5,200.2 249.9,200.2 250.2,199.4 250.6,198.0 250.9,195.9 251.3,193.3 251.6,190.3 252.0,187.0 252.3,183.5 252.7,180.0 253.0,176.7 253.4,173.5 253.7,170.8 254.1,168.6 254.4,167.0 254.8,166.0 255.1,165.7 255.5,166.1 255.8,167.3 256.2,169.1 256.5,171.4 256.9,174.2 257.2,177.4 257.6,180.8 257.9,184.4 258.3,187.8 258.6,191.1 259.0,194.0 259.3,196.5 259.7,198.4 260.0,199.7 260.4,200.3 260.7,200.1 261.1,199.3 261.4,197.8 261.8,195.7 262.1,193.1 262.5,190.1 262.8,186.8 263.2,183.3 263.5,179.8 263.9,176.4 264.2,173.3 264.6,170.6 264.9,168.4 265.3,166.9 265.6,165.9 266.0,165.7 266.3,166.2 266.7,167.4 267.0,169.2 267.4,171.6 267.7,174.5 268.1,177.7 268.4,181.1 268.8,184.6 269.1,188.1 269.5,191.3 269.8,194.2 270.2,196.6 270.5,198.5 270.9,199.7 271.2,200.3 271.6,200.1 271.9,199.2 272.3,197.7 272.6,195.6 273.0,192.9 273.3,189.8 273.7,186.5 274.0,183.0 274.4,179.5 274.7,176.2 275.1,173.1 275.4,170.4 275.8,168.3 276.1,166.8 276.5,165.9 276.9,165.7 277.2,166.3 277.6,167.5 277.9,169.4 278.3,171.8 278.6,174.7 279.0,177.9 279.3,181.4 279.7,184.9 280.0,188.3 280.4,191.5 280.7,194.4 281.1,196.8 281.4,198.6 281.8,199.8 282.1,200.3 282.5,200.1 282.8,199.2 283.2,197.6 283.5,195.4 283.9,192.7 284.2,189.6 284.6,186.2 284.9,182.7 285.3,179.3 285.6,175.9 286.0,172.9 286.3,170.3 286.7,168.2 287.0,166.7 287.4,165.9 287.7,165.7 288.1,166.3 288.4,167.6 288.8,169.5 289.1,172.0 289.5,174.9 289.8,178.2 290.2,181.6 290.5,185.1 290.9,188.6 291.2,191.7 291.6,194.6 291.9,196.9 292.3,198.7 292.6,199.9 293.0,200.3 293.3,200.0 293.7,199.1 294.0,197.4 294.4,195.2 294.7,192.5 295.1,189.4 295.4,186.0 295.8,182.5 296.1,179.0 296.5,175.7 296.8,172.7 297.2,170.1 297.5,168.0 297.9,166.6 298.2,165.8 298.6,165.8 298.9,166.4 299.3,167.7 299.6,169.7 300.0,172.2 300.3,175.2 300.7,178.4 301.0,181.9 301.4,185.4 301.7,188.8 302.1,192.0 302.4,194.8 302.8,197.1 303.1,198.8 303.5,199.9 303.8,200.3 304.2,200.0 304.5,199.0 304.9,197.3 305.2,195.0 305.6,192.3 305.9,189.1 306.3,185.7 306.6,182.2 307.0,178.7 307.3,175.5 307.7,172.5 308.0,169.9 308.4,167.9 308.7,166.5 309.1,165.8 309.4,165.8 309.8,166.5 310.1,167.9 310.5,169.9 310.8,172.4 311.2,175.4 311.5,178.7 311.9,182.2 312.2,185.7 312.6,189.1 312.9,192.2 313.3,195.0 313.6,197.2 314.0,198.9 314.3,200.0 314.7,200.3 315.0,199.9 315.4,198.9 315.7,197.1 316.1,194.8 316.4,192.0 316.8,188.9 317.1,185.5 317.5,182.0 317.8,178.5 318.2,175.2 318.5,172.3 318.9,169.7 319.2,167.8 319.6,166.4 319.9,165.8 320.3,165.8 320.6,166.6 321.0,168.0 321.3,170.0 321.7,172.6 322.0,175.6 322.4,178.9 322.7,182.4 323.1,185.9 323.4,189.3 323.8,192.4 324.1,195.2 324.5,197.4 324.8,199.0 325.2,200.0 325.5,200.3 325.9,199.9 326.2,198.7 326.6,197.0 326.9,194.6 327.3,191.8 327.6,188.6 328.0,185.2 328.3,181.7 328.7,178.2 329.0,175.0 329.4,172.1 329.7,169.6 330.1,167.7 330.4,166.4 330.8,165.7 331.1,165.8 331.5,166.7 331.8,168.1 332.2,170.2 332.5,172.8 332.9,175.9 333.2,179.2 333.6,182.7 333.9,186.2 334.3,189.5 334.6,192.6 335.0,195.3 335.3,197.5 335.7,199.1 336.0,200.1 336.4,200.3 336.7,199.8 337.1,198.6 337.4,196.8 337.8,194.4 338.1,191.6 338.5,188.4 338.8,184.9 339.2,181.4 339.5,178.0 339.9,174.8 340.2,171.9 340.6,169.4 340.9,167.5 341.3,166.3 341.6,165.7 342.0,165.9 342.3,166.7 342.7,168.3 343.0,170.4 343.4,173.0 343.7,176.1 344.1,179.5 344.4,182.9 344.8,186.4 345.1,189.8 345.5,192.9 345.8,195.5 346.2,197.7 346.5,199.2 346.9,200.1 347.2,200.3 347.6,199.7 347.9,198.5 348.3,196.7 348.6,194.2 349.0,191.3 349.3,188.1 349.7,184.7 350.0,181.2 350.4,177.7 350.7,174.5 351.1,171.7 351.4,169.3 351.8,167.4 352.1,166.2 352.5,165.7 352.8,165.9 353.2,166.8 353.5,168.4 353.9,170.6 354.2,173.3 354.6,176.4 354.9,179.7 355.3,183.2 355.6,186.7 356.0,190.0 356.3,193.1 356.7,195.7 357.0,197.8 357.4,199.3 357.7,200.1 358.1,200.3 358.4,199.7 358.8,198.4 359.1,196.5 359.5,194.0 359.8,191.1 360.2,187.9 360.5,184.4 360.9,180.9 361.2,177.5 361.6,174.3 361.9,171.5 362.3,169.1 362.6,167.3 363.0,166.2 363.3,165.7 363.7,166.0 364.0,166.9 364.4,168.5 364.7,170.8 365.1,173.5 365.4,176.6 365.8,180.0 366.1,183.5 366.5,186.9 366.8,190.3 367.2,193.3 367.5,195.9 367.9,197.9 368.2,199.4 368.6,200.2 368.9,200.2 369.3,199.6 369.6,198.3 370.0,196.3 370.3,193.8 370.7,190.9 371.0,187.6 371.4,184.2 371.7,180.6 372.1,177.2 372.4,174.1 372.8,171.3 373.1,168.9 373.5,167.2 373.8,166.1 374.2,165.7 374.5,166.0 374.9,167.0 375.2,168.7 375.6,171.0 375.9,173.7 376.3,176.8 376.6,180.2 377.0,183.7 377.3,187.2 377.7,190.5 378.0,193.5 378.4,196.1 378.7,198.1 379.1,199.5 379.4,200.2 379.8,200.2 380.1,199.5 380.5,198.2 380.8,196.2 381.2,193.6 381.5,190.6 381.9,187.4 382.2,183.9 382.6,180.4 382.9,177.0 383.3,173.8 383.6,171.1 384.0,168.8 384.3,167.1 384.7,166.0 385.0,165.7 385.4,166.1 385.7,167.1 386.1,168.8 386.4,171.1 386.8,173.9 387.1,177.1 387.5,180.5 387.8,184.0 388.2,187.5 388.5,190.7 388.9,193.7 389.2,196.2 389.6,198.2 389.9,199.6 390.3,200.2 390.6,200.2 391.0,199.4 391.3,198.0 391.7,196.0 392.0,193.4 392.4,190.4 392.7,187.1 393.1,183.6 393.4,180.1 393.8,176.7 394.1,173.6 394.5,170.9 394.8,168.6 395.2,167.0 395.5,166.0 395.9,165.7 396.2,166.1 396.6,167.2 396.9,169.0 397.3,171.3 397.6,174.2 398.0,177.3 398.3,180.8 398.7,184.3 399.0,187.7 399.4,191.0 399.7,193.9 400.1,196.4 400.4,198.3 400.8,199.6 401.1,200.3 401.5,200.2 401.8,199.4 402.2,197.9 402.5,195.8 402.9,193.2 403.2,190.2 403.6,186.8 403.9,183.4 404.3,179.9 404.6,176.5 405.0,173.4 405.3,170.7 405.7,168.5 406.0,166.9 406.4,165.9 406.7,165.7 407.1,166.2 407.4,167.3 407.8,169.2 408.1,171.5 408.5,174.4 408.8,177.6 409.2,181.0 409.5,184.5 409.9,188.0 410.2,191.2 410.6,194.1 410.9,196.6 411.3,198.4 411.6,199.7 412.0,200.3 412.3,200.1 412.7,199.3 413.0,197.8 413.4,195.6 413.7,193.0 414.1,189.9 414.4,186.6 414.8,183.1 415.1,179.6 415.5,176.3 415.8,173.2 416.2,170.5 416.5,168.4 416.9,166.8 417.2,165.9 417.6,165.7 417.9,166.2 418.3,167.5 418.6,169.3 419.0,171.7 419.3,174.6 419.7,177.8 420.0,181.3 420.4,184.8 420.7,188.2 421.1,191.4 421.4,194.3 421.8,196.7 422.1,198.6 422.5,199.8 422.8,200.3 423.2,200.1 423.5,199.2 423.9,197.6 424.2,195.5 424.6,192.8 424.9,189.7 425.3,186.3 425.6,182.8 426.0,179.4 426.3,176.0 426.7,173.0 427.0,170.3 427.4,168.2 427.7,166.7 428.1,165.9 428.4,165.7 428.8,166.3 429.1,167.6 429.5,169.5 429.8,171.9 430.2,174.8 430.5,178.1 430.9,181.5 431.2,185.0 431.6,188.5 431.9,191.7 432.3,194.5 432.6,196.9 433.0,198.7 433.3,199.8 433.7,200.3 434.0,200.0 434.4,199.1 434.7,197.5 435.1,195.3 435.4,192.6 435.8,189.4 436.1,186.1 436.5,182.6 436.8,179.1 437.2,175.8 437.5,172.8 437.9,170.2 438.2,168.1 438.6,166.6 438.9,165.8 439.3,165.8 439.6,166.4 440.0,167.7 440.3,169.6 440.7,172.1 441.0,175.1 441.4,178.3 441.7,183.0 442.1,183.0 442.4,183.0 442.8,183.0 443.1,183.0 443.5,183.0 443.8,183.0 444.2,183.0 444.5,183.0 444.9,183.0 445.2,183.0 445.6,183.0 445.9,183.0 446.3,183.0 446.6,183.0 447.0,183.0 447.3,183.0 447.7,183.0 448.0,183.0 448.4,183.0 448.7,183.0 449.1,183.0 449.4,183.0 449.8,183.0 450.1,183.0 450.5,183.0 450.8,183.0 451.2,183.0 451.5,183.0 451.9,183.0 452.2,183.0 452.6,183.0 452.9,183.0 453.3,183.0 453.6,183.0 454.0,183.0 454.3,183.0 454.7,183.0 455.0,183.0 455.4,183.0 455.7,183.0 456.1,183.0 456.4,183.0 456.8,183.0 457.1,183.0 457.5,183.0 457.8,183.0 458.2,183.0 458.5,183.0 458.9,183.0 459.2,183.0 459.6,183.0 459.9,183.0 460.3,183.0 460.6,183.0 461.0,183.0 461.3,183.0 461.7,183.0 462.0,183.0 462.4,183.0 462.7,183.0 463.1,183.0 463.4,183.0 463.8,183.0 464.1,183.0 464.5,183.0 464.8,183.0 465.2,183.0 465.5,183.0 465.9,183.0 466.2,183.0 466.6,183.0 466.9,183.0 467.3,183.0 467.6,183.0 468.0,183.0 468.3,183.0 468.7,183.0 469.0,183.0 469.4,183.0 469.7,183.0 470.1,183.0 470.4,183.0 470.8,183.0 471.1,183.0 471.5,183.0 471.8,183.0 472.2,183.0 472.5,183.0 472.9,183.0 473.2,183.0 473.6,183.0 473.9,183.0 474.3,183.0 474.6,183.0 475.0,183.0 475.3,183.0 475.7,183.0 476.0,183.0 476.4,183.0 476.7,183.0 477.1,183.0 477.4,183.0 477.8,183.0 478.1,183.0 478.5,183.0 478.8,183.0 479.2,183.0 479.5,183.0 479.9,183.0 480.2,183.0 480.6,183.0 480.9,183.0 481.3,183.0 481.6,183.0 482.0,183.0 482.3,183.0 482.7,183.0 483.0,183.0 483.4,183.0 483.7,183.0 484.1,183.0 484.4,183.0 484.8,183.0 485.1,183.0 485.5,183.0 485.8,183.0 486.2,183.0 486.5,183.0 486.9,183.0 487.2,183.0 487.6,183.0 487.9,183.0 488.3,183.0 488.6,183.0 489.0,183.0 489.3,183.0 489.7,183.0 490.0,183.0 490.4,183.0 490.7,183.0 491.1,183.0 491.4,183.0 491.8,183.0 492.1,183.0 492.5,183.0 492.8,183.0 493.2,183.0 493.5,183.0 493.9,183.0 494.2,183.0 494.6,183.0 494.9,183.0 495.3,183.0 495.6,183.0 496.0,183.0 496.3,183.0 496.7,183.0 497.0,183.0 497.4,183.0 497.7,183.0 498.1,183.0 498.4,183.0 498.8,183.0 499.1,183.0 499.5,183.0 499.8,183.0 500.2,183.0 500.5,183.0 500.9,183.0 501.2,183.0 501.6,183.0 501.9,183.0 502.3,183.0 502.6,183.0 503.0,183.0" fill="none" stroke="#0000ff" stroke-width="1.15" stroke-linejoin="round" />
<polyline points="49.3,182.8 49.8,182.8 50.3,182.8 50.8,182.8 51.3,182.8 51.8,182.8 52.3,182.8 52.8,182.8 53.3,182.8 53.8,182.8 54.3,182.8 54.8,182.8 55.3,182.8 55.8,182.8 56.3,182.8 56.8,182.8 57.3,182.8 57.8,182.8 58.3,182.8 58.8,182.8 59.3,182.8 59.8,182.8 60.3,182.8 60.8,182.8 61.3,182.8 61.8,182.8 62.3,182.8 62.8,182.8 63.3,182.8 63.8,182.8 64.3,182.8 64.8,182.8 65.3,182.8 65.8,182.8 66.3,182.8 66.8,182.8 67.3,182.8 67.8,182.8 68.3,182.8 68.8,182.8 69.3,182.8 69.8,182.8 70.3,182.8 70.8,182.8 71.3,182.8 71.8,182.8 72.3,182.8 72.8,182.8 73.3,182.8 73.8,182.8 74.3,182.8 74.8,182.8 75.3,182.8 75.8,182.8 76.3,182.8 76.8,182.8 77.3,182.8 77.8,182.8 78.3,182.8 78.8,182.8 79.3,182.8 79.8,182.8 80.3,182.8 80.8,182.8 81.3,182.8 81.8,182.8 82.3,182.8 82.8,182.8 83.3,182.8 83.8,182.8 84.3,182.8 84.8,182.8 85.3,182.8 85.8,182.8 86.3,182.8 86.8,182.8 87.3,182.8 87.8,182.8 88.3,182.8 88.8,182.8 89.3,182.8 89.8,182.8 90.3,182.8 90.8,182.8 91.3,182.8 91.8,182.8 92.3,182.8 92.8,182.8 93.3,182.8 93.8,182.8 94.3,182.8 94.8,182.8 95.3,182.8 95.8,182.8 96.3,182.8 96.8,182.8 97.3,182.8 97.8,182.8 98.3,182.8 98.8,182.8 99.3,182.8 99.8,182.8 100.3,182.8 100.8,182.8 101.3,182.8 101.8,182.8 102.3,182.8 102.8,182.8 103.3,182.8 103.8,182.8 104.3,182.8 104.8,182.8 105.3,182.8 105.8,182.8 106.3,182.8 106.8,182.8 107.3,182.8 107.8,182.8 108.3,182.8 108.8,182.8 109.3,182.8 109.8,182.8 110.3,182.8 110.8,182.8 111.3,182.8 111.8,182.8 112.3,182.8 112.8,182.8 113.3,182.8 113.8,182.8 114.3,182.8 114.8,182.8 115.3,182.8 115.8,182.8 116.3,182.8 116.8,182.8 117.3,182.8 117.8,182.8 118.3,182.8 118.8,182.8 119.3,182.8 119.8,182.8 120.3,182.8 120.8,182.8 121.3,182.8 121.8,182.8 122.3,182.8 122.8,182.8 123.3,182.8 123.8,182.8 124.3,182.8 124.8,182.8 125.3,182.8 125.8,182.8 126.3,182.8 126.8,182.8 127.3,182.8 127.8,182.8 128.3,182.8 128.8,182.8 129.3,182.8 129.8,182.8 130.3,182.8 130.8,182.8 131.3,182.8 131.8,182.8 132.3,182.8 132.8,182.8 133.3,182.8 133.8,182.8 134.3,182.8 134.8,182.8 135.3,182.8 135.8,182.8 136.3,182.8 136.8,182.8 137.3,182.8 137.8,182.8 138.3,182.8 138.8,182.8 139.3,182.8 139.8,182.8 140.3,182.8 140.8,182.8 141.3,182.8 141.8,182.8 142.3,182.8 142.8,182.8 143.3,182.8 143.8,182.8 144.3,182.8 144.8,182.8 145.3,182.8 145.8,182.8 146.3,182.8 146.8,182.8 147.3,182.8 147.8,182.8 148.3,182.8 148.8,182.8 149.3,182.8 149.8,182.8 150.3,182.8 150.8,182.8 151.3,182.8 151.8,182.8 152.3,182.8 152.8,182.8 153.3,182.8 153.8,182.8 154.3,182.8 154.8,182.8 155.3,182.8 155.8,182.8 156.3,182.8 156.8,182.8 157.3,182.8 157.8,182.8 158.3,182.8 158.8,182.8 159.3,182.8 159.8,182.8 160.3,182.8 160.8,182.8 161.3,182.8 161.8,182.8 162.3,182.8 162.9,182.8 163.4,182.8 163.9,182.8 164.4,182.8 164.9,182.8 165.4,182.8 165.9,182.8 166.4,182.8 166.9,182.8 167.4,182.8 167.9,182.8 168.4,182.8 168.9,182.8 169.4,182.8 169.9,182.8 170.4,182.8 170.9,182.8 171.4,182.8 171.9,182.8 172.4,182.8 172.9,182.8 173.4,182.8 173.9,182.8 174.4,182.8 174.9,182.8 175.4,182.8 175.9,182.8 176.4,182.8 176.9,182.8 177.4,182.8 177.9,182.8 178.4,182.8 178.9,182.8 179.4,182.8 179.9,183.2 180.4,183.5 180.9,183.7 181.4,183.8 181.9,183.7 182.4,183.5 182.9,183.2 183.4,182.9 183.9,182.5 184.4,182.0 184.9,181.5 185.4,180.9 185.9,180.3 186.4,179.7 186.9,179.0 187.4,178.4 187.9,177.7 188.4,177.0 188.9,176.3 189.4,175.6 189.9,175.0 190.4,174.3 190.9,173.7 191.4,173.1 191.9,172.6 192.4,172.1 192.9,171.7 193.4,171.3 193.9,171.0 194.4,170.7 194.9,170.6 195.4,170.5 195.9,170.5 196.4,170.5 196.9,170.5 197.4,170.5 197.9,170.5 198.4,170.5 198.9,170.5 199.4,170.5 199.9,170.5 200.4,170.5 200.9,170.5 201.4,170.5 201.9,170.5 202.4,170.5 202.9,170.5 203.4,170.5 203.9,170.5 204.4,170.5 204.9,170.5 205.4,170.5 205.9,170.5 206.4,170.5 206.9,170.5 207.4,170.5 207.9,170.5 208.4,170.5 208.9,170.5 209.4,170.5 209.9,170.5 210.4,170.5 210.9,170.5 211.4,170.5 211.9,170.5 212.4,170.5 212.9,170.5 213.4,170.5 213.9,170.5 214.4,170.5 214.9,170.5 215.4,170.5 215.9,170.5 216.4,170.5 216.9,170.5 217.4,170.5 217.9,170.5 218.4,170.5 218.9,170.5 219.4,170.5 219.9,170.5 220.4,170.5 220.9,170.5 221.4,170.5 221.9,170.5 222.4,170.5 222.9,170.5 223.4,170.5 223.9,170.5 224.4,170.5 224.9,170.5 225.4,170.5 225.9,170.5 226.4,170.5 226.9,170.5 227.4,170.5 227.9,170.5 228.4,170.5 228.9,170.5 229.4,170.5 229.9,170.5 230.4,170.5 230.9,170.5 231.4,170.5 231.9,170.5 232.4,170.5 232.9,170.5 233.4,170.5 233.9,170.5 234.4,170.5 234.9,170.5 235.4,170.5 235.9,170.5 236.4,170.5 236.9,170.5 237.4,170.5 237.9,170.5 238.4,170.5 238.9,170.5 239.4,170.5 239.9,170.5 240.4,170.5 240.9,170.5 241.4,170.5 241.9,170.5 242.4,170.5 242.9,170.5 243.4,170.5 243.9,170.5 244.4,170.5 244.9,170.5 245.4,170.5 245.9,170.5 246.4,170.5 246.9,170.5 247.4,170.5 247.9,170.5 248.4,170.5 248.9,170.5 249.4,170.5 249.9,170.5 250.4,170.5 250.9,170.5 251.4,170.5 251.9,170.5 252.4,170.5 252.9,170.5 253.4,170.5 253.9,170.5 254.4,170.5 254.9,170.5 255.4,170.5 255.9,170.5 256.4,170.5 256.9,170.5 257.4,170.5 257.9,170.5 258.4,170.5 258.9,170.5 259.4,170.5 259.9,170.5 260.4,170.5 260.9,170.5 261.4,170.5 261.9,170.5 262.4,170.5 262.9,170.5 263.4,170.5 263.9,170.5 264.4,170.5 264.9,170.5 265.4,170.5 265.9,170.5 266.4,170.5 266.9,170.5 267.4,170.5 267.9,170.5 268.4,170.5 268.9,170.5 269.4,170.5 269.9,170.5 270.4,170.5 270.9,170.5 271.4,170.5 271.9,170.5 272.4,170.5 272.9,170.5 273.4,170.5 273.9,170.5 274.4,170.5 274.9,170.5 275.4,170.5 275.9,170.5 276.4,170.5 276.9,170.5 277.4,170.5 277.9,170.5 278.4,170.5 278.9,170.5 279.4,170.5 279.9,170.5 280.4,170.5 280.9,170.5 281.4,170.5 281.9,170.5 282.4,170.5 282.9,170.5 283.4,170.5 283.9,170.5 284.4,170.5 284.9,170.5 285.4,170.5 285.9,170.5 286.4,170.5 286.9,170.5 287.4,170.5 287.9,170.5 288.4,170.5 288.9,170.5 289.4,170.5 289.9,170.5 290.4,170.5 290.9,170.5 291.4,170.5 291.9,170.5 292.4,170.5 292.9,170.5 293.4,170.5 293.9,170.5 294.4,170.5 294.9,170.5 295.4,170.5 295.9,170.5 296.4,170.5 296.9,170.5 297.4,170.5 297.9,170.5 298.4,170.5 298.9,170.5 299.4,170.5 299.9,170.5 300.4,170.5 300.9,170.5 301.4,170.5 301.9,170.5 302.4,170.5 302.9,170.5 303.4,170.5 303.9,170.5 304.4,170.5 304.9,170.5 305.4,170.5 305.9,170.5 306.4,170.5 306.9,170.5 307.4,170.5 307.9,170.5 308.4,170.5 308.9,170.5 309.4,170.5 309.9,170.5 310.4,170.5 310.9,170.5 311.4,170.5 311.9,170.5 312.4,170.5 312.9,170.5 313.4,170.5 313.9,170.5 314.4,170.5 314.9,170.5 315.4,170.5 315.9,170.5 316.4,170.5 316.9,170.5 317.4,170.5 317.9,170.5 318.4,170.5 318.9,170.5 319.4,170.5 319.9,170.5 320.4,170.5 320.9,170.5 321.4,170.5 321.9,170.5 322.4,170.5 322.9,170.5 323.4,170.5 323.9,170.5 324.4,170.5 324.9,170.5 325.4,170.5 325.9,170.5 326.4,170.5 326.9,170.5 327.4,170.5 327.9,170.5 328.4,170.5 328.9,170.5 329.4,170.5 329.9,170.5 330.4,170.5 330.9,170.5 331.4,170.5 331.9,170.5 332.4,170.5 332.9,170.5 333.4,170.5 333.9,170.5 334.4,170.5 334.9,170.5 335.4,170.5 335.9,170.5 336.4,170.5 336.9,170.5 337.4,170.5 337.9,170.5 338.4,170.5 338.9,170.5 339.4,170.5 339.9,170.5 340.4,170.5 340.9,170.5 341.4,170.5 341.9,170.5 342.4,170.5 342.9,170.5 343.4,170.5 343.9,170.5 344.4,170.5 344.9,170.5 345.4,170.5 345.9,170.5 346.4,170.5 346.9,170.5 347.4,170.5 347.9,170.5 348.4,170.5 348.9,170.5 349.4,170.5 349.9,170.5 350.4,170.5 350.9,170.5 351.4,170.5 351.9,170.5 352.4,170.5 352.9,170.5 353.4,170.5 353.9,170.5 354.4,170.5 354.9,170.5 355.4,170.5 355.9,170.5 356.4,170.5 356.9,170.5 357.4,170.5 357.9,170.5 358.4,170.5 358.9,170.5 359.4,170.5 359.9,170.5 360.4,170.5 360.9,170.5 361.4,170.5 361.9,170.5 362.4,170.5 362.9,170.5 363.4,170.5 363.9,170.5 364.4,170.5 364.9,170.5 365.4,170.5 365.9,170.5 366.4,170.5 366.9,170.5 367.4,170.5 367.9,170.5 368.4,170.5 368.9,170.5 369.4,170.5 369.9,170.5 370.4,170.5 370.9,170.5 371.4,170.5 371.9,170.5 372.4,170.5 372.9,170.5 373.4,170.5 373.9,170.5 374.4,170.5 374.9,170.5 375.4,170.5 375.9,170.5 376.4,170.5 376.9,170.5 377.4,170.5 377.9,170.5 378.4,170.5 378.9,170.5 379.4,170.5 379.9,170.5 380.4,170.5 380.9,170.5 381.4,170.5 381.9,170.5 382.4,170.5 382.9,170.5 383.4,170.5 383.9,170.5 384.4,170.5 384.9,170.5 385.4,170.5 385.9,170.5 386.4,170.5 386.9,170.5 387.4,170.5 387.9,170.5 388.4,170.5 388.9,170.5 389.4,170.5 390.0,170.5 390.5,170.5 391.0,170.5 391.5,170.5 392.0,170.5 392.5,170.5 393.0,170.5 393.5,170.5 394.0,170.5 394.5,170.5 395.0,170.5 395.5,170.5 396.0,170.5 396.5,170.5 397.0,170.5 397.5,170.5 398.0,170.5 398.5,170.5 399.0,170.5 399.5,170.5 400.0,170.5 400.5,170.5 401.0,170.5 401.5,170.5 402.0,170.5 402.5,170.5 403.0,170.5 403.5,170.5 404.0,170.5 404.5,170.5 405.0,170.5 405.5,170.5 406.0,170.5 406.5,170.5 407.0,170.5 407.5,170.5 408.0,170.5 408.5,170.5 409.0,170.5 409.5,170.5 410.0,170.5 410.5,170.5 411.0,170.5 411.5,170.5 412.0,170.5 412.5,170.5 413.0,170.5 413.5,170.5 414.0,170.5 414.5,170.5 415.0,170.5 415.5,170.5 416.0,170.5 416.5,170.5 417.0,170.5 417.5,170.5 418.0,170.5 418.5,170.5 419.0,170.5 419.5,170.5 420.0,170.5 420.5,170.5 421.0,170.5 421.5,170.5 422.0,170.5 422.5,170.5 423.0,170.5 423.5,170.5 424.0,170.5 424.5,170.5 425.0,170.5 425.5,170.5 426.0,170.5 426.5,170.5 427.0,170.5 427.5,170.5 428.0,170.5 428.5,170.5 429.0,170.5 429.5,170.5 430.0,170.5 430.5,170.5 431.0,170.5 431.5,170.5 432.0,170.5 432.5,170.5 433.0,170.5 433.5,170.5 434.0,170.5 434.5,170.5 435.0,170.5 435.5,170.5 436.0,170.5 436.5,170.5 437.0,170.5 437.5,170.5 438.0,170.5 438.5,170.5 439.0,170.5 439.5,170.5 440.0,170.5 440.5,170.5 441.0,170.5 441.5,170.5 442.0,170.5 442.5,170.5 443.0,170.5 443.5,170.5 444.0,170.5 444.5,170.5 445.0,170.8 445.5,171.4 446.0,172.0 446.5,172.5 447.0,173.1 447.5,173.7 448.0,174.3 448.5,174.8 449.0,175.4 449.5,176.0 450.0,176.6 450.5,177.1 451.0,177.7 451.5,178.3 452.0,178.8 452.5,179.4 453.0,180.0 453.5,180.6 454.0,181.1 454.5,181.7 455.0,182.3 455.5,182.9 456.0,183.0 456.5,183.0 457.0,183.0 457.5,183.0 458.0,183.0 458.5,183.0 459.0,183.0 459.5,183.0 460.0,183.0 460.5,183.0 461.0,183.0 461.5,183.0 462.0,183.0 462.5,183.0 463.0,183.0 463.5,183.0 464.0,183.0 464.5,183.0 465.0,183.0 465.5,183.0 466.0,183.0 466.5,183.0 467.0,183.0 467.5,183.0 468.0,183.0 468.5,183.0 469.0,183.0 469.5,183.0 470.0,183.0 470.5,183.0 471.0,183.0 471.5,183.0 472.0,183.0 472.5,183.0 473.0,183.0 473.5,183.0 474.0,183.0 474.5,183.0 475.0,183.0 475.5,183.0 476.0,183.0 476.5,183.0 477.0,183.0 477.5,183.0 478.0,183.0 478.5,183.0 479.0,183.0 479.5,183.0 480.0,183.0 480.5,183.0 481.0,183.0 481.5,183.0 482.0,183.0 482.5,183.0 483.0,183.0 483.5,183.0 484.0,183.0 484.5,183.0 485.0,183.0 485.5,183.0 486.0,183.0 486.5,183.0 487.0,183.0 487.5,183.0 488.0,183.0 488.5,183.0 489.0,183.0 489.5,183.0 490.0,183.0 490.5,183.0 491.0,183.0 491.5,183.0 492.0,183.0 492.5,183.0 493.0,183.0 493.5,183.0 494.0,183.0 494.5,183.0 495.0,183.0 495.5,183.0 496.0,183.0 496.5,183.0 497.0,183.0 497.5,183.0 498.0,183.0 498.5,183.0 499.0,183.0 499.5,183.0 500.0,183.0 500.5,183.0 501.0,183.0 501.5,183.0 502.0,183.0 502.5,183.0 503.0,183.0" fill="none" stroke="#000" stroke-width="1.3" stroke-linejoin="round" />
<line x1="441.6" y1="183.30" x2="456.0" y2="183.30" stroke="#2020ff" stroke-width="1.3"/>
<line x1="48.8" y1="292.30" x2="503.5" y2="292.30" stroke="#333" stroke-width="1" stroke-dasharray="1.2,1.6"/>
<polyline points="49.30,291.00 180.40,291.00 181.50,289.00 183.80,279.00 185.50,273.00 187.50,268.50 189.50,265.20 191.00,263.80 192.30,263.40 194.00,264.20 196.00,266.00 198.40,267.40 200.50,267.20 202.50,266.60 204.30,266.40 206.50,267.10 209.00,267.50 212.00,267.40 215.00,266.90 218.00,267.40 222.00,267.60 443.00,267.60 444.50,268.60 447.00,272.50 456.30,291.80 503.00,291.80" fill="none" stroke="#000" stroke-width="1.7" stroke-linejoin="round" />
<polyline points="49.30,336.30 189.50,336.30 441.00,306.60 454.00,306.60 457.00,307.30 460.00,308.90 463.00,311.20 468.60,316.30 476.00,322.30 483.20,327.90 488.00,332.50 491.50,336.30" fill="none" stroke="#000" stroke-width="1.3" stroke-linejoin="round" />
<polyline points="441.3,336.5 441.3,316.0 503.0,316.0" fill="none" stroke="#ff2020" stroke-width="1.3" stroke-linejoin="round" />
<line x1="179.5" y1="12.3" x2="179.5" y2="336.5" stroke="#444" stroke-width="1" stroke-dasharray="1.2,1.6"/>
<line x1="441.0" y1="29.5" x2="441.0" y2="336.5" stroke="#ff3030" stroke-width="1.1" stroke-dasharray="1.5,1.3"/>
<rect x="475.2" y="29.3" width="26.2" height="24.3" fill="#fff"/>
<rect x="442.3" y="137" width="19.8" height="7" fill="#fff"/></g>
<g id="axes"><line x1="48.20" y1="28.50" x2="504.10" y2="28.50" stroke="#1a1a1a" stroke-width="1.15"/>
<line x1="48.20" y1="117.50" x2="504.10" y2="117.50" stroke="#1a1a1a" stroke-width="1.15"/>
<line x1="48.90" y1="28.50" x2="48.90" y2="117.50" stroke="#3c3c3c" stroke-width="1.8"/>
<line x1="503.50" y1="28.50" x2="503.50" y2="117.50" stroke="#1a1a1a" stroke-width="1.15"/>
<line x1="48.20" y1="138.50" x2="504.10" y2="138.50" stroke="#1a1a1a" stroke-width="1.15"/>
<line x1="48.20" y1="227.50" x2="504.10" y2="227.50" stroke="#1a1a1a" stroke-width="1.15"/>
<line x1="48.90" y1="138.50" x2="48.90" y2="227.50" stroke="#3c3c3c" stroke-width="1.8"/>
<line x1="503.50" y1="138.50" x2="503.50" y2="227.50" stroke="#1a1a1a" stroke-width="1.15"/>
<line x1="48.20" y1="247.50" x2="504.10" y2="247.50" stroke="#1a1a1a" stroke-width="1.15"/>
<line x1="48.20" y1="336.50" x2="504.10" y2="336.50" stroke="#1a1a1a" stroke-width="1.15"/>
<line x1="48.90" y1="247.50" x2="48.90" y2="336.50" stroke="#3c3c3c" stroke-width="1.8"/>
<line x1="503.50" y1="247.50" x2="503.50" y2="336.50" stroke="#1a1a1a" stroke-width="1.15"/>
<line x1="48.80" y1="117.50" x2="48.80" y2="123.50" stroke="#222" stroke-width="1.3"/>
<line x1="65.04" y1="117.50" x2="65.04" y2="120.70" stroke="#222" stroke-width="1.3"/>
<line x1="81.28" y1="117.50" x2="81.28" y2="123.50" stroke="#222" stroke-width="1.3"/>
<line x1="97.52" y1="117.50" x2="97.52" y2="120.70" stroke="#222" stroke-width="1.3"/>
<line x1="113.76" y1="117.50" x2="113.76" y2="123.50" stroke="#222" stroke-width="1.3"/>
<line x1="130.00" y1="117.50" x2="130.00" y2="120.70" stroke="#222" stroke-width="1.3"/>
<line x1="146.24" y1="117.50" x2="146.24" y2="123.50" stroke="#222" stroke-width="1.3"/>
<line x1="162.47" y1="117.50" x2="162.47" y2="120.70" stroke="#222" stroke-width="1.3"/>
<line x1="178.71" y1="117.50" x2="178.71" y2="123.50" stroke="#222" stroke-width="1.3"/>
<line x1="194.95" y1="117.50" x2="194.95" y2="120.70" stroke="#222" stroke-width="1.3"/>
<line x1="211.19" y1="117.50" x2="211.19" y2="123.50" stroke="#222" stroke-width="1.3"/>
<line x1="227.43" y1="117.50" x2="227.43" y2="120.70" stroke="#222" stroke-width="1.3"/>
<line x1="243.67" y1="117.50" x2="243.67" y2="123.50" stroke="#222" stroke-width="1.3"/>
<line x1="259.91" y1="117.50" x2="259.91" y2="120.70" stroke="#222" stroke-width="1.3"/>
<line x1="276.15" y1="117.50" x2="276.15" y2="123.50" stroke="#222" stroke-width="1.3"/>
<line x1="292.39" y1="117.50" x2="292.39" y2="120.70" stroke="#222" stroke-width="1.3"/>
<line x1="308.63" y1="117.50" x2="308.63" y2="123.50" stroke="#222" stroke-width="1.3"/>
<line x1="324.87" y1="117.50" x2="324.87" y2="120.70" stroke="#222" stroke-width="1.3"/>
<line x1="341.11" y1="117.50" x2="341.11" y2="123.50" stroke="#222" stroke-width="1.3"/>
<line x1="357.35" y1="117.50" x2="357.35" y2="120.70" stroke="#222" stroke-width="1.3"/>
<line x1="373.59" y1="117.50" x2="373.59" y2="123.50" stroke="#222" stroke-width="1.3"/>
<line x1="389.82" y1="117.50" x2="389.82" y2="120.70" stroke="#222" stroke-width="1.3"/>
<line x1="406.06" y1="117.50" x2="406.06" y2="123.50" stroke="#222" stroke-width="1.3"/>
<line x1="422.30" y1="117.50" x2="422.30" y2="120.70" stroke="#222" stroke-width="1.3"/>
<line x1="438.54" y1="117.50" x2="438.54" y2="123.50" stroke="#222" stroke-width="1.3"/>
<line x1="454.78" y1="117.50" x2="454.78" y2="120.70" stroke="#222" stroke-width="1.3"/>
<line x1="471.02" y1="117.50" x2="471.02" y2="123.50" stroke="#222" stroke-width="1.3"/>
<line x1="487.26" y1="117.50" x2="487.26" y2="120.70" stroke="#222" stroke-width="1.3"/>
<line x1="503.50" y1="117.50" x2="503.50" y2="123.50" stroke="#222" stroke-width="1.3"/>
<line x1="48.80" y1="227.50" x2="48.80" y2="233.50" stroke="#222" stroke-width="1.3"/>
<line x1="65.04" y1="227.50" x2="65.04" y2="230.70" stroke="#222" stroke-width="1.3"/>
<line x1="81.28" y1="227.50" x2="81.28" y2="233.50" stroke="#222" stroke-width="1.3"/>
<line x1="97.52" y1="227.50" x2="97.52" y2="230.70" stroke="#222" stroke-width="1.3"/>
<line x1="113.76" y1="227.50" x2="113.76" y2="233.50" stroke="#222" stroke-width="1.3"/>
<line x1="130.00" y1="227.50" x2="130.00" y2="230.70" stroke="#222" stroke-width="1.3"/>
<line x1="146.24" y1="227.50" x2="146.24" y2="233.50" stroke="#222" stroke-width="1.3"/>
<line x1="162.47" y1="227.50" x2="162.47" y2="230.70" stroke="#222" stroke-width="1.3"/>
<line x1="178.71" y1="227.50" x2="178.71" y2="233.50" stroke="#222" stroke-width="1.3"/>
<line x1="194.95" y1="227.50" x2="194.95" y2="230.70" stroke="#222" stroke-width="1.3"/>
<line x1="211.19" y1="227.50" x2="211.19" y2="233.50" stroke="#222" stroke-width="1.3"/>
<line x1="227.43" y1="227.50" x2="227.43" y2="230.70" stroke="#222" stroke-width="1.3"/>
<line x1="243.67" y1="227.50" x2="243.67" y2="233.50" stroke="#222" stroke-width="1.3"/>
<line x1="259.91" y1="227.50" x2="259.91" y2="230.70" stroke="#222" stroke-width="1.3"/>
<line x1="276.15" y1="227.50" x2="276.15" y2="233.50" stroke="#222" stroke-width="1.3"/>
<line x1="292.39" y1="227.50" x2="292.39" y2="230.70" stroke="#222" stroke-width="1.3"/>
<line x1="308.63" y1="227.50" x2="308.63" y2="233.50" stroke="#222" stroke-width="1.3"/>
<line x1="324.87" y1="227.50" x2="324.87" y2="230.70" stroke="#222" stroke-width="1.3"/>
<line x1="341.11" y1="227.50" x2="341.11" y2="233.50" stroke="#222" stroke-width="1.3"/>
<line x1="357.35" y1="227.50" x2="357.35" y2="230.70" stroke="#222" stroke-width="1.3"/>
<line x1="373.59" y1="227.50" x2="373.59" y2="233.50" stroke="#222" stroke-width="1.3"/>
<line x1="389.82" y1="227.50" x2="389.82" y2="230.70" stroke="#222" stroke-width="1.3"/>
<line x1="406.06" y1="227.50" x2="406.06" y2="233.50" stroke="#222" stroke-width="1.3"/>
<line x1="422.30" y1="227.50" x2="422.30" y2="230.70" stroke="#222" stroke-width="1.3"/>
<line x1="438.54" y1="227.50" x2="438.54" y2="233.50" stroke="#222" stroke-width="1.3"/>
<line x1="454.78" y1="227.50" x2="454.78" y2="230.70" stroke="#222" stroke-width="1.3"/>
<line x1="471.02" y1="227.50" x2="471.02" y2="233.50" stroke="#222" stroke-width="1.3"/>
<line x1="487.26" y1="227.50" x2="487.26" y2="230.70" stroke="#222" stroke-width="1.3"/>
<line x1="503.50" y1="227.50" x2="503.50" y2="233.50" stroke="#222" stroke-width="1.3"/>
<line x1="48.80" y1="336.50" x2="48.80" y2="342.50" stroke="#222" stroke-width="1.3"/>
<line x1="65.04" y1="336.50" x2="65.04" y2="339.70" stroke="#222" stroke-width="1.3"/>
<line x1="81.28" y1="336.50" x2="81.28" y2="342.50" stroke="#222" stroke-width="1.3"/>
<line x1="97.52" y1="336.50" x2="97.52" y2="339.70" stroke="#222" stroke-width="1.3"/>
<line x1="113.76" y1="336.50" x2="113.76" y2="342.50" stroke="#222" stroke-width="1.3"/>
<line x1="130.00" y1="336.50" x2="130.00" y2="339.70" stroke="#222" stroke-width="1.3"/>
<line x1="146.24" y1="336.50" x2="146.24" y2="342.50" stroke="#222" stroke-width="1.3"/>
<line x1="162.47" y1="336.50" x2="162.47" y2="339.70" stroke="#222" stroke-width="1.3"/>
<line x1="178.71" y1="336.50" x2="178.71" y2="342.50" stroke="#222" stroke-width="1.3"/>
<line x1="194.95" y1="336.50" x2="194.95" y2="339.70" stroke="#222" stroke-width="1.3"/>
<line x1="211.19" y1="336.50" x2="211.19" y2="342.50" stroke="#222" stroke-width="1.3"/>
<line x1="227.43" y1="336.50" x2="227.43" y2="339.70" stroke="#222" stroke-width="1.3"/>
<line x1="243.67" y1="336.50" x2="243.67" y2="342.50" stroke="#222" stroke-width="1.3"/>
<line x1="259.91" y1="336.50" x2="259.91" y2="339.70" stroke="#222" stroke-width="1.3"/>
<line x1="276.15" y1="336.50" x2="276.15" y2="342.50" stroke="#222" stroke-width="1.3"/>
<line x1="292.39" y1="336.50" x2="292.39" y2="339.70" stroke="#222" stroke-width="1.3"/>
<line x1="308.63" y1="336.50" x2="308.63" y2="342.50" stroke="#222" stroke-width="1.3"/>
<line x1="324.87" y1="336.50" x2="324.87" y2="339.70" stroke="#222" stroke-width="1.3"/>
<line x1="341.11" y1="336.50" x2="341.11" y2="342.50" stroke="#222" stroke-width="1.3"/>
<line x1="357.35" y1="336.50" x2="357.35" y2="339.70" stroke="#222" stroke-width="1.3"/>
<line x1="373.59" y1="336.50" x2="373.59" y2="342.50" stroke="#222" stroke-width="1.3"/>
<line x1="389.82" y1="336.50" x2="389.82" y2="339.70" stroke="#222" stroke-width="1.3"/>
<line x1="406.06" y1="336.50" x2="406.06" y2="342.50" stroke="#222" stroke-width="1.3"/>
<line x1="422.30" y1="336.50" x2="422.30" y2="339.70" stroke="#222" stroke-width="1.3"/>
<line x1="438.54" y1="336.50" x2="438.54" y2="342.50" stroke="#222" stroke-width="1.3"/>
<line x1="454.78" y1="336.50" x2="454.78" y2="339.70" stroke="#222" stroke-width="1.3"/>
<line x1="471.02" y1="336.50" x2="471.02" y2="342.50" stroke="#222" stroke-width="1.3"/>
<line x1="487.26" y1="336.50" x2="487.26" y2="339.70" stroke="#222" stroke-width="1.3"/>
<line x1="503.50" y1="336.50" x2="503.50" y2="342.50" stroke="#222" stroke-width="1.3"/>
<line x1="43.20" y1="28.50" x2="48.80" y2="28.50" stroke="#000" stroke-width="1.3"/>
<line x1="43.20" y1="50.75" x2="48.80" y2="50.75" stroke="#000" stroke-width="1.3"/>
<line x1="43.20" y1="73.00" x2="48.80" y2="73.00" stroke="#000" stroke-width="1.3"/>
<line x1="43.20" y1="95.25" x2="48.80" y2="95.25" stroke="#000" stroke-width="1.3"/>
<line x1="43.20" y1="117.50" x2="48.80" y2="117.50" stroke="#000" stroke-width="1.3"/>
<line x1="45.80" y1="39.62" x2="48.80" y2="39.62" stroke="#000" stroke-width="1.3"/>
<line x1="45.80" y1="61.88" x2="48.80" y2="61.88" stroke="#000" stroke-width="1.3"/>
<line x1="45.80" y1="84.12" x2="48.80" y2="84.12" stroke="#000" stroke-width="1.3"/>
<line x1="45.80" y1="106.38" x2="48.80" y2="106.38" stroke="#000" stroke-width="1.3"/>
<line x1="503.50" y1="28.50" x2="509.10" y2="28.50" stroke="#000" stroke-width="1.3"/>
<line x1="503.50" y1="50.75" x2="509.10" y2="50.75" stroke="#000" stroke-width="1.3"/>
<line x1="503.50" y1="73.00" x2="509.10" y2="73.00" stroke="#000" stroke-width="1.3"/>
<line x1="503.50" y1="95.25" x2="509.10" y2="95.25" stroke="#000" stroke-width="1.3"/>
<line x1="503.50" y1="117.50" x2="509.10" y2="117.50" stroke="#000" stroke-width="1.3"/>
<line x1="503.50" y1="39.62" x2="506.50" y2="39.62" stroke="#000" stroke-width="1.3"/>
<line x1="503.50" y1="61.88" x2="506.50" y2="61.88" stroke="#000" stroke-width="1.3"/>
<line x1="503.50" y1="84.12" x2="506.50" y2="84.12" stroke="#000" stroke-width="1.3"/>
<line x1="503.50" y1="106.38" x2="506.50" y2="106.38" stroke="#000" stroke-width="1.3"/>
<line x1="43.20" y1="138.50" x2="48.80" y2="138.50" stroke="#000" stroke-width="1.3"/>
<line x1="43.20" y1="160.75" x2="48.80" y2="160.75" stroke="#000" stroke-width="1.3"/>
<line x1="43.20" y1="183.00" x2="48.80" y2="183.00" stroke="#000" stroke-width="1.3"/>
<line x1="43.20" y1="205.25" x2="48.80" y2="205.25" stroke="#000" stroke-width="1.3"/>
<line x1="43.20" y1="227.50" x2="48.80" y2="227.50" stroke="#000" stroke-width="1.3"/>
<line x1="45.80" y1="149.62" x2="48.80" y2="149.62" stroke="#000" stroke-width="1.3"/>
<line x1="45.80" y1="171.88" x2="48.80" y2="171.88" stroke="#000" stroke-width="1.3"/>
<line x1="45.80" y1="194.12" x2="48.80" y2="194.12" stroke="#000" stroke-width="1.3"/>
<line x1="45.80" y1="216.38" x2="48.80" y2="216.38" stroke="#000" stroke-width="1.3"/>
<line x1="43.20" y1="247.50" x2="48.80" y2="247.50" stroke="#000" stroke-width="1.3"/>
<line x1="43.20" y1="269.75" x2="48.80" y2="269.75" stroke="#000" stroke-width="1.3"/>
<line x1="43.20" y1="292.00" x2="48.80" y2="292.00" stroke="#000" stroke-width="1.3"/>
<line x1="43.20" y1="314.25" x2="48.80" y2="314.25" stroke="#000" stroke-width="1.3"/>
<line x1="43.20" y1="336.50" x2="48.80" y2="336.50" stroke="#000" stroke-width="1.3"/>
<line x1="45.80" y1="258.62" x2="48.80" y2="258.62" stroke="#000" stroke-width="1.3"/>
<line x1="45.80" y1="280.88" x2="48.80" y2="280.88" stroke="#000" stroke-width="1.3"/>
<line x1="45.80" y1="303.12" x2="48.80" y2="303.12" stroke="#000" stroke-width="1.3"/>
<line x1="45.80" y1="325.38" x2="48.80" y2="325.38" stroke="#000" stroke-width="1.3"/>
<line x1="503.50" y1="247.50" x2="509.10" y2="247.50" stroke="#000" stroke-width="1.3"/>
<line x1="503.50" y1="277.17" x2="509.10" y2="277.17" stroke="#000" stroke-width="1.3"/>
<line x1="503.50" y1="306.83" x2="509.10" y2="306.83" stroke="#000" stroke-width="1.3"/>
<line x1="503.50" y1="336.50" x2="509.10" y2="336.50" stroke="#000" stroke-width="1.3"/>
<line x1="503.50" y1="262.33" x2="506.50" y2="262.33" stroke="#000" stroke-width="1.3"/>
<line x1="503.50" y1="292.00" x2="506.50" y2="292.00" stroke="#000" stroke-width="1.3"/>
<line x1="503.50" y1="321.67" x2="506.50" y2="321.67" stroke="#000" stroke-width="1.3"/>
<line x1="48.80" y1="336.50" x2="441.30" y2="336.50" stroke="#b01818" stroke-width="1.15"/></g>
<g id="arrows"><line x1="126.40" y1="84.80" x2="114.44" y2="73.86" stroke="#000" stroke-width="1.0"/>
<polygon points="108.90,68.80 116.93,72.62 113.42,76.45" fill="#000"/>
<line x1="229.00" y1="117.30" x2="221.65" y2="111.66" stroke="#000" stroke-width="1.0"/>
<polygon points="215.70,107.10 224.03,110.21 220.86,114.34" fill="#000"/>
<line x1="365.20" y1="25.40" x2="352.73" y2="38.42" stroke="#0000ff" stroke-width="1.3"/>
<polygon points="347.20,44.20 351.26,35.62 355.59,39.77" fill="#0000ff"/>
<line x1="465.70" y1="78.40" x2="453.83" y2="86.42" stroke="#0000ff" stroke-width="1.3"/>
<polygon points="447.20,90.90 452.98,83.38 456.34,88.35" fill="#0000ff"/>
<line x1="442.40" y1="154.50" x2="435.63" y2="163.43" stroke="#0000ff" stroke-width="1.3"/>
<polygon points="430.80,169.80 433.85,160.82 438.63,164.44" fill="#0000ff"/>
<line x1="461.40" y1="208.40" x2="448.76" y2="198.75" stroke="#000" stroke-width="1.0"/>
<polygon points="442.80,194.20 451.13,197.29 447.98,201.42" fill="#000"/>
<line x1="166.20" y1="260.20" x2="177.30" y2="268.51" stroke="#000" stroke-width="1.0"/>
<polygon points="183.30,273.00 174.94,269.99 178.05,265.82" fill="#000"/>
<line x1="225.20" y1="313.80" x2="237.42" y2="323.07" stroke="#000" stroke-width="1.0"/>
<polygon points="243.40,327.60 235.06,324.54 238.20,320.39" fill="#000"/>
<line x1="408.40" y1="292.90" x2="434.97" y2="319.80" stroke="#ff0000" stroke-width="1.4"/>
<polygon points="441.30,326.20 431.96,321.37 436.58,316.80" fill="#ff0000"/>
<line x1="404.40" y1="238.60" x2="435.00" y2="238.60" stroke="#ff0000" stroke-width="1.2"/>
<polygon points="441.00,238.60 434.00,241.10 434.00,236.10" fill="#ff0000"/>
<line x1="207.70" y1="20.30" x2="187.50" y2="20.30" stroke="#111" stroke-width="1.0"/>
<polygon points="180.30,20.30 188.50,16.80 188.50,23.80" fill="#111"/></g>
<g id="text"><text x="37.80" y="32.30" font-family="Liberation Sans, Arial, sans-serif" font-weight="bold" font-size="10.75" text-anchor="end" fill="#000" >25</text>
<text x="37.80" y="54.55" font-family="Liberation Sans, Arial, sans-serif" font-weight="bold" font-size="10.75" text-anchor="end" fill="#000" >0</text>
<text x="37.80" y="76.80" font-family="Liberation Sans, Arial, sans-serif" font-weight="bold" font-size="10.75" text-anchor="end" fill="#000" >-25</text>
<text x="37.80" y="99.05" font-family="Liberation Sans, Arial, sans-serif" font-weight="bold" font-size="10.75" text-anchor="end" fill="#000" >-50</text>
<text x="37.80" y="121.30" font-family="Liberation Sans, Arial, sans-serif" font-weight="bold" font-size="10.75" text-anchor="end" fill="#000" >-75</text>
<text x="37.80" y="142.30" font-family="Liberation Sans, Arial, sans-serif" font-weight="bold" font-size="10.75" text-anchor="end" fill="#000" >15.0</text>
<text x="37.80" y="164.55" font-family="Liberation Sans, Arial, sans-serif" font-weight="bold" font-size="10.75" text-anchor="end" fill="#000" >7.5</text>
<text x="37.80" y="186.80" font-family="Liberation Sans, Arial, sans-serif" font-weight="bold" font-size="10.75" text-anchor="end" fill="#000" >0.0</text>
<text x="37.80" y="209.05" font-family="Liberation Sans, Arial, sans-serif" font-weight="bold" font-size="10.75" text-anchor="end" fill="#000" >-7.5</text>
<text x="37.80" y="231.30" font-family="Liberation Sans, Arial, sans-serif" font-weight="bold" font-size="10.75" text-anchor="end" fill="#000" >-15.0</text>
<text x="37.80" y="251.30" font-family="Liberation Sans, Arial, sans-serif" font-weight="bold" font-size="10.75" text-anchor="end" fill="#000" >25.0</text>
<text x="37.80" y="273.55" font-family="Liberation Sans, Arial, sans-serif" font-weight="bold" font-size="10.75" text-anchor="end" fill="#000" >12.5</text>
<text x="37.80" y="295.80" font-family="Liberation Sans, Arial, sans-serif" font-weight="bold" font-size="10.75" text-anchor="end" fill="#000" >0.0</text>
<text x="37.80" y="318.05" font-family="Liberation Sans, Arial, sans-serif" font-weight="bold" font-size="10.75" text-anchor="end" fill="#000" >-12.5</text>
<text x="37.80" y="340.30" font-family="Liberation Sans, Arial, sans-serif" font-weight="bold" font-size="10.75" text-anchor="end" fill="#000" >-25.0</text>
<text x="514.00" y="32.30" font-family="Liberation Sans, Arial, sans-serif" font-weight="bold" font-size="10.75" text-anchor="start" fill="#000" >36</text>
<text x="514.00" y="54.55" font-family="Liberation Sans, Arial, sans-serif" font-weight="bold" font-size="10.75" text-anchor="start" fill="#000" >24</text>
<text x="514.00" y="76.80" font-family="Liberation Sans, Arial, sans-serif" font-weight="bold" font-size="10.75" text-anchor="start" fill="#000" >12</text>
<text x="514.00" y="99.05" font-family="Liberation Sans, Arial, sans-serif" font-weight="bold" font-size="10.75" text-anchor="start" fill="#000" >0</text>
<text x="514.00" y="121.30" font-family="Liberation Sans, Arial, sans-serif" font-weight="bold" font-size="10.75" text-anchor="start" fill="#000" >-12</text>
<text x="514.00" y="251.30" font-family="Liberation Sans, Arial, sans-serif" font-weight="bold" font-size="10.75" text-anchor="start" fill="#000" >3</text>
<text x="514.00" y="280.97" font-family="Liberation Sans, Arial, sans-serif" font-weight="bold" font-size="10.75" text-anchor="start" fill="#000" >2</text>
<text x="514.00" y="310.63" font-family="Liberation Sans, Arial, sans-serif" font-weight="bold" font-size="10.75" text-anchor="start" fill="#000" >1</text>
<text x="514.00" y="340.30" font-family="Liberation Sans, Arial, sans-serif" font-weight="bold" font-size="10.75" text-anchor="start" fill="#000" >0</text>
<text x="48.80" y="355.20" font-family="Liberation Sans, Arial, sans-serif" font-weight="bold" font-size="10.75" text-anchor="middle" fill="#000" >0.30</text>
<text x="81.28" y="355.20" font-family="Liberation Sans, Arial, sans-serif" font-weight="bold" font-size="10.75" text-anchor="middle" fill="#000" >0.35</text>
<text x="113.76" y="355.20" font-family="Liberation Sans, Arial, sans-serif" font-weight="bold" font-size="10.75" text-anchor="middle" fill="#000" >0.40</text>
<text x="146.24" y="355.20" font-family="Liberation Sans, Arial, sans-serif" font-weight="bold" font-size="10.75" text-anchor="middle" fill="#000" >0.45</text>
<text x="178.71" y="355.20" font-family="Liberation Sans, Arial, sans-serif" font-weight="bold" font-size="10.75" text-anchor="middle" fill="#000" >0.50</text>
<text x="211.19" y="355.20" font-family="Liberation Sans, Arial, sans-serif" font-weight="bold" font-size="10.75" text-anchor="middle" fill="#000" >0.55</text>
<text x="243.67" y="355.20" font-family="Liberation Sans, Arial, sans-serif" font-weight="bold" font-size="10.75" text-anchor="middle" fill="#000" >0.60</text>
<text x="276.15" y="355.20" font-family="Liberation Sans, Arial, sans-serif" font-weight="bold" font-size="10.75" text-anchor="middle" fill="#000" >0.65</text>
<text x="308.63" y="355.20" font-family="Liberation Sans, Arial, sans-serif" font-weight="bold" font-size="10.75" text-anchor="middle" fill="#000" >0.70</text>
<text x="341.11" y="355.20" font-family="Liberation Sans, Arial, sans-serif" font-weight="bold" font-size="10.75" text-anchor="middle" fill="#000" >0.75</text>
<text x="373.59" y="355.20" font-family="Liberation Sans, Arial, sans-serif" font-weight="bold" font-size="10.75" text-anchor="middle" fill="#000" >0.80</text>
<text x="406.06" y="355.20" font-family="Liberation Sans, Arial, sans-serif" font-weight="bold" font-size="10.75" text-anchor="middle" fill="#000" >0.85</text>
<text x="438.54" y="355.20" font-family="Liberation Sans, Arial, sans-serif" font-weight="bold" font-size="10.75" text-anchor="middle" fill="#000" >0.90</text>
<text x="471.02" y="355.20" font-family="Liberation Sans, Arial, sans-serif" font-weight="bold" font-size="10.75" text-anchor="middle" fill="#000" >0.95</text>
<text x="503.50" y="355.20" font-family="Liberation Sans, Arial, sans-serif" font-weight="bold" font-size="10.75" text-anchor="middle" fill="#000" >1.00</text>
<text transform="translate(15.8,70) rotate(-90)" font-family="Liberation Serif, Times New Roman, serif" font-weight="bold" font-size="14.8" text-anchor="middle">Voltage [kV]</text>
<text transform="translate(536.6,73.8) rotate(90)" font-family="Liberation Serif, Times New Roman, serif" font-weight="bold" font-size="14.5" text-anchor="middle">Voltage [kV]</text>
<text transform="translate(15.5,181.5) rotate(-90)" font-family="Liberation Serif, Times New Roman, serif" font-weight="bold" font-size="14.8" text-anchor="middle">Current [kA]</text>
<text transform="translate(526.4,294.3) rotate(90)" font-family="Liberation Serif, Times New Roman, serif" font-weight="bold" font-size="15.1" text-anchor="middle">Value [V]</text>
<text transform="translate(14.1,288.8) rotate(-90)" font-family="Liberation Serif, serif" font-weight="bold" font-style="italic" font-size="14.5" text-anchor="middle">M</text>
<text x="281.00" y="372.60" font-family="Liberation Serif, Times New Roman, serif" font-weight="bold" font-size="14" text-anchor="middle" fill="#000" >Time [s]</text>
<text x="212.00" y="23.90" font-family="Liberation Serif, Times New Roman, serif" font-weight="bold" font-size="14.5" text-anchor="start" fill="#000" >Fault start</text>
<text x="488.70" y="47.80" font-family="Liberation Sans, Arial, sans-serif" font-weight="bold" font-size="16.5" text-anchor="middle" fill="#000" >(a)</text>
<text x="488.80" y="157.00" font-family="Liberation Sans, Arial, sans-serif" font-weight="bold" font-size="16.5" text-anchor="middle" fill="#000" >(b)</text>
<text x="487.60" y="264.50" font-family="Liberation Sans, Arial, sans-serif" font-weight="bold" font-size="16.5" text-anchor="middle" fill="#000" >(c)</text>
<text x="385.30" y="243.00" font-family="Liberation Sans, Arial, sans-serif" font-weight="bold" font-size="14.4" text-anchor="middle" fill="#ff0000" >0.904</text>
<text x="127.20" y="86.20" font-family="Liberation Serif, serif" font-style="italic" font-weight="bold" font-size="15.5" text-anchor="start" fill="#000" >v</text>
<text x="136.30" y="77.00" font-family="Liberation Sans, Arial, sans-serif" font-weight="bold" font-size="9" text-anchor="start" fill="#000" >a,b,c</text>
<text x="136.30" y="92.00" font-family="Liberation Sans, Arial, sans-serif" font-weight="bold" font-size="9" text-anchor="start" fill="#000" >bus</text>
<text x="230.20" y="121.20" font-family="Liberation Serif, serif" font-style="italic" font-weight="bold" font-size="15.5" text-anchor="start" fill="#000" >v</text>
<text x="238.60" y="112.80" font-family="Liberation Sans, Arial, sans-serif" font-weight="bold" font-size="9" text-anchor="start" fill="#000" >a,b,c</text>
<text x="239.00" y="126.80" font-family="Liberation Sans, Arial, sans-serif" font-weight="bold" font-size="9" text-anchor="start" fill="#000" >SFCL</text>
<text x="365.30" y="20.70" font-family="Liberation Serif, Times New Roman, serif" font-weight="bold" font-size="15" text-anchor="start" fill="#0000ff" >V</text>
<text x="377.00" y="12.30" font-family="Liberation Sans, Arial, sans-serif" font-weight="bold" font-size="8.5" text-anchor="start" fill="#0000ff" >P</text>
<text x="377.00" y="26.70" font-family="Liberation Sans, Arial, sans-serif" font-weight="bold" font-size="9" text-anchor="start" fill="#0000ff" >bus</text>
<text x="465.50" y="85.20" font-family="Liberation Serif, Times New Roman, serif" font-weight="bold" font-size="15" text-anchor="start" fill="#0000ff" >V</text>
<text x="476.70" y="76.70" font-family="Liberation Sans, Arial, sans-serif" font-weight="bold" font-size="8.5" text-anchor="start" fill="#0000ff" >P</text>
<text x="476.50" y="91.00" font-family="Liberation Sans, Arial, sans-serif" font-weight="bold" font-size="9" text-anchor="start" fill="#0000ff" >SFCL</text>
<text x="444.20" y="155.50" font-family="Liberation Serif, Times New Roman, serif" font-weight="bold" font-size="15" text-anchor="start" fill="#0000ff" >I</text>
<text x="450.30" y="146.70" font-family="Liberation Sans, Arial, sans-serif" font-weight="bold" font-size="8.5" text-anchor="start" fill="#0000ff" >P</text>
<text x="450.60" y="161.50" font-family="Liberation Sans, Arial, sans-serif" font-weight="bold" font-size="9.5" text-anchor="start" fill="#0000ff" >11</text>
<text x="461.30" y="211.20" font-family="Liberation Serif, serif" font-style="italic" font-weight="bold" font-size="15.5" text-anchor="start" fill="#000" >i</text>
<text x="466.60" y="203.00" font-family="Liberation Sans, Arial, sans-serif" font-weight="bold" font-size="9.5" text-anchor="start" fill="#000" >a,b,c</text>
<text x="467.00" y="217.80" font-family="Liberation Sans, Arial, sans-serif" font-weight="bold" font-size="9.5" text-anchor="start" fill="#000" >11</text>
<text x="142.80" y="264.00" font-family="Liberation Serif, serif" font-style="italic" font-weight="bold" font-size="15.3" text-anchor="start" fill="#000" >M</text>
<text x="158.00" y="270.60" font-family="Liberation Sans, Arial, sans-serif" font-weight="bold" font-size="9" text-anchor="start" fill="#000" >11</text>
<text x="186.00" y="313.00" font-family="Liberation Serif, serif" font-style="italic" font-weight="bold" font-size="15" text-anchor="start" fill="#000" >INT</text>
<text x="213.00" y="318.80" font-family="Liberation Sans, Arial, sans-serif" font-weight="bold" font-size="9" text-anchor="start" fill="#000" >11</text>
<text x="387.30" y="290.50" font-family="Liberation Serif, serif" font-style="italic" font-weight="bold" font-size="14.5" text-anchor="start" fill="#ff0000" >T</text>
<text x="397.00" y="296.70" font-family="Liberation Sans, Arial, sans-serif" font-weight="bold" font-size="9" text-anchor="start" fill="#ff0000" >11</text></g>
</svg></body></html>
